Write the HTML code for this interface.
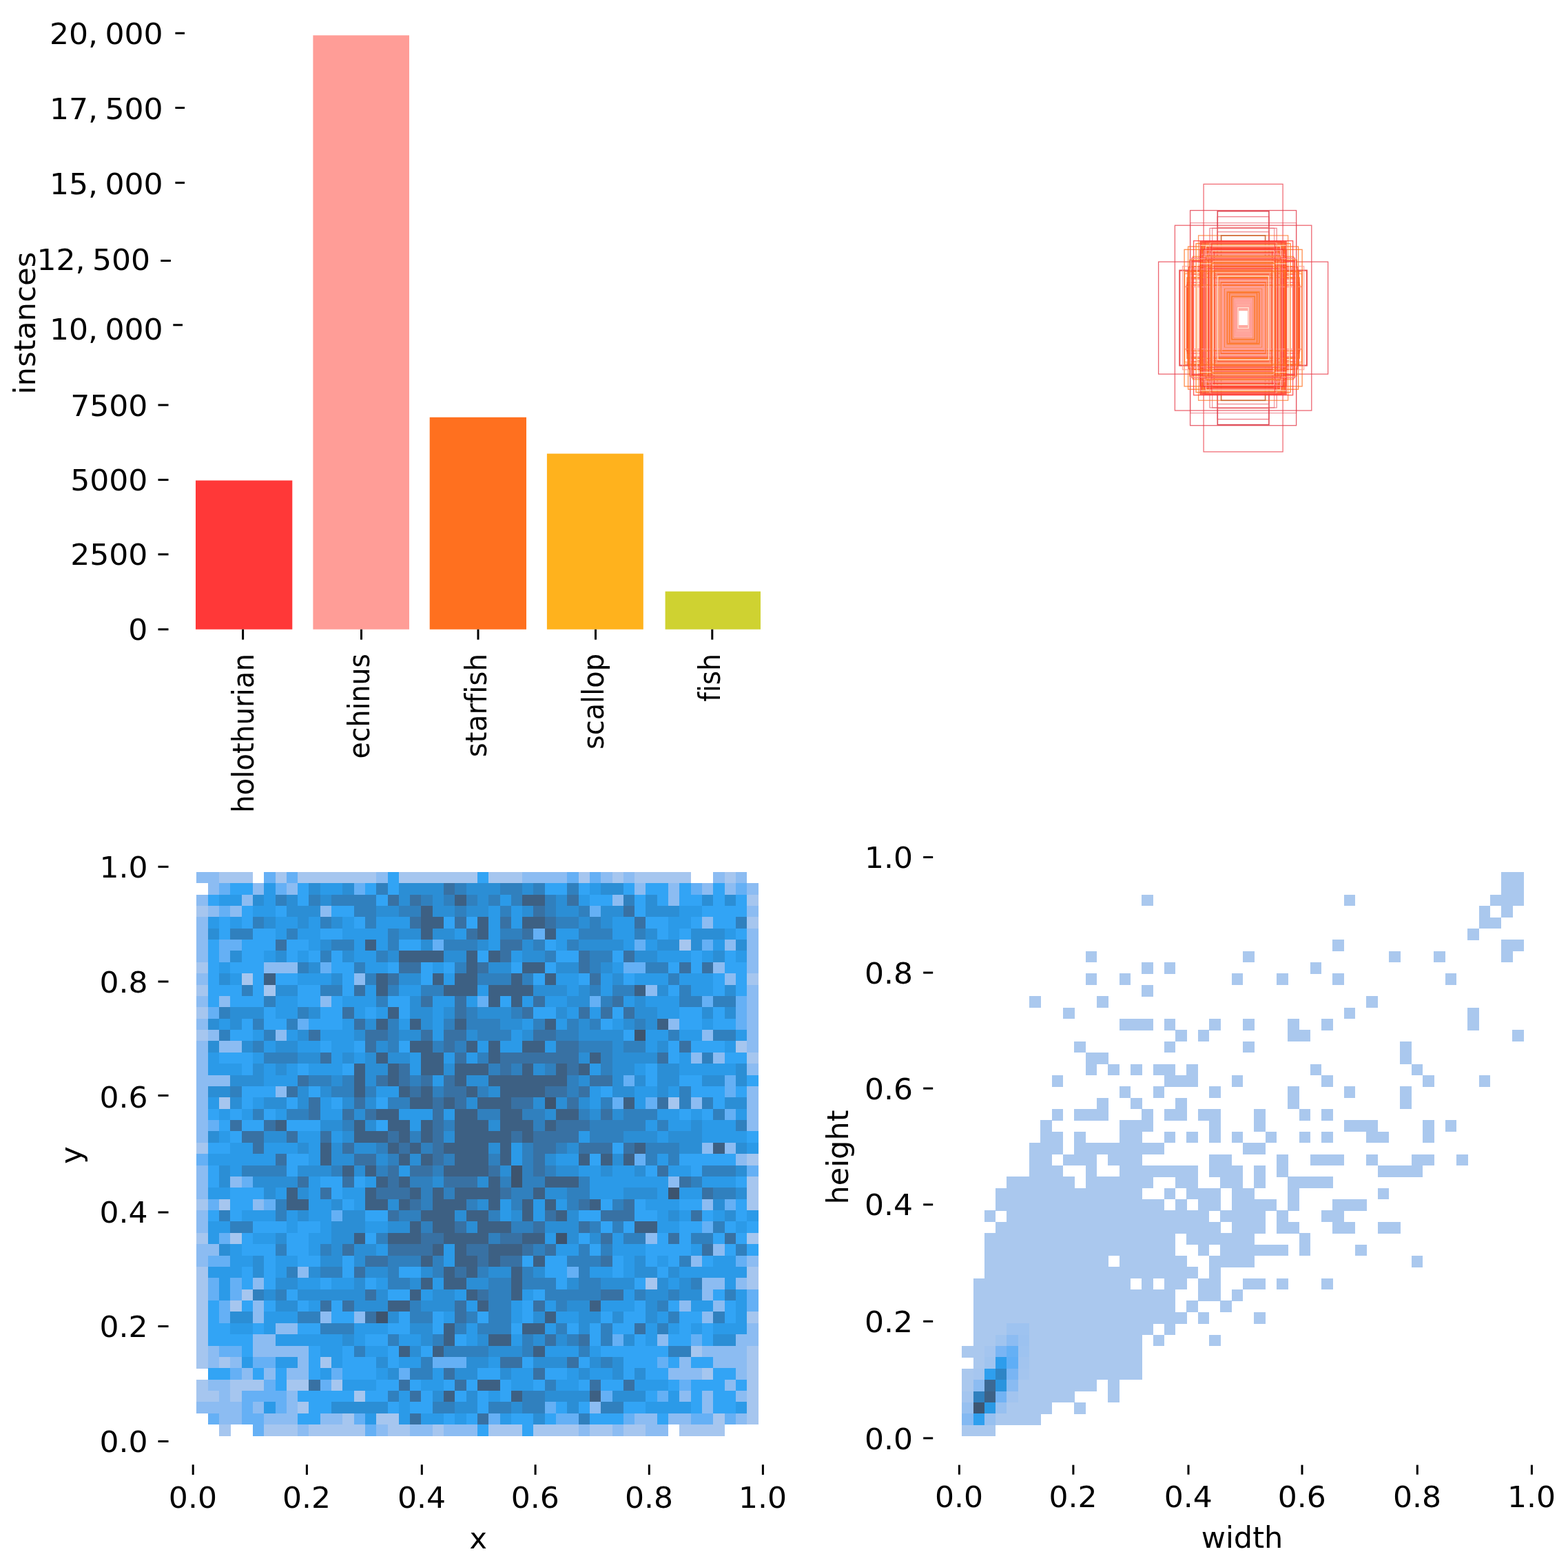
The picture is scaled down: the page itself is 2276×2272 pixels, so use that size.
<!DOCTYPE html>
<html lang="en"><head><meta charset="utf-8"><title>labels</title>
<style>
html,body{margin:0;padding:0;background:#fff;}
body{width:2276px;height:2272px;overflow:hidden;}
svg{display:block;font-family:'DejaVu Sans','Liberation Sans',sans-serif;fill:#000;font-variant-ligatures:none;font-feature-settings:'liga' 0,'clig' 0;font-kerning:none;}
</style></head><body>
<svg xmlns="http://www.w3.org/2000/svg" width="2276" height="2272" viewBox="0 0 2276 2272">
<rect x="0" y="0" width="2276" height="2272" fill="#fff"/>
<rect x="284.0" y="697.5" width="140.3" height="216.2" fill="#FF3838"/>
<rect x="454.4" y="51.3" width="139.6" height="862.4" fill="#FF9D97"/>
<rect x="623.7" y="605.8" width="140.3" height="307.9" fill="#FF701F"/>
<rect x="793.9" y="658.6" width="139.9" height="255.1" fill="#FFB21D"/>
<rect x="965.6" y="858.6" width="138.4" height="55.1" fill="#CFD231"/>
<rect x="254.4" y="46.7" width="13.599999999999994" height="3" fill="#000"/>
<text transform="translate(236.5 64.2) scale(1.025 1)" font-size="43" text-anchor="end">20, <tspan dx="1.5">000</tspan></text>
<rect x="254.4" y="155.0" width="13.599999999999994" height="3" fill="#000"/>
<text transform="translate(236.5 172.6) scale(1.025 1)" font-size="43" text-anchor="end">17, <tspan dx="1.5">500</tspan></text>
<rect x="254.4" y="263.8" width="13.599999999999994" height="3" fill="#000"/>
<text transform="translate(236.5 282.4) scale(1.025 1)" font-size="43" text-anchor="end">15, <tspan dx="1.5">000</tspan></text>
<rect x="233.3" y="377.0" width="14.599999999999994" height="3" fill="#000"/>
<text transform="translate(218.0 391.7) scale(1.025 1)" font-size="43" text-anchor="end">12, <tspan dx="1.5">500</tspan></text>
<rect x="251.3" y="470.3" width="13.699999999999989" height="3" fill="#000"/>
<text transform="translate(236.5 492.6) scale(1.025 1)" font-size="43" text-anchor="end">10, <tspan dx="1.5">000</tspan></text>
<rect x="229.5" y="586.5" width="15.0" height="3" fill="#000"/>
<text transform="translate(214.3 603.5) scale(1.025 1)" font-size="43" text-anchor="end">7500</text>
<rect x="229.5" y="695.1" width="15.0" height="3" fill="#000"/>
<text transform="translate(214.3 712.1) scale(1.025 1)" font-size="43" text-anchor="end">5000</text>
<rect x="229.5" y="803.3" width="15.0" height="3" fill="#000"/>
<text transform="translate(214.3 820.4) scale(1.025 1)" font-size="43" text-anchor="end">2500</text>
<rect x="229.5" y="912.2" width="15.0" height="3" fill="#000"/>
<text transform="translate(214.3 929.2) scale(1.025 1)" font-size="43" text-anchor="end">0</text>
<text transform="translate(50.6 469.0) rotate(-90) scale(1.0 1)" font-size="43.5" text-anchor="middle">instances</text>
<rect x="351.1" y="913.7" width="3" height="14.899999999999977" fill="#000"/>
<text transform="translate(367.6 949.0) rotate(-90) scale(0.938 1)" font-size="43" text-anchor="end">holothurian</text>
<rect x="523.0" y="913.7" width="3" height="14.899999999999977" fill="#000"/>
<text transform="translate(536.3 949.0) rotate(-90) scale(0.917 1)" font-size="43" text-anchor="end">echinus</text>
<rect x="692.5" y="913.7" width="3" height="14.899999999999977" fill="#000"/>
<text transform="translate(706.0 949.0) rotate(-90) scale(0.939 1)" font-size="43" text-anchor="end">starfish</text>
<rect x="863.0" y="913.7" width="3" height="14.899999999999977" fill="#000"/>
<text transform="translate(875.7 949.0) rotate(-90) scale(0.928 1)" font-size="43" text-anchor="end">scallop</text>
<rect x="1032.3" y="913.7" width="3" height="14.899999999999977" fill="#000"/>
<text transform="translate(1045.2 949.0) rotate(-90) scale(0.909 1)" font-size="43" text-anchor="end">fish</text>
<g fill="none">
<rect x="1747.1" y="267.3" width="115.0" height="388.6" stroke="#EE4A55" stroke-width="1.3" stroke-opacity="0.8"/>
<rect x="1727.6" y="305.5" width="154.0" height="312.2" stroke="#E23A4A" stroke-width="1.3" stroke-opacity="0.8"/>
<rect x="1727.6" y="323.6" width="154.0" height="276.0" stroke="#E8505E" stroke-width="1.2" stroke-opacity="0.6"/>
<rect x="1767.3" y="306.6" width="74.6" height="310.0" stroke="#D8303C" stroke-width="1.6" stroke-opacity="0.85"/>
<rect x="1767.3" y="314.6" width="74.6" height="294.0" stroke="#E8505E" stroke-width="1.4" stroke-opacity="0.7"/>
<rect x="1767.3" y="330.2" width="74.6" height="262.8" stroke="#F0807A" stroke-width="1.4" stroke-opacity="0.7"/>
<rect x="1767.3" y="336.6" width="74.6" height="250.0" stroke="#E8606A" stroke-width="1.4" stroke-opacity="0.7"/>
<rect x="1705.4" y="327.2" width="198.4" height="268.8" stroke="#E8404E" stroke-width="1.3" stroke-opacity="0.8"/>
<rect x="1756.0" y="331.3" width="97.2" height="260.6" stroke="#E8505E" stroke-width="1.2" stroke-opacity="0.7"/>
<rect x="1759.6" y="331.3" width="90.0" height="260.6" stroke="#E8505E" stroke-width="1.2" stroke-opacity="0.6"/>
<rect x="1739.6" y="341.9" width="130.0" height="239.4" stroke="#FF701F" stroke-width="1.3" stroke-opacity="0.7"/>
<rect x="1772.6" y="341.9" width="64.0" height="239.4" stroke="#C8602A" stroke-width="1.7" stroke-opacity="0.85"/>
<rect x="1681.6" y="380.1" width="246.0" height="163.0" stroke="#E8404E" stroke-width="1.3" stroke-opacity="0.8"/>
<rect x="1712.3" y="392.6" width="184.6" height="138.0" stroke="#E83030" stroke-width="2.0" stroke-opacity="0.85"/>
<rect x="1719.1" y="362.3" width="171.0" height="198.6" stroke="#FF701F" stroke-width="1.3" stroke-opacity="0.8"/>
<rect x="1724.6" y="358.0" width="160.0" height="207.2" stroke="#FF701F" stroke-width="1.3" stroke-opacity="0.8"/>
<rect x="1732.6" y="349.6" width="144.0" height="224.0" stroke="#FF3838" stroke-width="1.4" stroke-opacity="0.8"/>
<rect x="1716.6" y="386.6" width="176.0" height="150.0" stroke="#FF9D97" stroke-width="1.5" stroke-opacity="0.8"/>
<rect x="1736.1" y="353.6" width="137.0" height="216.0" stroke="#FF701F" stroke-width="1.4" stroke-opacity="0.8"/>
</g>
<g>
<rect x="1742.6" y="350.6" width="124.0" height="222.0" fill="#F8633C" fill-opacity="0.62"/>
<rect x="1752.6" y="371.6" width="104.0" height="180.0" fill="#FA8250" fill-opacity="0.7"/>
<rect x="1762.6" y="391.6" width="84.0" height="140.0" fill="#FFA68E" fill-opacity="1.0"/>
<rect x="1779.1" y="421.6" width="51.0" height="80.0" fill="#FB9058" fill-opacity="1.0"/>
<rect x="1791.1" y="433.1" width="27.0" height="57.0" fill="#FFA9A0" fill-opacity="1.0"/>
</g>
<g fill="none">
<rect x="1797.0" y="446.6" width="15.2" height="30.1" stroke="#FFF1DE" stroke-width="1.25" stroke-opacity="0.8"/>
<rect x="1753.2" y="363.4" width="102.7" height="196.3" stroke="#FF3838" stroke-width="1.2" stroke-opacity="0.75"/>
<rect x="1727.4" y="398.2" width="154.4" height="126.7" stroke="#FF3838" stroke-width="1.2" stroke-opacity="0.75"/>
<rect x="1723.9" y="403.5" width="161.4" height="116.2" stroke="#FF701F" stroke-width="1.2" stroke-opacity="0.75"/>
<rect x="1744.7" y="380.7" width="119.7" height="161.8" stroke="#FF701F" stroke-width="1.2" stroke-opacity="0.75"/>
<rect x="1786.2" y="428.1" width="36.7" height="67.0" stroke="#FF9D97" stroke-width="1.25" stroke-opacity="0.8"/>
<rect x="1759.7" y="365.9" width="89.8" height="191.3" stroke="#FF701F" stroke-width="1.2" stroke-opacity="0.75"/>
<rect x="1722.4" y="413.8" width="164.4" height="95.7" stroke="#FF3838" stroke-width="1.2" stroke-opacity="0.75"/>
<rect x="1752.5" y="362.2" width="104.2" height="198.8" stroke="#FF701F" stroke-width="1.2" stroke-opacity="0.75"/>
<rect x="1775.2" y="415.4" width="58.8" height="92.4" stroke="#FF9D97" stroke-width="1.25" stroke-opacity="0.8"/>
<rect x="1749.6" y="366.0" width="110.0" height="191.1" stroke="#FF701F" stroke-width="1.25" stroke-opacity="0.8"/>
<rect x="1755.9" y="379.4" width="97.4" height="164.5" stroke="#FF701F" stroke-width="1.2" stroke-opacity="0.75"/>
<rect x="1723.3" y="410.2" width="162.7" height="102.7" stroke="#FF3838" stroke-width="1.2" stroke-opacity="0.75"/>
<rect x="1745.3" y="373.7" width="118.6" height="175.9" stroke="#FF9D97" stroke-width="1.2" stroke-opacity="0.75"/>
<rect x="1744.7" y="380.5" width="119.8" height="162.2" stroke="#FF9D97" stroke-width="1.2" stroke-opacity="0.75"/>
<rect x="1783.0" y="425.8" width="43.2" height="71.5" stroke="#FF9D97" stroke-width="1.25" stroke-opacity="0.8"/>
<rect x="1752.9" y="387.0" width="103.4" height="149.3" stroke="#FF701F" stroke-width="1.2" stroke-opacity="0.75"/>
<rect x="1742.2" y="351.3" width="124.7" height="220.7" stroke="#FF701F" stroke-width="1.25" stroke-opacity="0.8"/>
<rect x="1719.3" y="394.6" width="170.7" height="133.9" stroke="#FF701F" stroke-width="1.2" stroke-opacity="0.75"/>
<rect x="1744.5" y="354.8" width="120.3" height="213.6" stroke="#FF701F" stroke-width="1.2" stroke-opacity="0.75"/>
<rect x="1761.4" y="374.5" width="86.5" height="174.2" stroke="#FF701F" stroke-width="1.2" stroke-opacity="0.75"/>
<rect x="1745.3" y="359.2" width="118.5" height="204.7" stroke="#FF701F" stroke-width="1.2" stroke-opacity="0.75"/>
<rect x="1748.3" y="383.0" width="112.6" height="157.1" stroke="#FF701F" stroke-width="1.2" stroke-opacity="0.75"/>
<rect x="1749.3" y="350.3" width="110.6" height="222.5" stroke="#FF3838" stroke-width="1.2" stroke-opacity="0.75"/>
<rect x="1753.8" y="375.3" width="101.6" height="172.6" stroke="#FF3838" stroke-width="1.2" stroke-opacity="0.75"/>
<rect x="1751.3" y="371.5" width="106.5" height="180.3" stroke="#FFF1DE" stroke-width="1.25" stroke-opacity="0.8"/>
<rect x="1748.5" y="359.0" width="112.3" height="205.3" stroke="#FF701F" stroke-width="1.2" stroke-opacity="0.75"/>
<rect x="1755.9" y="373.7" width="97.3" height="175.8" stroke="#FF9D97" stroke-width="1.2" stroke-opacity="0.75"/>
<rect x="1756.8" y="357.7" width="95.6" height="207.8" stroke="#FF3838" stroke-width="1.2" stroke-opacity="0.75"/>
<rect x="1752.7" y="368.0" width="103.8" height="187.1" stroke="#FF701F" stroke-width="1.2" stroke-opacity="0.75"/>
<rect x="1739.5" y="395.1" width="130.3" height="133.0" stroke="#FFF1DE" stroke-width="1.2" stroke-opacity="0.75"/>
<rect x="1743.8" y="352.2" width="121.6" height="218.8" stroke="#FF3838" stroke-width="1.25" stroke-opacity="0.8"/>
<rect x="1745.0" y="385.4" width="119.2" height="152.3" stroke="#FF701F" stroke-width="1.2" stroke-opacity="0.75"/>
<rect x="1780.0" y="421.6" width="49.3" height="80.1" stroke="#FF9D97" stroke-width="1.25" stroke-opacity="0.8"/>
<rect x="1795.2" y="445.3" width="18.8" height="32.6" stroke="#FF9D97" stroke-width="1.25" stroke-opacity="0.8"/>
<rect x="1745.3" y="356.1" width="118.6" height="211.1" stroke="#FF701F" stroke-width="1.25" stroke-opacity="0.8"/>
<rect x="1761.5" y="388.3" width="86.3" height="146.6" stroke="#FFF1DE" stroke-width="1.25" stroke-opacity="0.8"/>
<rect x="1727.2" y="405.0" width="154.8" height="113.1" stroke="#FF3838" stroke-width="1.2" stroke-opacity="0.75"/>
<rect x="1723.9" y="393.1" width="161.5" height="137.1" stroke="#FF3838" stroke-width="1.2" stroke-opacity="0.75"/>
<rect x="1787.9" y="430.6" width="33.3" height="61.9" stroke="#FF701F" stroke-width="1.25" stroke-opacity="0.8"/>
<rect x="1754.0" y="375.5" width="101.2" height="172.2" stroke="#FF9D97" stroke-width="1.25" stroke-opacity="0.8"/>
<rect x="1755.7" y="366.8" width="97.7" height="189.7" stroke="#FF3838" stroke-width="1.2" stroke-opacity="0.75"/>
<rect x="1789.6" y="432.0" width="30.0" height="59.3" stroke="#FF9D97" stroke-width="1.25" stroke-opacity="0.8"/>
<rect x="1754.3" y="360.6" width="100.6" height="202.0" stroke="#FF701F" stroke-width="1.2" stroke-opacity="0.75"/>
<rect x="1719.6" y="415.9" width="170.1" height="91.3" stroke="#FF9D97" stroke-width="1.2" stroke-opacity="0.75"/>
<rect x="1759.6" y="358.6" width="90.0" height="206.0" stroke="#FF9D97" stroke-width="1.2" stroke-opacity="0.75"/>
<rect x="1741.7" y="356.3" width="125.8" height="210.7" stroke="#FFF1DE" stroke-width="1.2" stroke-opacity="0.75"/>
<rect x="1755.1" y="379.4" width="98.9" height="164.4" stroke="#FF3838" stroke-width="1.25" stroke-opacity="0.8"/>
<rect x="1777.4" y="419.2" width="54.4" height="84.8" stroke="#FF701F" stroke-width="1.25" stroke-opacity="0.8"/>
<rect x="1744.6" y="369.2" width="120.1" height="184.8" stroke="#FF9D97" stroke-width="1.2" stroke-opacity="0.75"/>
<rect x="1764.4" y="396.6" width="80.5" height="130.0" stroke="#FF9D97" stroke-width="1.25" stroke-opacity="0.8"/>
<rect x="1751.4" y="359.8" width="106.5" height="203.7" stroke="#FF3838" stroke-width="1.2" stroke-opacity="0.75"/>
<rect x="1781.4" y="424.5" width="46.4" height="74.1" stroke="#FF701F" stroke-width="1.25" stroke-opacity="0.8"/>
<rect x="1792.6" y="437.3" width="23.9" height="48.6" stroke="#FF9D97" stroke-width="1.25" stroke-opacity="0.8"/>
<rect x="1742.4" y="378.9" width="124.3" height="165.4" stroke="#FF701F" stroke-width="1.2" stroke-opacity="0.75"/>
<rect x="1756.3" y="378.3" width="96.6" height="166.6" stroke="#FFF1DE" stroke-width="1.25" stroke-opacity="0.8"/>
<rect x="1744.6" y="387.7" width="120.0" height="147.8" stroke="#FF701F" stroke-width="1.2" stroke-opacity="0.75"/>
<rect x="1742.5" y="363.5" width="124.2" height="196.3" stroke="#FF701F" stroke-width="1.2" stroke-opacity="0.75"/>
<rect x="1793.8" y="440.0" width="21.6" height="43.3" stroke="#FF9D97" stroke-width="1.25" stroke-opacity="0.8"/>
<rect x="1751.2" y="368.0" width="106.8" height="187.2" stroke="#FF3838" stroke-width="1.2" stroke-opacity="0.75"/>
<rect x="1763.3" y="391.7" width="82.5" height="139.8" stroke="#FF701F" stroke-width="1.25" stroke-opacity="0.8"/>
<rect x="1746.7" y="361.5" width="115.9" height="200.1" stroke="#FF3838" stroke-width="1.25" stroke-opacity="0.8"/>
<rect x="1730.4" y="379.0" width="148.4" height="165.1" stroke="#FF3838" stroke-width="1.2" stroke-opacity="0.75"/>
<rect x="1769.0" y="402.4" width="71.2" height="118.4" stroke="#FF701F" stroke-width="1.25" stroke-opacity="0.8"/>
<rect x="1737.6" y="399.8" width="134.0" height="123.6" stroke="#FF701F" stroke-width="1.2" stroke-opacity="0.75"/>
<rect x="1743.1" y="414.3" width="123.0" height="94.6" stroke="#FF701F" stroke-width="1.2" stroke-opacity="0.75"/>
<rect x="1791.2" y="435.3" width="26.7" height="52.5" stroke="#FF9D97" stroke-width="1.25" stroke-opacity="0.8"/>
<rect x="1746.3" y="375.6" width="116.5" height="171.9" stroke="#FF3838" stroke-width="1.2" stroke-opacity="0.75"/>
<rect x="1727.9" y="403.1" width="153.4" height="116.9" stroke="#FF701F" stroke-width="1.2" stroke-opacity="0.75"/>
<rect x="1743.0" y="371.8" width="123.2" height="179.7" stroke="#FF3838" stroke-width="1.2" stroke-opacity="0.75"/>
<rect x="1757.5" y="383.9" width="94.2" height="155.4" stroke="#FF3838" stroke-width="1.25" stroke-opacity="0.8"/>
<rect x="1753.3" y="367.8" width="102.6" height="187.5" stroke="#FF9D97" stroke-width="1.2" stroke-opacity="0.75"/>
<rect x="1725.5" y="387.6" width="158.2" height="148.0" stroke="#FF3838" stroke-width="1.2" stroke-opacity="0.75"/>
<rect x="1750.9" y="369.0" width="107.3" height="185.3" stroke="#FF9D97" stroke-width="1.2" stroke-opacity="0.75"/>
<rect x="1719.2" y="416.6" width="170.7" height="90.0" stroke="#FF9D97" stroke-width="1.2" stroke-opacity="0.75"/>
<rect x="1752.7" y="373.7" width="103.7" height="175.8" stroke="#FFF1DE" stroke-width="1.25" stroke-opacity="0.8"/>
<rect x="1722.8" y="402.8" width="163.7" height="117.6" stroke="#FF701F" stroke-width="1.2" stroke-opacity="0.75"/>
<rect x="1762.5" y="361.4" width="84.2" height="200.3" stroke="#FF3838" stroke-width="1.2" stroke-opacity="0.75"/>
<rect x="1743.7" y="379.1" width="121.7" height="165.0" stroke="#FF701F" stroke-width="1.2" stroke-opacity="0.75"/>
<rect x="1731.3" y="372.4" width="146.6" height="178.4" stroke="#FF701F" stroke-width="1.2" stroke-opacity="0.75"/>
<rect x="1731.2" y="390.1" width="146.8" height="142.9" stroke="#FF3838" stroke-width="1.2" stroke-opacity="0.75"/>
<rect x="1728.9" y="413.7" width="151.3" height="95.7" stroke="#FF701F" stroke-width="1.2" stroke-opacity="0.75"/>
<rect x="1753.7" y="372.7" width="101.7" height="177.7" stroke="#FF701F" stroke-width="1.2" stroke-opacity="0.75"/>
<rect x="1760.7" y="379.9" width="87.7" height="163.4" stroke="#FF701F" stroke-width="1.2" stroke-opacity="0.75"/>
<rect x="1759.0" y="364.1" width="91.1" height="195.0" stroke="#FFF1DE" stroke-width="1.2" stroke-opacity="0.75"/>
<rect x="1719.7" y="397.4" width="169.8" height="128.4" stroke="#FF701F" stroke-width="1.2" stroke-opacity="0.75"/>
<rect x="1773.5" y="412.0" width="62.3" height="99.2" stroke="#FF9D97" stroke-width="1.25" stroke-opacity="0.8"/>
<rect x="1727.8" y="378.7" width="153.6" height="165.8" stroke="#FF3838" stroke-width="1.2" stroke-opacity="0.75"/>
<rect x="1778.6" y="420.1" width="52.1" height="83.1" stroke="#FF9D97" stroke-width="1.25" stroke-opacity="0.8"/>
<rect x="1742.8" y="384.7" width="123.5" height="153.8" stroke="#FF3838" stroke-width="1.2" stroke-opacity="0.75"/>
<rect x="1750.5" y="357.1" width="108.2" height="209.0" stroke="#FFF1DE" stroke-width="1.2" stroke-opacity="0.75"/>
<rect x="1748.2" y="363.5" width="112.7" height="196.1" stroke="#FF9D97" stroke-width="1.25" stroke-opacity="0.8"/>
<rect x="1784.7" y="425.1" width="39.9" height="73.1" stroke="#FF701F" stroke-width="1.25" stroke-opacity="0.8"/>
<rect x="1727.2" y="390.7" width="154.9" height="141.8" stroke="#FF9D97" stroke-width="1.2" stroke-opacity="0.75"/>
<rect x="1742.0" y="350.4" width="125.3" height="222.4" stroke="#FF3838" stroke-width="1.2" stroke-opacity="0.75"/>
<rect x="1756.1" y="352.7" width="97.1" height="217.7" stroke="#FF9D97" stroke-width="1.2" stroke-opacity="0.75"/>
<rect x="1757.4" y="374.2" width="94.3" height="174.8" stroke="#FF701F" stroke-width="1.2" stroke-opacity="0.75"/>
<rect x="1747.7" y="371.9" width="113.8" height="179.4" stroke="#FF9D97" stroke-width="1.2" stroke-opacity="0.75"/>
<rect x="1728.8" y="375.3" width="151.6" height="172.5" stroke="#FFF1DE" stroke-width="1.2" stroke-opacity="0.75"/>
<rect x="1758.8" y="353.3" width="91.7" height="216.6" stroke="#FF3838" stroke-width="1.2" stroke-opacity="0.75"/>
<rect x="1766.2" y="396.4" width="76.7" height="130.3" stroke="#FF9D97" stroke-width="1.25" stroke-opacity="0.8"/>
<rect x="1760.0" y="384.8" width="89.2" height="153.6" stroke="#FF9D97" stroke-width="1.25" stroke-opacity="0.8"/>
<rect x="1761.0" y="379.3" width="87.3" height="164.6" stroke="#FFF1DE" stroke-width="1.2" stroke-opacity="0.75"/>
<rect x="1725.1" y="393.0" width="159.0" height="137.3" stroke="#FF701F" stroke-width="1.2" stroke-opacity="0.75"/>
<rect x="1751.0" y="371.5" width="107.3" height="180.1" stroke="#FF701F" stroke-width="1.2" stroke-opacity="0.75"/>
<rect x="1754.3" y="389.9" width="100.6" height="143.3" stroke="#FF3838" stroke-width="1.2" stroke-opacity="0.75"/>
<rect x="1724.9" y="394.6" width="159.5" height="134.0" stroke="#FF701F" stroke-width="1.2" stroke-opacity="0.75"/>
<rect x="1730.7" y="386.8" width="147.9" height="149.7" stroke="#FF701F" stroke-width="1.2" stroke-opacity="0.75"/>
<rect x="1748.9" y="376.4" width="111.4" height="170.4" stroke="#FF3838" stroke-width="1.2" stroke-opacity="0.75"/>
<rect x="1741.7" y="362.3" width="125.8" height="198.5" stroke="#FF3838" stroke-width="1.2" stroke-opacity="0.75"/>
<rect x="1772.2" y="409.8" width="64.8" height="103.6" stroke="#FF701F" stroke-width="1.25" stroke-opacity="0.8"/>
<rect x="1767.8" y="400.8" width="73.6" height="121.5" stroke="#FFF1DE" stroke-width="1.25" stroke-opacity="0.8"/>
<rect x="1770.7" y="407.3" width="67.8" height="108.6" stroke="#FF9D97" stroke-width="1.25" stroke-opacity="0.8"/>
<rect x="1776.2" y="417.9" width="56.7" height="87.4" stroke="#FF9D97" stroke-width="1.25" stroke-opacity="0.8"/>
<rect x="1729.8" y="374.7" width="149.6" height="173.8" stroke="#FF3838" stroke-width="1.2" stroke-opacity="0.75"/>
<rect x="1737.5" y="382.9" width="134.1" height="157.5" stroke="#FFF1DE" stroke-width="1.2" stroke-opacity="0.75"/>
<rect x="1726.7" y="377.3" width="155.8" height="168.7" stroke="#FF701F" stroke-width="1.2" stroke-opacity="0.75"/>
<rect x="1742.6" y="381.2" width="124.0" height="160.9" stroke="#FF701F" stroke-width="1.2" stroke-opacity="0.75"/>
<rect x="1758.7" y="382.5" width="91.9" height="158.3" stroke="#FF701F" stroke-width="1.25" stroke-opacity="0.8"/>
</g>
<rect x="1798.3" y="451.2" width="12.6" height="20.8" fill="#FFFFFF"/>
<g shape-rendering="crispEdges">
<rect x="285.4" y="1265.7" width="32.9" height="16.7" fill="#8cbcf2"/>
<rect x="318.0" y="1265.7" width="49.2" height="16.7" fill="#a6c6ef"/>
<rect x="383.2" y="1265.7" width="16.6" height="16.7" fill="#65b0f5"/>
<rect x="399.5" y="1265.7" width="16.6" height="16.7" fill="#a6c6ef"/>
<rect x="415.8" y="1265.7" width="16.6" height="16.7" fill="#65b0f5"/>
<rect x="432.1" y="1265.7" width="114.4" height="16.7" fill="#a6c6ef"/>
<rect x="546.2" y="1265.7" width="16.6" height="16.7" fill="#8cbcf2"/>
<rect x="562.5" y="1265.7" width="16.6" height="16.7" fill="#32a4f5"/>
<rect x="578.8" y="1265.7" width="114.4" height="16.7" fill="#a6c6ef"/>
<rect x="692.9" y="1265.7" width="16.6" height="16.7" fill="#32a4f5"/>
<rect x="709.2" y="1265.7" width="49.2" height="16.7" fill="#a6c6ef"/>
<rect x="758.1" y="1265.7" width="65.5" height="16.7" fill="#8cbcf2"/>
<rect x="823.3" y="1265.7" width="16.6" height="16.7" fill="#65b0f5"/>
<rect x="839.6" y="1265.7" width="16.6" height="16.7" fill="#a6c6ef"/>
<rect x="855.9" y="1265.7" width="16.6" height="16.7" fill="#65b0f5"/>
<rect x="872.2" y="1265.7" width="16.6" height="16.7" fill="#8cbcf2"/>
<rect x="888.5" y="1265.7" width="16.6" height="16.7" fill="#a6c6ef"/>
<rect x="904.8" y="1265.7" width="16.6" height="16.7" fill="#8cbcf2"/>
<rect x="921.1" y="1265.7" width="81.8" height="16.7" fill="#a6c6ef"/>
<rect x="1035.2" y="1265.7" width="16.6" height="16.7" fill="#8cbcf2"/>
<rect x="1051.5" y="1265.7" width="16.6" height="16.7" fill="#a6c6ef"/>
<rect x="1067.8" y="1265.7" width="16.6" height="16.7" fill="#8cbcf2"/>
<rect x="301.7" y="1282.1" width="16.6" height="16.7" fill="#8cbcf2"/>
<rect x="318.0" y="1282.1" width="16.6" height="16.7" fill="#65b0f5"/>
<rect x="334.3" y="1282.1" width="32.9" height="16.7" fill="#32a4f5"/>
<rect x="366.9" y="1282.1" width="16.6" height="16.7" fill="#8cbcf2"/>
<rect x="383.2" y="1282.1" width="16.6" height="16.7" fill="#2b9ae8"/>
<rect x="399.5" y="1282.1" width="16.6" height="16.7" fill="#65b0f5"/>
<rect x="415.8" y="1282.1" width="16.6" height="16.7" fill="#8cbcf2"/>
<rect x="432.1" y="1282.1" width="16.6" height="16.7" fill="#32a4f5"/>
<rect x="448.4" y="1282.1" width="16.6" height="16.7" fill="#2b8ed5"/>
<rect x="464.7" y="1282.1" width="32.9" height="16.7" fill="#2b9ae8"/>
<rect x="497.3" y="1282.1" width="16.6" height="16.7" fill="#2b8ed5"/>
<rect x="513.6" y="1282.1" width="16.6" height="16.7" fill="#65b0f5"/>
<rect x="529.9" y="1282.1" width="16.6" height="16.7" fill="#32a4f5"/>
<rect x="546.2" y="1282.1" width="16.6" height="16.7" fill="#3080be"/>
<rect x="562.5" y="1282.1" width="16.6" height="16.7" fill="#32a4f5"/>
<rect x="578.8" y="1282.1" width="65.5" height="16.7" fill="#2b8ed5"/>
<rect x="644.0" y="1282.1" width="16.6" height="16.7" fill="#3871a3"/>
<rect x="660.3" y="1282.1" width="16.6" height="16.7" fill="#3080be"/>
<rect x="676.6" y="1282.1" width="49.2" height="16.7" fill="#2b8ed5"/>
<rect x="725.5" y="1282.1" width="32.9" height="16.7" fill="#3080be"/>
<rect x="758.1" y="1282.1" width="16.6" height="16.7" fill="#2b8ed5"/>
<rect x="774.4" y="1282.1" width="16.6" height="16.7" fill="#3080be"/>
<rect x="790.7" y="1282.1" width="32.9" height="16.7" fill="#32a4f5"/>
<rect x="823.3" y="1282.1" width="16.6" height="16.7" fill="#3080be"/>
<rect x="839.6" y="1282.1" width="16.6" height="16.7" fill="#32a4f5"/>
<rect x="855.9" y="1282.1" width="16.6" height="16.7" fill="#2b9ae8"/>
<rect x="872.2" y="1282.1" width="32.9" height="16.7" fill="#2b8ed5"/>
<rect x="904.8" y="1282.1" width="16.6" height="16.7" fill="#32a4f5"/>
<rect x="921.1" y="1282.1" width="16.6" height="16.7" fill="#8cbcf2"/>
<rect x="937.4" y="1282.1" width="32.9" height="16.7" fill="#32a4f5"/>
<rect x="970.0" y="1282.1" width="16.6" height="16.7" fill="#8cbcf2"/>
<rect x="986.3" y="1282.1" width="16.6" height="16.7" fill="#32a4f5"/>
<rect x="1002.6" y="1282.1" width="16.6" height="16.7" fill="#65b0f5"/>
<rect x="1018.9" y="1282.1" width="16.6" height="16.7" fill="#8cbcf2"/>
<rect x="1035.2" y="1282.1" width="16.6" height="16.7" fill="#32a4f5"/>
<rect x="1051.5" y="1282.1" width="16.6" height="16.7" fill="#8cbcf2"/>
<rect x="1067.8" y="1282.1" width="16.6" height="16.7" fill="#65b0f5"/>
<rect x="1084.1" y="1282.1" width="16.6" height="16.7" fill="#8cbcf2"/>
<rect x="285.4" y="1298.5" width="16.6" height="16.6" fill="#8cbcf2"/>
<rect x="301.7" y="1298.5" width="16.6" height="16.6" fill="#32a4f5"/>
<rect x="318.0" y="1298.5" width="32.9" height="16.6" fill="#2b9ae8"/>
<rect x="350.6" y="1298.5" width="16.6" height="16.6" fill="#8cbcf2"/>
<rect x="366.9" y="1298.5" width="16.6" height="16.6" fill="#2b8ed5"/>
<rect x="383.2" y="1298.5" width="16.6" height="16.6" fill="#2b9ae8"/>
<rect x="399.5" y="1298.5" width="16.6" height="16.6" fill="#3080be"/>
<rect x="415.8" y="1298.5" width="16.6" height="16.6" fill="#2b8ed5"/>
<rect x="432.1" y="1298.5" width="16.6" height="16.6" fill="#32a4f5"/>
<rect x="448.4" y="1298.5" width="16.6" height="16.6" fill="#3080be"/>
<rect x="464.7" y="1298.5" width="16.6" height="16.6" fill="#2b8ed5"/>
<rect x="481.0" y="1298.5" width="65.5" height="16.6" fill="#3080be"/>
<rect x="546.2" y="1298.5" width="16.6" height="16.6" fill="#32a4f5"/>
<rect x="562.5" y="1298.5" width="16.6" height="16.6" fill="#3871a3"/>
<rect x="578.8" y="1298.5" width="16.6" height="16.6" fill="#2b8ed5"/>
<rect x="595.1" y="1298.5" width="16.6" height="16.6" fill="#3871a3"/>
<rect x="611.4" y="1298.5" width="16.6" height="16.6" fill="#3080be"/>
<rect x="627.7" y="1298.5" width="16.6" height="16.6" fill="#2b8ed5"/>
<rect x="644.0" y="1298.5" width="16.6" height="16.6" fill="#3080be"/>
<rect x="660.3" y="1298.5" width="16.6" height="16.6" fill="#3d6083"/>
<rect x="676.6" y="1298.5" width="16.6" height="16.6" fill="#3080be"/>
<rect x="692.9" y="1298.5" width="16.6" height="16.6" fill="#2b8ed5"/>
<rect x="709.2" y="1298.5" width="16.6" height="16.6" fill="#3080be"/>
<rect x="725.5" y="1298.5" width="16.6" height="16.6" fill="#2b9ae8"/>
<rect x="741.8" y="1298.5" width="16.6" height="16.6" fill="#3080be"/>
<rect x="758.1" y="1298.5" width="32.9" height="16.6" fill="#3d6083"/>
<rect x="790.7" y="1298.5" width="16.6" height="16.6" fill="#3080be"/>
<rect x="807.0" y="1298.5" width="16.6" height="16.6" fill="#2b8ed5"/>
<rect x="823.3" y="1298.5" width="16.6" height="16.6" fill="#3871a3"/>
<rect x="839.6" y="1298.5" width="16.6" height="16.6" fill="#2b9ae8"/>
<rect x="855.9" y="1298.5" width="32.9" height="16.6" fill="#32a4f5"/>
<rect x="888.5" y="1298.5" width="16.6" height="16.6" fill="#8cbcf2"/>
<rect x="904.8" y="1298.5" width="16.6" height="16.6" fill="#3080be"/>
<rect x="921.1" y="1298.5" width="16.6" height="16.6" fill="#32a4f5"/>
<rect x="937.4" y="1298.5" width="16.6" height="16.6" fill="#2b8ed5"/>
<rect x="953.7" y="1298.5" width="16.6" height="16.6" fill="#32a4f5"/>
<rect x="970.0" y="1298.5" width="16.6" height="16.6" fill="#8cbcf2"/>
<rect x="986.3" y="1298.5" width="32.9" height="16.6" fill="#32a4f5"/>
<rect x="1018.9" y="1298.5" width="16.6" height="16.6" fill="#2b8ed5"/>
<rect x="1035.2" y="1298.5" width="16.6" height="16.6" fill="#32a4f5"/>
<rect x="1051.5" y="1298.5" width="16.6" height="16.6" fill="#2b8ed5"/>
<rect x="1067.8" y="1298.5" width="16.6" height="16.6" fill="#32a4f5"/>
<rect x="1084.1" y="1298.5" width="16.6" height="16.6" fill="#a6c6ef"/>
<rect x="285.4" y="1314.8" width="16.6" height="16.7" fill="#a6c6ef"/>
<rect x="301.7" y="1314.8" width="16.6" height="16.7" fill="#8cbcf2"/>
<rect x="318.0" y="1314.8" width="16.6" height="16.7" fill="#65b0f5"/>
<rect x="334.3" y="1314.8" width="16.6" height="16.7" fill="#8cbcf2"/>
<rect x="350.6" y="1314.8" width="16.6" height="16.7" fill="#32a4f5"/>
<rect x="366.9" y="1314.8" width="32.9" height="16.7" fill="#2b9ae8"/>
<rect x="399.5" y="1314.8" width="16.6" height="16.7" fill="#32a4f5"/>
<rect x="415.8" y="1314.8" width="49.2" height="16.7" fill="#2b8ed5"/>
<rect x="464.7" y="1314.8" width="16.6" height="16.7" fill="#8cbcf2"/>
<rect x="481.0" y="1314.8" width="32.9" height="16.7" fill="#32a4f5"/>
<rect x="513.6" y="1314.8" width="32.9" height="16.7" fill="#3080be"/>
<rect x="546.2" y="1314.8" width="32.9" height="16.7" fill="#2b8ed5"/>
<rect x="578.8" y="1314.8" width="32.9" height="16.7" fill="#3080be"/>
<rect x="611.4" y="1314.8" width="16.6" height="16.7" fill="#3d6083"/>
<rect x="627.7" y="1314.8" width="32.9" height="16.7" fill="#2b8ed5"/>
<rect x="660.3" y="1314.8" width="16.6" height="16.7" fill="#3080be"/>
<rect x="676.6" y="1314.8" width="32.9" height="16.7" fill="#2b8ed5"/>
<rect x="709.2" y="1314.8" width="16.6" height="16.7" fill="#2b9ae8"/>
<rect x="725.5" y="1314.8" width="16.6" height="16.7" fill="#3080be"/>
<rect x="741.8" y="1314.8" width="16.6" height="16.7" fill="#2b9ae8"/>
<rect x="758.1" y="1314.8" width="16.6" height="16.7" fill="#2b8ed5"/>
<rect x="774.4" y="1314.8" width="16.6" height="16.7" fill="#3871a3"/>
<rect x="790.7" y="1314.8" width="16.6" height="16.7" fill="#3080be"/>
<rect x="807.0" y="1314.8" width="32.9" height="16.7" fill="#2b8ed5"/>
<rect x="839.6" y="1314.8" width="16.6" height="16.7" fill="#3080be"/>
<rect x="855.9" y="1314.8" width="16.6" height="16.7" fill="#65b0f5"/>
<rect x="872.2" y="1314.8" width="32.9" height="16.7" fill="#2b8ed5"/>
<rect x="904.8" y="1314.8" width="16.6" height="16.7" fill="#3871a3"/>
<rect x="921.1" y="1314.8" width="16.6" height="16.7" fill="#32a4f5"/>
<rect x="937.4" y="1314.8" width="49.2" height="16.7" fill="#2b8ed5"/>
<rect x="986.3" y="1314.8" width="32.9" height="16.7" fill="#2b9ae8"/>
<rect x="1018.9" y="1314.8" width="65.5" height="16.7" fill="#32a4f5"/>
<rect x="1084.1" y="1314.8" width="16.6" height="16.7" fill="#8cbcf2"/>
<rect x="285.4" y="1331.2" width="16.6" height="16.7" fill="#8cbcf2"/>
<rect x="301.7" y="1331.2" width="16.6" height="16.7" fill="#2b9ae8"/>
<rect x="318.0" y="1331.2" width="16.6" height="16.7" fill="#32a4f5"/>
<rect x="334.3" y="1331.2" width="16.6" height="16.7" fill="#2b9ae8"/>
<rect x="350.6" y="1331.2" width="16.6" height="16.7" fill="#32a4f5"/>
<rect x="366.9" y="1331.2" width="16.6" height="16.7" fill="#3080be"/>
<rect x="383.2" y="1331.2" width="16.6" height="16.7" fill="#2b8ed5"/>
<rect x="399.5" y="1331.2" width="32.9" height="16.7" fill="#2b9ae8"/>
<rect x="432.1" y="1331.2" width="16.6" height="16.7" fill="#2b8ed5"/>
<rect x="448.4" y="1331.2" width="16.6" height="16.7" fill="#2b9ae8"/>
<rect x="464.7" y="1331.2" width="16.6" height="16.7" fill="#3080be"/>
<rect x="481.0" y="1331.2" width="16.6" height="16.7" fill="#2b8ed5"/>
<rect x="497.3" y="1331.2" width="16.6" height="16.7" fill="#2b9ae8"/>
<rect x="513.6" y="1331.2" width="16.6" height="16.7" fill="#32a4f5"/>
<rect x="529.9" y="1331.2" width="16.6" height="16.7" fill="#3080be"/>
<rect x="546.2" y="1331.2" width="49.2" height="16.7" fill="#2b9ae8"/>
<rect x="595.1" y="1331.2" width="16.6" height="16.7" fill="#3871a3"/>
<rect x="611.4" y="1331.2" width="32.9" height="16.7" fill="#3d6083"/>
<rect x="644.0" y="1331.2" width="16.6" height="16.7" fill="#32a4f5"/>
<rect x="660.3" y="1331.2" width="16.6" height="16.7" fill="#3871a3"/>
<rect x="676.6" y="1331.2" width="16.6" height="16.7" fill="#32a4f5"/>
<rect x="692.9" y="1331.2" width="16.6" height="16.7" fill="#3d6083"/>
<rect x="709.2" y="1331.2" width="16.6" height="16.7" fill="#2b9ae8"/>
<rect x="725.5" y="1331.2" width="16.6" height="16.7" fill="#3871a3"/>
<rect x="741.8" y="1331.2" width="16.6" height="16.7" fill="#2b9ae8"/>
<rect x="758.1" y="1331.2" width="32.9" height="16.7" fill="#3d6083"/>
<rect x="790.7" y="1331.2" width="16.6" height="16.7" fill="#3871a3"/>
<rect x="807.0" y="1331.2" width="32.9" height="16.7" fill="#3080be"/>
<rect x="839.6" y="1331.2" width="16.6" height="16.7" fill="#2b8ed5"/>
<rect x="855.9" y="1331.2" width="16.6" height="16.7" fill="#3080be"/>
<rect x="872.2" y="1331.2" width="16.6" height="16.7" fill="#2b8ed5"/>
<rect x="888.5" y="1331.2" width="32.9" height="16.7" fill="#2b9ae8"/>
<rect x="921.1" y="1331.2" width="16.6" height="16.7" fill="#3871a3"/>
<rect x="937.4" y="1331.2" width="32.9" height="16.7" fill="#32a4f5"/>
<rect x="970.0" y="1331.2" width="32.9" height="16.7" fill="#2b9ae8"/>
<rect x="1002.6" y="1331.2" width="16.6" height="16.7" fill="#32a4f5"/>
<rect x="1018.9" y="1331.2" width="16.6" height="16.7" fill="#8cbcf2"/>
<rect x="1035.2" y="1331.2" width="32.9" height="16.7" fill="#32a4f5"/>
<rect x="1067.8" y="1331.2" width="16.6" height="16.7" fill="#3080be"/>
<rect x="1084.1" y="1331.2" width="16.6" height="16.7" fill="#a6c6ef"/>
<rect x="285.4" y="1347.6" width="16.6" height="16.7" fill="#8cbcf2"/>
<rect x="301.7" y="1347.6" width="16.6" height="16.7" fill="#2b8ed5"/>
<rect x="318.0" y="1347.6" width="16.6" height="16.7" fill="#32a4f5"/>
<rect x="334.3" y="1347.6" width="32.9" height="16.7" fill="#3080be"/>
<rect x="366.9" y="1347.6" width="32.9" height="16.7" fill="#32a4f5"/>
<rect x="399.5" y="1347.6" width="16.6" height="16.7" fill="#2b9ae8"/>
<rect x="415.8" y="1347.6" width="16.6" height="16.7" fill="#3080be"/>
<rect x="432.1" y="1347.6" width="32.9" height="16.7" fill="#2b9ae8"/>
<rect x="464.7" y="1347.6" width="32.9" height="16.7" fill="#32a4f5"/>
<rect x="497.3" y="1347.6" width="65.5" height="16.7" fill="#2b9ae8"/>
<rect x="562.5" y="1347.6" width="16.6" height="16.7" fill="#3080be"/>
<rect x="578.8" y="1347.6" width="32.9" height="16.7" fill="#2b8ed5"/>
<rect x="611.4" y="1347.6" width="16.6" height="16.7" fill="#3d6083"/>
<rect x="627.7" y="1347.6" width="32.9" height="16.7" fill="#2b8ed5"/>
<rect x="660.3" y="1347.6" width="16.6" height="16.7" fill="#2b9ae8"/>
<rect x="676.6" y="1347.6" width="16.6" height="16.7" fill="#3871a3"/>
<rect x="692.9" y="1347.6" width="16.6" height="16.7" fill="#3d6083"/>
<rect x="709.2" y="1347.6" width="16.6" height="16.7" fill="#2b9ae8"/>
<rect x="725.5" y="1347.6" width="32.9" height="16.7" fill="#3080be"/>
<rect x="758.1" y="1347.6" width="16.6" height="16.7" fill="#3871a3"/>
<rect x="774.4" y="1347.6" width="16.6" height="16.7" fill="#65b0f5"/>
<rect x="790.7" y="1347.6" width="16.6" height="16.7" fill="#3d6083"/>
<rect x="807.0" y="1347.6" width="32.9" height="16.7" fill="#2b9ae8"/>
<rect x="839.6" y="1347.6" width="49.2" height="16.7" fill="#3080be"/>
<rect x="888.5" y="1347.6" width="32.9" height="16.7" fill="#2b9ae8"/>
<rect x="921.1" y="1347.6" width="16.6" height="16.7" fill="#3080be"/>
<rect x="937.4" y="1347.6" width="16.6" height="16.7" fill="#2b8ed5"/>
<rect x="953.7" y="1347.6" width="16.6" height="16.7" fill="#32a4f5"/>
<rect x="970.0" y="1347.6" width="16.6" height="16.7" fill="#2b9ae8"/>
<rect x="986.3" y="1347.6" width="16.6" height="16.7" fill="#32a4f5"/>
<rect x="1002.6" y="1347.6" width="49.2" height="16.7" fill="#2b8ed5"/>
<rect x="1051.5" y="1347.6" width="16.6" height="16.7" fill="#2b9ae8"/>
<rect x="1067.8" y="1347.6" width="16.6" height="16.7" fill="#32a4f5"/>
<rect x="1084.1" y="1347.6" width="16.6" height="16.7" fill="#8cbcf2"/>
<rect x="285.4" y="1364.0" width="16.6" height="16.6" fill="#8cbcf2"/>
<rect x="301.7" y="1364.0" width="16.6" height="16.6" fill="#32a4f5"/>
<rect x="318.0" y="1364.0" width="32.9" height="16.6" fill="#65b0f5"/>
<rect x="350.6" y="1364.0" width="49.2" height="16.6" fill="#32a4f5"/>
<rect x="399.5" y="1364.0" width="16.6" height="16.6" fill="#3871a3"/>
<rect x="415.8" y="1364.0" width="32.9" height="16.6" fill="#32a4f5"/>
<rect x="448.4" y="1364.0" width="16.6" height="16.6" fill="#2b9ae8"/>
<rect x="464.7" y="1364.0" width="16.6" height="16.6" fill="#2b8ed5"/>
<rect x="481.0" y="1364.0" width="32.9" height="16.6" fill="#3080be"/>
<rect x="513.6" y="1364.0" width="16.6" height="16.6" fill="#2b9ae8"/>
<rect x="529.9" y="1364.0" width="16.6" height="16.6" fill="#3d6083"/>
<rect x="546.2" y="1364.0" width="16.6" height="16.6" fill="#2b9ae8"/>
<rect x="562.5" y="1364.0" width="16.6" height="16.6" fill="#3080be"/>
<rect x="578.8" y="1364.0" width="32.9" height="16.6" fill="#32a4f5"/>
<rect x="611.4" y="1364.0" width="16.6" height="16.6" fill="#2b8ed5"/>
<rect x="627.7" y="1364.0" width="16.6" height="16.6" fill="#65b0f5"/>
<rect x="644.0" y="1364.0" width="49.2" height="16.6" fill="#3080be"/>
<rect x="692.9" y="1364.0" width="16.6" height="16.6" fill="#2b8ed5"/>
<rect x="709.2" y="1364.0" width="16.6" height="16.6" fill="#2b9ae8"/>
<rect x="725.5" y="1364.0" width="32.9" height="16.6" fill="#3871a3"/>
<rect x="758.1" y="1364.0" width="16.6" height="16.6" fill="#2b8ed5"/>
<rect x="774.4" y="1364.0" width="16.6" height="16.6" fill="#3080be"/>
<rect x="790.7" y="1364.0" width="16.6" height="16.6" fill="#32a4f5"/>
<rect x="807.0" y="1364.0" width="16.6" height="16.6" fill="#2b9ae8"/>
<rect x="823.3" y="1364.0" width="16.6" height="16.6" fill="#3080be"/>
<rect x="839.6" y="1364.0" width="65.5" height="16.6" fill="#2b8ed5"/>
<rect x="904.8" y="1364.0" width="16.6" height="16.6" fill="#2b9ae8"/>
<rect x="921.1" y="1364.0" width="16.6" height="16.6" fill="#65b0f5"/>
<rect x="937.4" y="1364.0" width="16.6" height="16.6" fill="#2b9ae8"/>
<rect x="953.7" y="1364.0" width="32.9" height="16.6" fill="#2b8ed5"/>
<rect x="986.3" y="1364.0" width="16.6" height="16.6" fill="#a6c6ef"/>
<rect x="1002.6" y="1364.0" width="16.6" height="16.6" fill="#2b8ed5"/>
<rect x="1018.9" y="1364.0" width="16.6" height="16.6" fill="#65b0f5"/>
<rect x="1035.2" y="1364.0" width="16.6" height="16.6" fill="#2b9ae8"/>
<rect x="1051.5" y="1364.0" width="16.6" height="16.6" fill="#8cbcf2"/>
<rect x="1067.8" y="1364.0" width="16.6" height="16.6" fill="#2b8ed5"/>
<rect x="1084.1" y="1364.0" width="16.6" height="16.6" fill="#8cbcf2"/>
<rect x="285.4" y="1380.3" width="16.6" height="16.7" fill="#8cbcf2"/>
<rect x="301.7" y="1380.3" width="16.6" height="16.7" fill="#32a4f5"/>
<rect x="318.0" y="1380.3" width="16.6" height="16.7" fill="#65b0f5"/>
<rect x="334.3" y="1380.3" width="16.6" height="16.7" fill="#2b8ed5"/>
<rect x="350.6" y="1380.3" width="32.9" height="16.7" fill="#32a4f5"/>
<rect x="383.2" y="1380.3" width="16.6" height="16.7" fill="#2b9ae8"/>
<rect x="399.5" y="1380.3" width="16.6" height="16.7" fill="#2b8ed5"/>
<rect x="415.8" y="1380.3" width="16.6" height="16.7" fill="#32a4f5"/>
<rect x="432.1" y="1380.3" width="16.6" height="16.7" fill="#2b9ae8"/>
<rect x="448.4" y="1380.3" width="16.6" height="16.7" fill="#32a4f5"/>
<rect x="464.7" y="1380.3" width="16.6" height="16.7" fill="#3080be"/>
<rect x="481.0" y="1380.3" width="16.6" height="16.7" fill="#32a4f5"/>
<rect x="497.3" y="1380.3" width="16.6" height="16.7" fill="#2b8ed5"/>
<rect x="513.6" y="1380.3" width="32.9" height="16.7" fill="#2b9ae8"/>
<rect x="546.2" y="1380.3" width="16.6" height="16.7" fill="#3080be"/>
<rect x="562.5" y="1380.3" width="16.6" height="16.7" fill="#2b8ed5"/>
<rect x="578.8" y="1380.3" width="65.5" height="16.7" fill="#3d6083"/>
<rect x="644.0" y="1380.3" width="32.9" height="16.7" fill="#2b8ed5"/>
<rect x="676.6" y="1380.3" width="16.6" height="16.7" fill="#3d6083"/>
<rect x="692.9" y="1380.3" width="16.6" height="16.7" fill="#32a4f5"/>
<rect x="709.2" y="1380.3" width="16.6" height="16.7" fill="#3d6083"/>
<rect x="725.5" y="1380.3" width="16.6" height="16.7" fill="#3871a3"/>
<rect x="741.8" y="1380.3" width="16.6" height="16.7" fill="#2b9ae8"/>
<rect x="758.1" y="1380.3" width="32.9" height="16.7" fill="#2b8ed5"/>
<rect x="790.7" y="1380.3" width="16.6" height="16.7" fill="#3080be"/>
<rect x="807.0" y="1380.3" width="32.9" height="16.7" fill="#32a4f5"/>
<rect x="839.6" y="1380.3" width="16.6" height="16.7" fill="#3871a3"/>
<rect x="855.9" y="1380.3" width="32.9" height="16.7" fill="#3080be"/>
<rect x="888.5" y="1380.3" width="16.6" height="16.7" fill="#32a4f5"/>
<rect x="904.8" y="1380.3" width="16.6" height="16.7" fill="#3871a3"/>
<rect x="921.1" y="1380.3" width="32.9" height="16.7" fill="#2b8ed5"/>
<rect x="953.7" y="1380.3" width="49.2" height="16.7" fill="#2b9ae8"/>
<rect x="1002.6" y="1380.3" width="16.6" height="16.7" fill="#32a4f5"/>
<rect x="1018.9" y="1380.3" width="16.6" height="16.7" fill="#2b9ae8"/>
<rect x="1035.2" y="1380.3" width="16.6" height="16.7" fill="#2b8ed5"/>
<rect x="1051.5" y="1380.3" width="16.6" height="16.7" fill="#32a4f5"/>
<rect x="1067.8" y="1380.3" width="16.6" height="16.7" fill="#2b9ae8"/>
<rect x="1084.1" y="1380.3" width="16.6" height="16.7" fill="#8cbcf2"/>
<rect x="285.4" y="1396.7" width="16.6" height="16.7" fill="#a6c6ef"/>
<rect x="301.7" y="1396.7" width="16.6" height="16.7" fill="#32a4f5"/>
<rect x="318.0" y="1396.7" width="16.6" height="16.7" fill="#2b9ae8"/>
<rect x="334.3" y="1396.7" width="49.2" height="16.7" fill="#32a4f5"/>
<rect x="383.2" y="1396.7" width="49.2" height="16.7" fill="#8cbcf2"/>
<rect x="432.1" y="1396.7" width="16.6" height="16.7" fill="#3080be"/>
<rect x="448.4" y="1396.7" width="16.6" height="16.7" fill="#2b8ed5"/>
<rect x="464.7" y="1396.7" width="16.6" height="16.7" fill="#65b0f5"/>
<rect x="481.0" y="1396.7" width="32.9" height="16.7" fill="#32a4f5"/>
<rect x="513.6" y="1396.7" width="16.6" height="16.7" fill="#3080be"/>
<rect x="529.9" y="1396.7" width="32.9" height="16.7" fill="#2b9ae8"/>
<rect x="562.5" y="1396.7" width="16.6" height="16.7" fill="#32a4f5"/>
<rect x="578.8" y="1396.7" width="32.9" height="16.7" fill="#3871a3"/>
<rect x="611.4" y="1396.7" width="16.6" height="16.7" fill="#32a4f5"/>
<rect x="627.7" y="1396.7" width="16.6" height="16.7" fill="#2b9ae8"/>
<rect x="644.0" y="1396.7" width="16.6" height="16.7" fill="#32a4f5"/>
<rect x="660.3" y="1396.7" width="16.6" height="16.7" fill="#3080be"/>
<rect x="676.6" y="1396.7" width="16.6" height="16.7" fill="#3d6083"/>
<rect x="692.9" y="1396.7" width="16.6" height="16.7" fill="#3871a3"/>
<rect x="709.2" y="1396.7" width="32.9" height="16.7" fill="#2b8ed5"/>
<rect x="741.8" y="1396.7" width="16.6" height="16.7" fill="#32a4f5"/>
<rect x="758.1" y="1396.7" width="32.9" height="16.7" fill="#3d6083"/>
<rect x="790.7" y="1396.7" width="16.6" height="16.7" fill="#32a4f5"/>
<rect x="807.0" y="1396.7" width="32.9" height="16.7" fill="#2b8ed5"/>
<rect x="839.6" y="1396.7" width="16.6" height="16.7" fill="#3871a3"/>
<rect x="855.9" y="1396.7" width="16.6" height="16.7" fill="#3080be"/>
<rect x="872.2" y="1396.7" width="16.6" height="16.7" fill="#2b8ed5"/>
<rect x="888.5" y="1396.7" width="16.6" height="16.7" fill="#2b9ae8"/>
<rect x="904.8" y="1396.7" width="32.9" height="16.7" fill="#65b0f5"/>
<rect x="937.4" y="1396.7" width="32.9" height="16.7" fill="#3080be"/>
<rect x="970.0" y="1396.7" width="16.6" height="16.7" fill="#32a4f5"/>
<rect x="986.3" y="1396.7" width="16.6" height="16.7" fill="#3871a3"/>
<rect x="1002.6" y="1396.7" width="16.6" height="16.7" fill="#32a4f5"/>
<rect x="1018.9" y="1396.7" width="16.6" height="16.7" fill="#3871a3"/>
<rect x="1035.2" y="1396.7" width="16.6" height="16.7" fill="#8cbcf2"/>
<rect x="1051.5" y="1396.7" width="32.9" height="16.7" fill="#32a4f5"/>
<rect x="1084.1" y="1396.7" width="16.6" height="16.7" fill="#8cbcf2"/>
<rect x="285.4" y="1413.1" width="16.6" height="16.7" fill="#8cbcf2"/>
<rect x="301.7" y="1413.1" width="16.6" height="16.7" fill="#32a4f5"/>
<rect x="318.0" y="1413.1" width="16.6" height="16.7" fill="#2b8ed5"/>
<rect x="334.3" y="1413.1" width="16.6" height="16.7" fill="#2b9ae8"/>
<rect x="350.6" y="1413.1" width="16.6" height="16.7" fill="#a6c6ef"/>
<rect x="366.9" y="1413.1" width="16.6" height="16.7" fill="#32a4f5"/>
<rect x="383.2" y="1413.1" width="16.6" height="16.7" fill="#3d6083"/>
<rect x="399.5" y="1413.1" width="32.9" height="16.7" fill="#32a4f5"/>
<rect x="432.1" y="1413.1" width="49.2" height="16.7" fill="#2b9ae8"/>
<rect x="481.0" y="1413.1" width="16.6" height="16.7" fill="#2b8ed5"/>
<rect x="497.3" y="1413.1" width="16.6" height="16.7" fill="#32a4f5"/>
<rect x="513.6" y="1413.1" width="16.6" height="16.7" fill="#8cbcf2"/>
<rect x="529.9" y="1413.1" width="16.6" height="16.7" fill="#3080be"/>
<rect x="546.2" y="1413.1" width="16.6" height="16.7" fill="#3d6083"/>
<rect x="562.5" y="1413.1" width="16.6" height="16.7" fill="#3871a3"/>
<rect x="578.8" y="1413.1" width="32.9" height="16.7" fill="#2b8ed5"/>
<rect x="611.4" y="1413.1" width="16.6" height="16.7" fill="#32a4f5"/>
<rect x="627.7" y="1413.1" width="16.6" height="16.7" fill="#3d6083"/>
<rect x="644.0" y="1413.1" width="16.6" height="16.7" fill="#2b9ae8"/>
<rect x="660.3" y="1413.1" width="32.9" height="16.7" fill="#3d6083"/>
<rect x="692.9" y="1413.1" width="49.2" height="16.7" fill="#3080be"/>
<rect x="741.8" y="1413.1" width="16.6" height="16.7" fill="#3d6083"/>
<rect x="758.1" y="1413.1" width="16.6" height="16.7" fill="#3080be"/>
<rect x="774.4" y="1413.1" width="16.6" height="16.7" fill="#32a4f5"/>
<rect x="790.7" y="1413.1" width="16.6" height="16.7" fill="#3d6083"/>
<rect x="807.0" y="1413.1" width="32.9" height="16.7" fill="#2b9ae8"/>
<rect x="839.6" y="1413.1" width="16.6" height="16.7" fill="#32a4f5"/>
<rect x="855.9" y="1413.1" width="16.6" height="16.7" fill="#3871a3"/>
<rect x="872.2" y="1413.1" width="16.6" height="16.7" fill="#2b9ae8"/>
<rect x="888.5" y="1413.1" width="16.6" height="16.7" fill="#2b8ed5"/>
<rect x="904.8" y="1413.1" width="16.6" height="16.7" fill="#32a4f5"/>
<rect x="921.1" y="1413.1" width="49.2" height="16.7" fill="#2b9ae8"/>
<rect x="970.0" y="1413.1" width="16.6" height="16.7" fill="#3080be"/>
<rect x="986.3" y="1413.1" width="49.2" height="16.7" fill="#2b9ae8"/>
<rect x="1035.2" y="1413.1" width="16.6" height="16.7" fill="#32a4f5"/>
<rect x="1051.5" y="1413.1" width="16.6" height="16.7" fill="#8cbcf2"/>
<rect x="1067.8" y="1413.1" width="16.6" height="16.7" fill="#32a4f5"/>
<rect x="1084.1" y="1413.1" width="16.6" height="16.7" fill="#a6c6ef"/>
<rect x="285.4" y="1429.5" width="16.6" height="16.6" fill="#a6c6ef"/>
<rect x="301.7" y="1429.5" width="49.2" height="16.6" fill="#32a4f5"/>
<rect x="350.6" y="1429.5" width="16.6" height="16.6" fill="#3080be"/>
<rect x="366.9" y="1429.5" width="16.6" height="16.6" fill="#32a4f5"/>
<rect x="383.2" y="1429.5" width="16.6" height="16.6" fill="#a6c6ef"/>
<rect x="399.5" y="1429.5" width="32.9" height="16.6" fill="#2b8ed5"/>
<rect x="432.1" y="1429.5" width="32.9" height="16.6" fill="#32a4f5"/>
<rect x="464.7" y="1429.5" width="32.9" height="16.6" fill="#3080be"/>
<rect x="497.3" y="1429.5" width="16.6" height="16.6" fill="#32a4f5"/>
<rect x="513.6" y="1429.5" width="16.6" height="16.6" fill="#3871a3"/>
<rect x="529.9" y="1429.5" width="16.6" height="16.6" fill="#2b9ae8"/>
<rect x="546.2" y="1429.5" width="16.6" height="16.6" fill="#3d6083"/>
<rect x="562.5" y="1429.5" width="16.6" height="16.6" fill="#3080be"/>
<rect x="578.8" y="1429.5" width="32.9" height="16.6" fill="#2b9ae8"/>
<rect x="611.4" y="1429.5" width="32.9" height="16.6" fill="#3080be"/>
<rect x="644.0" y="1429.5" width="49.2" height="16.6" fill="#3d6083"/>
<rect x="692.9" y="1429.5" width="16.6" height="16.6" fill="#2b9ae8"/>
<rect x="709.2" y="1429.5" width="65.5" height="16.6" fill="#3d6083"/>
<rect x="774.4" y="1429.5" width="49.2" height="16.6" fill="#2b8ed5"/>
<rect x="823.3" y="1429.5" width="16.6" height="16.6" fill="#2b9ae8"/>
<rect x="839.6" y="1429.5" width="16.6" height="16.6" fill="#2b8ed5"/>
<rect x="855.9" y="1429.5" width="16.6" height="16.6" fill="#3080be"/>
<rect x="872.2" y="1429.5" width="16.6" height="16.6" fill="#2b9ae8"/>
<rect x="888.5" y="1429.5" width="32.9" height="16.6" fill="#3080be"/>
<rect x="921.1" y="1429.5" width="16.6" height="16.6" fill="#3d6083"/>
<rect x="937.4" y="1429.5" width="16.6" height="16.6" fill="#8cbcf2"/>
<rect x="953.7" y="1429.5" width="16.6" height="16.6" fill="#2b8ed5"/>
<rect x="970.0" y="1429.5" width="16.6" height="16.6" fill="#32a4f5"/>
<rect x="986.3" y="1429.5" width="16.6" height="16.6" fill="#3080be"/>
<rect x="1002.6" y="1429.5" width="32.9" height="16.6" fill="#2b9ae8"/>
<rect x="1035.2" y="1429.5" width="16.6" height="16.6" fill="#32a4f5"/>
<rect x="1051.5" y="1429.5" width="16.6" height="16.6" fill="#2b8ed5"/>
<rect x="1067.8" y="1429.5" width="16.6" height="16.6" fill="#32a4f5"/>
<rect x="1084.1" y="1429.5" width="16.6" height="16.6" fill="#8cbcf2"/>
<rect x="285.4" y="1445.8" width="16.6" height="16.7" fill="#8cbcf2"/>
<rect x="301.7" y="1445.8" width="16.6" height="16.7" fill="#32a4f5"/>
<rect x="318.0" y="1445.8" width="16.6" height="16.7" fill="#8cbcf2"/>
<rect x="334.3" y="1445.8" width="49.2" height="16.7" fill="#32a4f5"/>
<rect x="383.2" y="1445.8" width="16.6" height="16.7" fill="#3080be"/>
<rect x="399.5" y="1445.8" width="32.9" height="16.7" fill="#2b9ae8"/>
<rect x="432.1" y="1445.8" width="32.9" height="16.7" fill="#32a4f5"/>
<rect x="464.7" y="1445.8" width="16.6" height="16.7" fill="#8cbcf2"/>
<rect x="481.0" y="1445.8" width="16.6" height="16.7" fill="#32a4f5"/>
<rect x="497.3" y="1445.8" width="49.2" height="16.7" fill="#2b9ae8"/>
<rect x="546.2" y="1445.8" width="16.6" height="16.7" fill="#3080be"/>
<rect x="562.5" y="1445.8" width="32.9" height="16.7" fill="#32a4f5"/>
<rect x="595.1" y="1445.8" width="16.6" height="16.7" fill="#2b8ed5"/>
<rect x="611.4" y="1445.8" width="16.6" height="16.7" fill="#3871a3"/>
<rect x="627.7" y="1445.8" width="32.9" height="16.7" fill="#2b9ae8"/>
<rect x="660.3" y="1445.8" width="16.6" height="16.7" fill="#3871a3"/>
<rect x="676.6" y="1445.8" width="16.6" height="16.7" fill="#2b9ae8"/>
<rect x="692.9" y="1445.8" width="16.6" height="16.7" fill="#65b0f5"/>
<rect x="709.2" y="1445.8" width="16.6" height="16.7" fill="#3d6083"/>
<rect x="725.5" y="1445.8" width="16.6" height="16.7" fill="#32a4f5"/>
<rect x="741.8" y="1445.8" width="16.6" height="16.7" fill="#3d6083"/>
<rect x="758.1" y="1445.8" width="16.6" height="16.7" fill="#2b9ae8"/>
<rect x="774.4" y="1445.8" width="16.6" height="16.7" fill="#3871a3"/>
<rect x="790.7" y="1445.8" width="32.9" height="16.7" fill="#2b9ae8"/>
<rect x="823.3" y="1445.8" width="32.9" height="16.7" fill="#2b8ed5"/>
<rect x="855.9" y="1445.8" width="16.6" height="16.7" fill="#65b0f5"/>
<rect x="872.2" y="1445.8" width="16.6" height="16.7" fill="#3080be"/>
<rect x="888.5" y="1445.8" width="16.6" height="16.7" fill="#3871a3"/>
<rect x="904.8" y="1445.8" width="16.6" height="16.7" fill="#2b9ae8"/>
<rect x="921.1" y="1445.8" width="16.6" height="16.7" fill="#2b8ed5"/>
<rect x="937.4" y="1445.8" width="49.2" height="16.7" fill="#2b9ae8"/>
<rect x="986.3" y="1445.8" width="32.9" height="16.7" fill="#3080be"/>
<rect x="1018.9" y="1445.8" width="16.6" height="16.7" fill="#65b0f5"/>
<rect x="1035.2" y="1445.8" width="32.9" height="16.7" fill="#3080be"/>
<rect x="1067.8" y="1445.8" width="16.6" height="16.7" fill="#65b0f5"/>
<rect x="1084.1" y="1445.8" width="16.6" height="16.7" fill="#8cbcf2"/>
<rect x="285.4" y="1462.2" width="16.6" height="16.7" fill="#a6c6ef"/>
<rect x="301.7" y="1462.2" width="16.6" height="16.7" fill="#65b0f5"/>
<rect x="318.0" y="1462.2" width="16.6" height="16.7" fill="#3080be"/>
<rect x="334.3" y="1462.2" width="49.2" height="16.7" fill="#2b8ed5"/>
<rect x="383.2" y="1462.2" width="16.6" height="16.7" fill="#32a4f5"/>
<rect x="399.5" y="1462.2" width="32.9" height="16.7" fill="#2b9ae8"/>
<rect x="432.1" y="1462.2" width="16.6" height="16.7" fill="#3080be"/>
<rect x="448.4" y="1462.2" width="16.6" height="16.7" fill="#2b8ed5"/>
<rect x="464.7" y="1462.2" width="32.9" height="16.7" fill="#32a4f5"/>
<rect x="497.3" y="1462.2" width="16.6" height="16.7" fill="#3871a3"/>
<rect x="513.6" y="1462.2" width="16.6" height="16.7" fill="#2b9ae8"/>
<rect x="529.9" y="1462.2" width="16.6" height="16.7" fill="#32a4f5"/>
<rect x="546.2" y="1462.2" width="16.6" height="16.7" fill="#2b9ae8"/>
<rect x="562.5" y="1462.2" width="16.6" height="16.7" fill="#3d6083"/>
<rect x="578.8" y="1462.2" width="16.6" height="16.7" fill="#32a4f5"/>
<rect x="595.1" y="1462.2" width="32.9" height="16.7" fill="#2b8ed5"/>
<rect x="627.7" y="1462.2" width="16.6" height="16.7" fill="#2b9ae8"/>
<rect x="644.0" y="1462.2" width="16.6" height="16.7" fill="#2b8ed5"/>
<rect x="660.3" y="1462.2" width="16.6" height="16.7" fill="#3871a3"/>
<rect x="676.6" y="1462.2" width="16.6" height="16.7" fill="#3080be"/>
<rect x="692.9" y="1462.2" width="49.2" height="16.7" fill="#2b8ed5"/>
<rect x="741.8" y="1462.2" width="16.6" height="16.7" fill="#3080be"/>
<rect x="758.1" y="1462.2" width="16.6" height="16.7" fill="#3871a3"/>
<rect x="774.4" y="1462.2" width="32.9" height="16.7" fill="#32a4f5"/>
<rect x="807.0" y="1462.2" width="16.6" height="16.7" fill="#2b8ed5"/>
<rect x="823.3" y="1462.2" width="16.6" height="16.7" fill="#2b9ae8"/>
<rect x="839.6" y="1462.2" width="16.6" height="16.7" fill="#3871a3"/>
<rect x="855.9" y="1462.2" width="16.6" height="16.7" fill="#2b9ae8"/>
<rect x="872.2" y="1462.2" width="16.6" height="16.7" fill="#3871a3"/>
<rect x="888.5" y="1462.2" width="16.6" height="16.7" fill="#32a4f5"/>
<rect x="904.8" y="1462.2" width="16.6" height="16.7" fill="#3871a3"/>
<rect x="921.1" y="1462.2" width="32.9" height="16.7" fill="#2b8ed5"/>
<rect x="953.7" y="1462.2" width="32.9" height="16.7" fill="#2b9ae8"/>
<rect x="986.3" y="1462.2" width="32.9" height="16.7" fill="#32a4f5"/>
<rect x="1018.9" y="1462.2" width="16.6" height="16.7" fill="#2b8ed5"/>
<rect x="1035.2" y="1462.2" width="16.6" height="16.7" fill="#32a4f5"/>
<rect x="1051.5" y="1462.2" width="16.6" height="16.7" fill="#2b8ed5"/>
<rect x="1067.8" y="1462.2" width="16.6" height="16.7" fill="#65b0f5"/>
<rect x="1084.1" y="1462.2" width="16.6" height="16.7" fill="#8cbcf2"/>
<rect x="285.4" y="1478.6" width="16.6" height="16.7" fill="#8cbcf2"/>
<rect x="301.7" y="1478.6" width="16.6" height="16.7" fill="#2b8ed5"/>
<rect x="318.0" y="1478.6" width="16.6" height="16.7" fill="#2b9ae8"/>
<rect x="334.3" y="1478.6" width="16.6" height="16.7" fill="#2b8ed5"/>
<rect x="350.6" y="1478.6" width="16.6" height="16.7" fill="#32a4f5"/>
<rect x="366.9" y="1478.6" width="16.6" height="16.7" fill="#3080be"/>
<rect x="383.2" y="1478.6" width="32.9" height="16.7" fill="#32a4f5"/>
<rect x="415.8" y="1478.6" width="16.6" height="16.7" fill="#3080be"/>
<rect x="432.1" y="1478.6" width="16.6" height="16.7" fill="#65b0f5"/>
<rect x="448.4" y="1478.6" width="49.2" height="16.7" fill="#32a4f5"/>
<rect x="497.3" y="1478.6" width="16.6" height="16.7" fill="#2b9ae8"/>
<rect x="513.6" y="1478.6" width="16.6" height="16.7" fill="#3871a3"/>
<rect x="529.9" y="1478.6" width="16.6" height="16.7" fill="#2b8ed5"/>
<rect x="546.2" y="1478.6" width="16.6" height="16.7" fill="#3d6083"/>
<rect x="562.5" y="1478.6" width="16.6" height="16.7" fill="#3080be"/>
<rect x="578.8" y="1478.6" width="16.6" height="16.7" fill="#2b9ae8"/>
<rect x="595.1" y="1478.6" width="16.6" height="16.7" fill="#3d6083"/>
<rect x="611.4" y="1478.6" width="16.6" height="16.7" fill="#2b8ed5"/>
<rect x="627.7" y="1478.6" width="16.6" height="16.7" fill="#2b9ae8"/>
<rect x="644.0" y="1478.6" width="16.6" height="16.7" fill="#3080be"/>
<rect x="660.3" y="1478.6" width="16.6" height="16.7" fill="#3d6083"/>
<rect x="676.6" y="1478.6" width="49.2" height="16.7" fill="#3080be"/>
<rect x="725.5" y="1478.6" width="32.9" height="16.7" fill="#2b8ed5"/>
<rect x="758.1" y="1478.6" width="16.6" height="16.7" fill="#2b9ae8"/>
<rect x="774.4" y="1478.6" width="16.6" height="16.7" fill="#3080be"/>
<rect x="790.7" y="1478.6" width="16.6" height="16.7" fill="#3d6083"/>
<rect x="807.0" y="1478.6" width="16.6" height="16.7" fill="#2b9ae8"/>
<rect x="823.3" y="1478.6" width="16.6" height="16.7" fill="#3080be"/>
<rect x="839.6" y="1478.6" width="16.6" height="16.7" fill="#2b8ed5"/>
<rect x="855.9" y="1478.6" width="16.6" height="16.7" fill="#3080be"/>
<rect x="872.2" y="1478.6" width="16.6" height="16.7" fill="#32a4f5"/>
<rect x="888.5" y="1478.6" width="16.6" height="16.7" fill="#2b9ae8"/>
<rect x="904.8" y="1478.6" width="16.6" height="16.7" fill="#2b8ed5"/>
<rect x="921.1" y="1478.6" width="16.6" height="16.7" fill="#3080be"/>
<rect x="937.4" y="1478.6" width="16.6" height="16.7" fill="#2b8ed5"/>
<rect x="953.7" y="1478.6" width="16.6" height="16.7" fill="#3d6083"/>
<rect x="970.0" y="1478.6" width="16.6" height="16.7" fill="#8cbcf2"/>
<rect x="986.3" y="1478.6" width="32.9" height="16.7" fill="#32a4f5"/>
<rect x="1018.9" y="1478.6" width="16.6" height="16.7" fill="#2b9ae8"/>
<rect x="1035.2" y="1478.6" width="32.9" height="16.7" fill="#32a4f5"/>
<rect x="1067.8" y="1478.6" width="16.6" height="16.7" fill="#65b0f5"/>
<rect x="1084.1" y="1478.6" width="16.6" height="16.7" fill="#8cbcf2"/>
<rect x="285.4" y="1495.0" width="16.6" height="16.6" fill="#a6c6ef"/>
<rect x="301.7" y="1495.0" width="16.6" height="16.6" fill="#8cbcf2"/>
<rect x="318.0" y="1495.0" width="16.6" height="16.6" fill="#3080be"/>
<rect x="334.3" y="1495.0" width="32.9" height="16.6" fill="#32a4f5"/>
<rect x="366.9" y="1495.0" width="16.6" height="16.6" fill="#2b9ae8"/>
<rect x="383.2" y="1495.0" width="16.6" height="16.6" fill="#3080be"/>
<rect x="399.5" y="1495.0" width="16.6" height="16.6" fill="#8cbcf2"/>
<rect x="415.8" y="1495.0" width="16.6" height="16.6" fill="#2b9ae8"/>
<rect x="432.1" y="1495.0" width="16.6" height="16.6" fill="#2b8ed5"/>
<rect x="448.4" y="1495.0" width="16.6" height="16.6" fill="#3871a3"/>
<rect x="464.7" y="1495.0" width="49.2" height="16.6" fill="#2b9ae8"/>
<rect x="513.6" y="1495.0" width="16.6" height="16.6" fill="#2b8ed5"/>
<rect x="529.9" y="1495.0" width="32.9" height="16.6" fill="#3871a3"/>
<rect x="562.5" y="1495.0" width="16.6" height="16.6" fill="#3080be"/>
<rect x="578.8" y="1495.0" width="32.9" height="16.6" fill="#2b8ed5"/>
<rect x="611.4" y="1495.0" width="16.6" height="16.6" fill="#3871a3"/>
<rect x="627.7" y="1495.0" width="16.6" height="16.6" fill="#2b9ae8"/>
<rect x="644.0" y="1495.0" width="32.9" height="16.6" fill="#3871a3"/>
<rect x="676.6" y="1495.0" width="16.6" height="16.6" fill="#2b8ed5"/>
<rect x="692.9" y="1495.0" width="49.2" height="16.6" fill="#3080be"/>
<rect x="741.8" y="1495.0" width="16.6" height="16.6" fill="#2b9ae8"/>
<rect x="758.1" y="1495.0" width="16.6" height="16.6" fill="#2b8ed5"/>
<rect x="774.4" y="1495.0" width="32.9" height="16.6" fill="#3871a3"/>
<rect x="807.0" y="1495.0" width="32.9" height="16.6" fill="#3080be"/>
<rect x="839.6" y="1495.0" width="65.5" height="16.6" fill="#2b8ed5"/>
<rect x="904.8" y="1495.0" width="16.6" height="16.6" fill="#32a4f5"/>
<rect x="921.1" y="1495.0" width="16.6" height="16.6" fill="#3d546e"/>
<rect x="937.4" y="1495.0" width="32.9" height="16.6" fill="#2b9ae8"/>
<rect x="970.0" y="1495.0" width="16.6" height="16.6" fill="#3080be"/>
<rect x="986.3" y="1495.0" width="32.9" height="16.6" fill="#2b9ae8"/>
<rect x="1018.9" y="1495.0" width="16.6" height="16.6" fill="#8cbcf2"/>
<rect x="1035.2" y="1495.0" width="32.9" height="16.6" fill="#3080be"/>
<rect x="1067.8" y="1495.0" width="16.6" height="16.6" fill="#2b9ae8"/>
<rect x="1084.1" y="1495.0" width="16.6" height="16.6" fill="#8cbcf2"/>
<rect x="285.4" y="1511.3" width="16.6" height="16.7" fill="#8cbcf2"/>
<rect x="301.7" y="1511.3" width="16.6" height="16.7" fill="#2b8ed5"/>
<rect x="318.0" y="1511.3" width="32.9" height="16.7" fill="#8cbcf2"/>
<rect x="350.6" y="1511.3" width="16.6" height="16.7" fill="#2b8ed5"/>
<rect x="366.9" y="1511.3" width="16.6" height="16.7" fill="#3080be"/>
<rect x="383.2" y="1511.3" width="16.6" height="16.7" fill="#2b9ae8"/>
<rect x="399.5" y="1511.3" width="32.9" height="16.7" fill="#2b8ed5"/>
<rect x="432.1" y="1511.3" width="32.9" height="16.7" fill="#2b9ae8"/>
<rect x="464.7" y="1511.3" width="16.6" height="16.7" fill="#32a4f5"/>
<rect x="481.0" y="1511.3" width="32.9" height="16.7" fill="#2b9ae8"/>
<rect x="513.6" y="1511.3" width="16.6" height="16.7" fill="#32a4f5"/>
<rect x="529.9" y="1511.3" width="16.6" height="16.7" fill="#3871a3"/>
<rect x="546.2" y="1511.3" width="16.6" height="16.7" fill="#2b8ed5"/>
<rect x="562.5" y="1511.3" width="16.6" height="16.7" fill="#3080be"/>
<rect x="578.8" y="1511.3" width="16.6" height="16.7" fill="#32a4f5"/>
<rect x="595.1" y="1511.3" width="32.9" height="16.7" fill="#3d6083"/>
<rect x="627.7" y="1511.3" width="16.6" height="16.7" fill="#3080be"/>
<rect x="644.0" y="1511.3" width="16.6" height="16.7" fill="#3871a3"/>
<rect x="660.3" y="1511.3" width="16.6" height="16.7" fill="#3080be"/>
<rect x="676.6" y="1511.3" width="16.6" height="16.7" fill="#3d6083"/>
<rect x="692.9" y="1511.3" width="16.6" height="16.7" fill="#2b9ae8"/>
<rect x="709.2" y="1511.3" width="16.6" height="16.7" fill="#3d6083"/>
<rect x="725.5" y="1511.3" width="32.9" height="16.7" fill="#2b9ae8"/>
<rect x="758.1" y="1511.3" width="32.9" height="16.7" fill="#3d6083"/>
<rect x="790.7" y="1511.3" width="16.6" height="16.7" fill="#2b9ae8"/>
<rect x="807.0" y="1511.3" width="32.9" height="16.7" fill="#3871a3"/>
<rect x="839.6" y="1511.3" width="49.2" height="16.7" fill="#3080be"/>
<rect x="888.5" y="1511.3" width="16.6" height="16.7" fill="#2b8ed5"/>
<rect x="904.8" y="1511.3" width="32.9" height="16.7" fill="#3080be"/>
<rect x="937.4" y="1511.3" width="16.6" height="16.7" fill="#2b9ae8"/>
<rect x="953.7" y="1511.3" width="16.6" height="16.7" fill="#2b8ed5"/>
<rect x="970.0" y="1511.3" width="16.6" height="16.7" fill="#32a4f5"/>
<rect x="986.3" y="1511.3" width="16.6" height="16.7" fill="#3871a3"/>
<rect x="1002.6" y="1511.3" width="49.2" height="16.7" fill="#32a4f5"/>
<rect x="1051.5" y="1511.3" width="16.6" height="16.7" fill="#2b9ae8"/>
<rect x="1067.8" y="1511.3" width="16.6" height="16.7" fill="#a6c6ef"/>
<rect x="1084.1" y="1511.3" width="16.6" height="16.7" fill="#8cbcf2"/>
<rect x="285.4" y="1527.7" width="16.6" height="16.7" fill="#8cbcf2"/>
<rect x="301.7" y="1527.7" width="16.6" height="16.7" fill="#2b9ae8"/>
<rect x="318.0" y="1527.7" width="49.2" height="16.7" fill="#32a4f5"/>
<rect x="366.9" y="1527.7" width="16.6" height="16.7" fill="#2b9ae8"/>
<rect x="383.2" y="1527.7" width="49.2" height="16.7" fill="#3080be"/>
<rect x="432.1" y="1527.7" width="32.9" height="16.7" fill="#2b8ed5"/>
<rect x="464.7" y="1527.7" width="16.6" height="16.7" fill="#3871a3"/>
<rect x="481.0" y="1527.7" width="16.6" height="16.7" fill="#2b9ae8"/>
<rect x="497.3" y="1527.7" width="16.6" height="16.7" fill="#2b8ed5"/>
<rect x="513.6" y="1527.7" width="16.6" height="16.7" fill="#2b9ae8"/>
<rect x="529.9" y="1527.7" width="16.6" height="16.7" fill="#2b8ed5"/>
<rect x="546.2" y="1527.7" width="16.6" height="16.7" fill="#3d6083"/>
<rect x="562.5" y="1527.7" width="32.9" height="16.7" fill="#2b8ed5"/>
<rect x="595.1" y="1527.7" width="16.6" height="16.7" fill="#2b9ae8"/>
<rect x="611.4" y="1527.7" width="32.9" height="16.7" fill="#3d6083"/>
<rect x="644.0" y="1527.7" width="16.6" height="16.7" fill="#2b9ae8"/>
<rect x="660.3" y="1527.7" width="16.6" height="16.7" fill="#3871a3"/>
<rect x="676.6" y="1527.7" width="16.6" height="16.7" fill="#2b9ae8"/>
<rect x="692.9" y="1527.7" width="16.6" height="16.7" fill="#3080be"/>
<rect x="709.2" y="1527.7" width="16.6" height="16.7" fill="#3d6083"/>
<rect x="725.5" y="1527.7" width="114.4" height="16.7" fill="#3871a3"/>
<rect x="839.6" y="1527.7" width="16.6" height="16.7" fill="#2b8ed5"/>
<rect x="855.9" y="1527.7" width="16.6" height="16.7" fill="#3d6083"/>
<rect x="872.2" y="1527.7" width="16.6" height="16.7" fill="#3080be"/>
<rect x="888.5" y="1527.7" width="65.5" height="16.7" fill="#2b8ed5"/>
<rect x="953.7" y="1527.7" width="16.6" height="16.7" fill="#3871a3"/>
<rect x="970.0" y="1527.7" width="16.6" height="16.7" fill="#32a4f5"/>
<rect x="986.3" y="1527.7" width="16.6" height="16.7" fill="#2b9ae8"/>
<rect x="1002.6" y="1527.7" width="16.6" height="16.7" fill="#8cbcf2"/>
<rect x="1018.9" y="1527.7" width="16.6" height="16.7" fill="#3080be"/>
<rect x="1035.2" y="1527.7" width="16.6" height="16.7" fill="#8cbcf2"/>
<rect x="1051.5" y="1527.7" width="32.9" height="16.7" fill="#32a4f5"/>
<rect x="1084.1" y="1527.7" width="16.6" height="16.7" fill="#a6c6ef"/>
<rect x="285.4" y="1544.1" width="16.6" height="16.7" fill="#8cbcf2"/>
<rect x="301.7" y="1544.1" width="49.2" height="16.7" fill="#2b9ae8"/>
<rect x="350.6" y="1544.1" width="16.6" height="16.7" fill="#32a4f5"/>
<rect x="366.9" y="1544.1" width="16.6" height="16.7" fill="#2b8ed5"/>
<rect x="383.2" y="1544.1" width="16.6" height="16.7" fill="#2b9ae8"/>
<rect x="399.5" y="1544.1" width="16.6" height="16.7" fill="#2b8ed5"/>
<rect x="415.8" y="1544.1" width="16.6" height="16.7" fill="#2b9ae8"/>
<rect x="432.1" y="1544.1" width="16.6" height="16.7" fill="#32a4f5"/>
<rect x="448.4" y="1544.1" width="49.2" height="16.7" fill="#2b9ae8"/>
<rect x="497.3" y="1544.1" width="16.6" height="16.7" fill="#32a4f5"/>
<rect x="513.6" y="1544.1" width="16.6" height="16.7" fill="#3d6083"/>
<rect x="529.9" y="1544.1" width="32.9" height="16.7" fill="#2b8ed5"/>
<rect x="562.5" y="1544.1" width="16.6" height="16.7" fill="#3d6083"/>
<rect x="578.8" y="1544.1" width="16.6" height="16.7" fill="#3871a3"/>
<rect x="595.1" y="1544.1" width="16.6" height="16.7" fill="#2b9ae8"/>
<rect x="611.4" y="1544.1" width="32.9" height="16.7" fill="#3d6083"/>
<rect x="644.0" y="1544.1" width="16.6" height="16.7" fill="#2b8ed5"/>
<rect x="660.3" y="1544.1" width="49.2" height="16.7" fill="#3d6083"/>
<rect x="709.2" y="1544.1" width="16.6" height="16.7" fill="#3080be"/>
<rect x="725.5" y="1544.1" width="16.6" height="16.7" fill="#3871a3"/>
<rect x="741.8" y="1544.1" width="16.6" height="16.7" fill="#3080be"/>
<rect x="758.1" y="1544.1" width="16.6" height="16.7" fill="#3d6083"/>
<rect x="774.4" y="1544.1" width="16.6" height="16.7" fill="#2b8ed5"/>
<rect x="790.7" y="1544.1" width="16.6" height="16.7" fill="#3080be"/>
<rect x="807.0" y="1544.1" width="16.6" height="16.7" fill="#3d6083"/>
<rect x="823.3" y="1544.1" width="16.6" height="16.7" fill="#3871a3"/>
<rect x="839.6" y="1544.1" width="16.6" height="16.7" fill="#3d6083"/>
<rect x="855.9" y="1544.1" width="16.6" height="16.7" fill="#2b9ae8"/>
<rect x="872.2" y="1544.1" width="16.6" height="16.7" fill="#3080be"/>
<rect x="888.5" y="1544.1" width="32.9" height="16.7" fill="#2b8ed5"/>
<rect x="921.1" y="1544.1" width="16.6" height="16.7" fill="#2b9ae8"/>
<rect x="937.4" y="1544.1" width="16.6" height="16.7" fill="#32a4f5"/>
<rect x="953.7" y="1544.1" width="32.9" height="16.7" fill="#2b8ed5"/>
<rect x="986.3" y="1544.1" width="81.8" height="16.7" fill="#2b9ae8"/>
<rect x="1067.8" y="1544.1" width="16.6" height="16.7" fill="#2b8ed5"/>
<rect x="1084.1" y="1544.1" width="16.6" height="16.7" fill="#8cbcf2"/>
<rect x="285.4" y="1560.5" width="49.2" height="16.6" fill="#8cbcf2"/>
<rect x="334.3" y="1560.5" width="49.2" height="16.6" fill="#2b8ed5"/>
<rect x="383.2" y="1560.5" width="49.2" height="16.6" fill="#2b9ae8"/>
<rect x="432.1" y="1560.5" width="16.6" height="16.6" fill="#3871a3"/>
<rect x="448.4" y="1560.5" width="32.9" height="16.6" fill="#3080be"/>
<rect x="481.0" y="1560.5" width="16.6" height="16.6" fill="#2b8ed5"/>
<rect x="497.3" y="1560.5" width="16.6" height="16.6" fill="#3080be"/>
<rect x="513.6" y="1560.5" width="16.6" height="16.6" fill="#3d6083"/>
<rect x="529.9" y="1560.5" width="16.6" height="16.6" fill="#2b8ed5"/>
<rect x="546.2" y="1560.5" width="16.6" height="16.6" fill="#3871a3"/>
<rect x="562.5" y="1560.5" width="16.6" height="16.6" fill="#3d6083"/>
<rect x="578.8" y="1560.5" width="16.6" height="16.6" fill="#3871a3"/>
<rect x="595.1" y="1560.5" width="16.6" height="16.6" fill="#3080be"/>
<rect x="611.4" y="1560.5" width="16.6" height="16.6" fill="#3871a3"/>
<rect x="627.7" y="1560.5" width="16.6" height="16.6" fill="#2b9ae8"/>
<rect x="644.0" y="1560.5" width="16.6" height="16.6" fill="#3871a3"/>
<rect x="660.3" y="1560.5" width="16.6" height="16.6" fill="#3d6083"/>
<rect x="676.6" y="1560.5" width="32.9" height="16.6" fill="#2b8ed5"/>
<rect x="709.2" y="1560.5" width="114.4" height="16.6" fill="#3d6083"/>
<rect x="823.3" y="1560.5" width="16.6" height="16.6" fill="#3080be"/>
<rect x="839.6" y="1560.5" width="16.6" height="16.6" fill="#2b8ed5"/>
<rect x="855.9" y="1560.5" width="32.9" height="16.6" fill="#3871a3"/>
<rect x="888.5" y="1560.5" width="16.6" height="16.6" fill="#2b8ed5"/>
<rect x="904.8" y="1560.5" width="16.6" height="16.6" fill="#65b0f5"/>
<rect x="921.1" y="1560.5" width="16.6" height="16.6" fill="#2b8ed5"/>
<rect x="937.4" y="1560.5" width="16.6" height="16.6" fill="#32a4f5"/>
<rect x="953.7" y="1560.5" width="32.9" height="16.6" fill="#2b8ed5"/>
<rect x="986.3" y="1560.5" width="32.9" height="16.6" fill="#32a4f5"/>
<rect x="1018.9" y="1560.5" width="32.9" height="16.6" fill="#2b8ed5"/>
<rect x="1051.5" y="1560.5" width="16.6" height="16.6" fill="#65b0f5"/>
<rect x="1067.8" y="1560.5" width="16.6" height="16.6" fill="#2b8ed5"/>
<rect x="1084.1" y="1560.5" width="16.6" height="16.6" fill="#32a4f5"/>
<rect x="285.4" y="1576.8" width="16.6" height="16.7" fill="#8cbcf2"/>
<rect x="301.7" y="1576.8" width="32.9" height="16.7" fill="#2b8ed5"/>
<rect x="334.3" y="1576.8" width="16.6" height="16.7" fill="#3080be"/>
<rect x="350.6" y="1576.8" width="49.2" height="16.7" fill="#32a4f5"/>
<rect x="399.5" y="1576.8" width="16.6" height="16.7" fill="#8cbcf2"/>
<rect x="415.8" y="1576.8" width="16.6" height="16.7" fill="#3871a3"/>
<rect x="432.1" y="1576.8" width="16.6" height="16.7" fill="#2b8ed5"/>
<rect x="448.4" y="1576.8" width="16.6" height="16.7" fill="#32a4f5"/>
<rect x="464.7" y="1576.8" width="16.6" height="16.7" fill="#2b8ed5"/>
<rect x="481.0" y="1576.8" width="32.9" height="16.7" fill="#3080be"/>
<rect x="513.6" y="1576.8" width="16.6" height="16.7" fill="#3d6083"/>
<rect x="529.9" y="1576.8" width="16.6" height="16.7" fill="#3080be"/>
<rect x="546.2" y="1576.8" width="32.9" height="16.7" fill="#2b9ae8"/>
<rect x="578.8" y="1576.8" width="16.6" height="16.7" fill="#3d6083"/>
<rect x="595.1" y="1576.8" width="16.6" height="16.7" fill="#3871a3"/>
<rect x="611.4" y="1576.8" width="16.6" height="16.7" fill="#3d6083"/>
<rect x="627.7" y="1576.8" width="16.6" height="16.7" fill="#3080be"/>
<rect x="644.0" y="1576.8" width="32.9" height="16.7" fill="#3871a3"/>
<rect x="676.6" y="1576.8" width="16.6" height="16.7" fill="#3d6083"/>
<rect x="692.9" y="1576.8" width="16.6" height="16.7" fill="#3080be"/>
<rect x="709.2" y="1576.8" width="16.6" height="16.7" fill="#2b8ed5"/>
<rect x="725.5" y="1576.8" width="65.5" height="16.7" fill="#3d6083"/>
<rect x="790.7" y="1576.8" width="32.9" height="16.7" fill="#3871a3"/>
<rect x="823.3" y="1576.8" width="16.6" height="16.7" fill="#3080be"/>
<rect x="839.6" y="1576.8" width="16.6" height="16.7" fill="#3871a3"/>
<rect x="855.9" y="1576.8" width="16.6" height="16.7" fill="#2b9ae8"/>
<rect x="872.2" y="1576.8" width="16.6" height="16.7" fill="#32a4f5"/>
<rect x="888.5" y="1576.8" width="32.9" height="16.7" fill="#2b8ed5"/>
<rect x="921.1" y="1576.8" width="32.9" height="16.7" fill="#2b9ae8"/>
<rect x="953.7" y="1576.8" width="16.6" height="16.7" fill="#2b8ed5"/>
<rect x="970.0" y="1576.8" width="16.6" height="16.7" fill="#2b9ae8"/>
<rect x="986.3" y="1576.8" width="16.6" height="16.7" fill="#3080be"/>
<rect x="1002.6" y="1576.8" width="49.2" height="16.7" fill="#32a4f5"/>
<rect x="1051.5" y="1576.8" width="16.6" height="16.7" fill="#65b0f5"/>
<rect x="1067.8" y="1576.8" width="16.6" height="16.7" fill="#32a4f5"/>
<rect x="1084.1" y="1576.8" width="16.6" height="16.7" fill="#8cbcf2"/>
<rect x="285.4" y="1593.2" width="16.6" height="16.7" fill="#8cbcf2"/>
<rect x="301.7" y="1593.2" width="16.6" height="16.7" fill="#2b9ae8"/>
<rect x="318.0" y="1593.2" width="16.6" height="16.7" fill="#a6c6ef"/>
<rect x="334.3" y="1593.2" width="16.6" height="16.7" fill="#2b8ed5"/>
<rect x="350.6" y="1593.2" width="16.6" height="16.7" fill="#32a4f5"/>
<rect x="366.9" y="1593.2" width="16.6" height="16.7" fill="#2b9ae8"/>
<rect x="383.2" y="1593.2" width="32.9" height="16.7" fill="#2b8ed5"/>
<rect x="415.8" y="1593.2" width="16.6" height="16.7" fill="#32a4f5"/>
<rect x="432.1" y="1593.2" width="16.6" height="16.7" fill="#2b8ed5"/>
<rect x="448.4" y="1593.2" width="16.6" height="16.7" fill="#3871a3"/>
<rect x="464.7" y="1593.2" width="16.6" height="16.7" fill="#2b9ae8"/>
<rect x="481.0" y="1593.2" width="16.6" height="16.7" fill="#32a4f5"/>
<rect x="497.3" y="1593.2" width="16.6" height="16.7" fill="#2b8ed5"/>
<rect x="513.6" y="1593.2" width="16.6" height="16.7" fill="#3871a3"/>
<rect x="529.9" y="1593.2" width="16.6" height="16.7" fill="#2b8ed5"/>
<rect x="546.2" y="1593.2" width="16.6" height="16.7" fill="#32a4f5"/>
<rect x="562.5" y="1593.2" width="32.9" height="16.7" fill="#3080be"/>
<rect x="595.1" y="1593.2" width="32.9" height="16.7" fill="#3d6083"/>
<rect x="627.7" y="1593.2" width="16.6" height="16.7" fill="#3871a3"/>
<rect x="644.0" y="1593.2" width="16.6" height="16.7" fill="#3d6083"/>
<rect x="660.3" y="1593.2" width="16.6" height="16.7" fill="#3871a3"/>
<rect x="676.6" y="1593.2" width="16.6" height="16.7" fill="#2b8ed5"/>
<rect x="692.9" y="1593.2" width="49.2" height="16.7" fill="#3d6083"/>
<rect x="741.8" y="1593.2" width="32.9" height="16.7" fill="#3871a3"/>
<rect x="774.4" y="1593.2" width="16.6" height="16.7" fill="#2b8ed5"/>
<rect x="790.7" y="1593.2" width="16.6" height="16.7" fill="#3d546e"/>
<rect x="807.0" y="1593.2" width="16.6" height="16.7" fill="#2b8ed5"/>
<rect x="823.3" y="1593.2" width="16.6" height="16.7" fill="#3871a3"/>
<rect x="839.6" y="1593.2" width="16.6" height="16.7" fill="#2b8ed5"/>
<rect x="855.9" y="1593.2" width="16.6" height="16.7" fill="#2b9ae8"/>
<rect x="872.2" y="1593.2" width="16.6" height="16.7" fill="#3080be"/>
<rect x="888.5" y="1593.2" width="16.6" height="16.7" fill="#65b0f5"/>
<rect x="904.8" y="1593.2" width="16.6" height="16.7" fill="#3d6083"/>
<rect x="921.1" y="1593.2" width="16.6" height="16.7" fill="#2b9ae8"/>
<rect x="937.4" y="1593.2" width="16.6" height="16.7" fill="#65b0f5"/>
<rect x="953.7" y="1593.2" width="16.6" height="16.7" fill="#3871a3"/>
<rect x="970.0" y="1593.2" width="16.6" height="16.7" fill="#a6c6ef"/>
<rect x="986.3" y="1593.2" width="16.6" height="16.7" fill="#3080be"/>
<rect x="1002.6" y="1593.2" width="16.6" height="16.7" fill="#8cbcf2"/>
<rect x="1018.9" y="1593.2" width="16.6" height="16.7" fill="#3080be"/>
<rect x="1035.2" y="1593.2" width="16.6" height="16.7" fill="#32a4f5"/>
<rect x="1051.5" y="1593.2" width="32.9" height="16.7" fill="#2b8ed5"/>
<rect x="1084.1" y="1593.2" width="16.6" height="16.7" fill="#8cbcf2"/>
<rect x="285.4" y="1609.6" width="16.6" height="16.7" fill="#8cbcf2"/>
<rect x="301.7" y="1609.6" width="16.6" height="16.7" fill="#32a4f5"/>
<rect x="318.0" y="1609.6" width="16.6" height="16.7" fill="#2b9ae8"/>
<rect x="334.3" y="1609.6" width="16.6" height="16.7" fill="#32a4f5"/>
<rect x="350.6" y="1609.6" width="16.6" height="16.7" fill="#2b9ae8"/>
<rect x="366.9" y="1609.6" width="16.6" height="16.7" fill="#3080be"/>
<rect x="383.2" y="1609.6" width="16.6" height="16.7" fill="#32a4f5"/>
<rect x="399.5" y="1609.6" width="16.6" height="16.7" fill="#2b9ae8"/>
<rect x="415.8" y="1609.6" width="32.9" height="16.7" fill="#3080be"/>
<rect x="448.4" y="1609.6" width="16.6" height="16.7" fill="#3871a3"/>
<rect x="464.7" y="1609.6" width="32.9" height="16.7" fill="#2b9ae8"/>
<rect x="497.3" y="1609.6" width="16.6" height="16.7" fill="#3871a3"/>
<rect x="513.6" y="1609.6" width="16.6" height="16.7" fill="#2b8ed5"/>
<rect x="529.9" y="1609.6" width="16.6" height="16.7" fill="#3871a3"/>
<rect x="546.2" y="1609.6" width="32.9" height="16.7" fill="#3d6083"/>
<rect x="578.8" y="1609.6" width="49.2" height="16.7" fill="#2b9ae8"/>
<rect x="627.7" y="1609.6" width="16.6" height="16.7" fill="#3871a3"/>
<rect x="644.0" y="1609.6" width="16.6" height="16.7" fill="#2b9ae8"/>
<rect x="660.3" y="1609.6" width="32.9" height="16.7" fill="#3d6083"/>
<rect x="692.9" y="1609.6" width="32.9" height="16.7" fill="#3080be"/>
<rect x="725.5" y="1609.6" width="32.9" height="16.7" fill="#3d6083"/>
<rect x="758.1" y="1609.6" width="32.9" height="16.7" fill="#3080be"/>
<rect x="790.7" y="1609.6" width="16.6" height="16.7" fill="#2b8ed5"/>
<rect x="807.0" y="1609.6" width="32.9" height="16.7" fill="#3d6083"/>
<rect x="839.6" y="1609.6" width="16.6" height="16.7" fill="#3080be"/>
<rect x="855.9" y="1609.6" width="16.6" height="16.7" fill="#2b8ed5"/>
<rect x="872.2" y="1609.6" width="16.6" height="16.7" fill="#3871a3"/>
<rect x="888.5" y="1609.6" width="16.6" height="16.7" fill="#2b8ed5"/>
<rect x="904.8" y="1609.6" width="49.2" height="16.7" fill="#3080be"/>
<rect x="953.7" y="1609.6" width="32.9" height="16.7" fill="#2b9ae8"/>
<rect x="986.3" y="1609.6" width="16.6" height="16.7" fill="#32a4f5"/>
<rect x="1002.6" y="1609.6" width="16.6" height="16.7" fill="#2b9ae8"/>
<rect x="1018.9" y="1609.6" width="16.6" height="16.7" fill="#32a4f5"/>
<rect x="1035.2" y="1609.6" width="16.6" height="16.7" fill="#3080be"/>
<rect x="1051.5" y="1609.6" width="16.6" height="16.7" fill="#65b0f5"/>
<rect x="1067.8" y="1609.6" width="16.6" height="16.7" fill="#2b9ae8"/>
<rect x="1084.1" y="1609.6" width="16.6" height="16.7" fill="#8cbcf2"/>
<rect x="285.4" y="1626.0" width="16.6" height="16.6" fill="#8cbcf2"/>
<rect x="301.7" y="1626.0" width="16.6" height="16.6" fill="#65b0f5"/>
<rect x="318.0" y="1626.0" width="16.6" height="16.6" fill="#32a4f5"/>
<rect x="334.3" y="1626.0" width="16.6" height="16.6" fill="#3871a3"/>
<rect x="350.6" y="1626.0" width="32.9" height="16.6" fill="#32a4f5"/>
<rect x="383.2" y="1626.0" width="16.6" height="16.6" fill="#3871a3"/>
<rect x="399.5" y="1626.0" width="16.6" height="16.6" fill="#3d6083"/>
<rect x="415.8" y="1626.0" width="49.2" height="16.6" fill="#32a4f5"/>
<rect x="464.7" y="1626.0" width="32.9" height="16.6" fill="#2b8ed5"/>
<rect x="497.3" y="1626.0" width="16.6" height="16.6" fill="#3080be"/>
<rect x="513.6" y="1626.0" width="16.6" height="16.6" fill="#3d6083"/>
<rect x="529.9" y="1626.0" width="16.6" height="16.6" fill="#2b8ed5"/>
<rect x="546.2" y="1626.0" width="16.6" height="16.6" fill="#32a4f5"/>
<rect x="562.5" y="1626.0" width="32.9" height="16.6" fill="#3d6083"/>
<rect x="595.1" y="1626.0" width="16.6" height="16.6" fill="#2b9ae8"/>
<rect x="611.4" y="1626.0" width="16.6" height="16.6" fill="#3d6083"/>
<rect x="627.7" y="1626.0" width="16.6" height="16.6" fill="#3871a3"/>
<rect x="644.0" y="1626.0" width="16.6" height="16.6" fill="#3080be"/>
<rect x="660.3" y="1626.0" width="49.2" height="16.6" fill="#3d6083"/>
<rect x="709.2" y="1626.0" width="16.6" height="16.6" fill="#2b8ed5"/>
<rect x="725.5" y="1626.0" width="49.2" height="16.6" fill="#3d6083"/>
<rect x="774.4" y="1626.0" width="16.6" height="16.6" fill="#3080be"/>
<rect x="790.7" y="1626.0" width="16.6" height="16.6" fill="#3d6083"/>
<rect x="807.0" y="1626.0" width="49.2" height="16.6" fill="#3871a3"/>
<rect x="855.9" y="1626.0" width="81.8" height="16.6" fill="#3080be"/>
<rect x="937.4" y="1626.0" width="16.6" height="16.6" fill="#2b9ae8"/>
<rect x="953.7" y="1626.0" width="16.6" height="16.6" fill="#3080be"/>
<rect x="970.0" y="1626.0" width="32.9" height="16.6" fill="#2b9ae8"/>
<rect x="1002.6" y="1626.0" width="16.6" height="16.6" fill="#2b8ed5"/>
<rect x="1018.9" y="1626.0" width="49.2" height="16.6" fill="#2b9ae8"/>
<rect x="1067.8" y="1626.0" width="16.6" height="16.6" fill="#3080be"/>
<rect x="1084.1" y="1626.0" width="16.6" height="16.6" fill="#8cbcf2"/>
<rect x="285.4" y="1642.3" width="16.6" height="16.7" fill="#8cbcf2"/>
<rect x="301.7" y="1642.3" width="16.6" height="16.7" fill="#2b8ed5"/>
<rect x="318.0" y="1642.3" width="16.6" height="16.7" fill="#2b9ae8"/>
<rect x="334.3" y="1642.3" width="16.6" height="16.7" fill="#32a4f5"/>
<rect x="350.6" y="1642.3" width="32.9" height="16.7" fill="#3871a3"/>
<rect x="383.2" y="1642.3" width="32.9" height="16.7" fill="#2b8ed5"/>
<rect x="415.8" y="1642.3" width="16.6" height="16.7" fill="#3871a3"/>
<rect x="432.1" y="1642.3" width="32.9" height="16.7" fill="#2b9ae8"/>
<rect x="464.7" y="1642.3" width="16.6" height="16.7" fill="#3871a3"/>
<rect x="481.0" y="1642.3" width="16.6" height="16.7" fill="#2b9ae8"/>
<rect x="497.3" y="1642.3" width="16.6" height="16.7" fill="#2b8ed5"/>
<rect x="513.6" y="1642.3" width="49.2" height="16.7" fill="#3d6083"/>
<rect x="562.5" y="1642.3" width="16.6" height="16.7" fill="#3871a3"/>
<rect x="578.8" y="1642.3" width="16.6" height="16.7" fill="#3d6083"/>
<rect x="595.1" y="1642.3" width="16.6" height="16.7" fill="#3080be"/>
<rect x="611.4" y="1642.3" width="16.6" height="16.7" fill="#3d6083"/>
<rect x="627.7" y="1642.3" width="16.6" height="16.7" fill="#3871a3"/>
<rect x="644.0" y="1642.3" width="16.6" height="16.7" fill="#2b8ed5"/>
<rect x="660.3" y="1642.3" width="81.8" height="16.7" fill="#3d6083"/>
<rect x="741.8" y="1642.3" width="16.6" height="16.7" fill="#3871a3"/>
<rect x="758.1" y="1642.3" width="16.6" height="16.7" fill="#3d6083"/>
<rect x="774.4" y="1642.3" width="65.5" height="16.7" fill="#3871a3"/>
<rect x="839.6" y="1642.3" width="16.6" height="16.7" fill="#2b9ae8"/>
<rect x="855.9" y="1642.3" width="49.2" height="16.7" fill="#3080be"/>
<rect x="904.8" y="1642.3" width="49.2" height="16.7" fill="#2b8ed5"/>
<rect x="953.7" y="1642.3" width="16.6" height="16.7" fill="#2b9ae8"/>
<rect x="970.0" y="1642.3" width="49.2" height="16.7" fill="#2b8ed5"/>
<rect x="1018.9" y="1642.3" width="65.5" height="16.7" fill="#2b9ae8"/>
<rect x="1084.1" y="1642.3" width="16.6" height="16.7" fill="#32a4f5"/>
<rect x="285.4" y="1658.7" width="16.6" height="16.7" fill="#a6c6ef"/>
<rect x="301.7" y="1658.7" width="32.9" height="16.7" fill="#32a4f5"/>
<rect x="334.3" y="1658.7" width="32.9" height="16.7" fill="#2b9ae8"/>
<rect x="366.9" y="1658.7" width="16.6" height="16.7" fill="#3871a3"/>
<rect x="383.2" y="1658.7" width="49.2" height="16.7" fill="#2b9ae8"/>
<rect x="432.1" y="1658.7" width="16.6" height="16.7" fill="#2b8ed5"/>
<rect x="448.4" y="1658.7" width="16.6" height="16.7" fill="#2b9ae8"/>
<rect x="464.7" y="1658.7" width="16.6" height="16.7" fill="#3d6083"/>
<rect x="481.0" y="1658.7" width="16.6" height="16.7" fill="#2b8ed5"/>
<rect x="497.3" y="1658.7" width="16.6" height="16.7" fill="#3871a3"/>
<rect x="513.6" y="1658.7" width="32.9" height="16.7" fill="#2b8ed5"/>
<rect x="546.2" y="1658.7" width="16.6" height="16.7" fill="#3080be"/>
<rect x="562.5" y="1658.7" width="16.6" height="16.7" fill="#3d6083"/>
<rect x="578.8" y="1658.7" width="16.6" height="16.7" fill="#3871a3"/>
<rect x="595.1" y="1658.7" width="16.6" height="16.7" fill="#3d6083"/>
<rect x="611.4" y="1658.7" width="16.6" height="16.7" fill="#3080be"/>
<rect x="627.7" y="1658.7" width="16.6" height="16.7" fill="#3871a3"/>
<rect x="644.0" y="1658.7" width="65.5" height="16.7" fill="#3d6083"/>
<rect x="709.2" y="1658.7" width="16.6" height="16.7" fill="#2b8ed5"/>
<rect x="725.5" y="1658.7" width="16.6" height="16.7" fill="#3d6083"/>
<rect x="741.8" y="1658.7" width="16.6" height="16.7" fill="#2b9ae8"/>
<rect x="758.1" y="1658.7" width="16.6" height="16.7" fill="#3080be"/>
<rect x="774.4" y="1658.7" width="32.9" height="16.7" fill="#3871a3"/>
<rect x="807.0" y="1658.7" width="16.6" height="16.7" fill="#3080be"/>
<rect x="823.3" y="1658.7" width="16.6" height="16.7" fill="#2b8ed5"/>
<rect x="839.6" y="1658.7" width="49.2" height="16.7" fill="#3871a3"/>
<rect x="888.5" y="1658.7" width="16.6" height="16.7" fill="#32a4f5"/>
<rect x="904.8" y="1658.7" width="16.6" height="16.7" fill="#3871a3"/>
<rect x="921.1" y="1658.7" width="16.6" height="16.7" fill="#3d6083"/>
<rect x="937.4" y="1658.7" width="49.2" height="16.7" fill="#3080be"/>
<rect x="986.3" y="1658.7" width="32.9" height="16.7" fill="#2b8ed5"/>
<rect x="1018.9" y="1658.7" width="16.6" height="16.7" fill="#8cbcf2"/>
<rect x="1035.2" y="1658.7" width="16.6" height="16.7" fill="#3d6083"/>
<rect x="1051.5" y="1658.7" width="16.6" height="16.7" fill="#8cbcf2"/>
<rect x="1067.8" y="1658.7" width="16.6" height="16.7" fill="#2b8ed5"/>
<rect x="1084.1" y="1658.7" width="16.6" height="16.7" fill="#2b9ae8"/>
<rect x="285.4" y="1675.1" width="16.6" height="16.7" fill="#65b0f5"/>
<rect x="301.7" y="1675.1" width="98.1" height="16.7" fill="#2b9ae8"/>
<rect x="399.5" y="1675.1" width="16.6" height="16.7" fill="#3871a3"/>
<rect x="415.8" y="1675.1" width="32.9" height="16.7" fill="#32a4f5"/>
<rect x="448.4" y="1675.1" width="16.6" height="16.7" fill="#2b9ae8"/>
<rect x="464.7" y="1675.1" width="16.6" height="16.7" fill="#3d6083"/>
<rect x="481.0" y="1675.1" width="32.9" height="16.7" fill="#2b8ed5"/>
<rect x="513.6" y="1675.1" width="32.9" height="16.7" fill="#3871a3"/>
<rect x="546.2" y="1675.1" width="16.6" height="16.7" fill="#2b8ed5"/>
<rect x="562.5" y="1675.1" width="16.6" height="16.7" fill="#3080be"/>
<rect x="578.8" y="1675.1" width="16.6" height="16.7" fill="#3d6083"/>
<rect x="595.1" y="1675.1" width="16.6" height="16.7" fill="#2b8ed5"/>
<rect x="611.4" y="1675.1" width="16.6" height="16.7" fill="#3d6083"/>
<rect x="627.7" y="1675.1" width="16.6" height="16.7" fill="#3871a3"/>
<rect x="644.0" y="1675.1" width="16.6" height="16.7" fill="#3080be"/>
<rect x="660.3" y="1675.1" width="49.2" height="16.7" fill="#3d6083"/>
<rect x="709.2" y="1675.1" width="16.6" height="16.7" fill="#3080be"/>
<rect x="725.5" y="1675.1" width="16.6" height="16.7" fill="#3d6083"/>
<rect x="741.8" y="1675.1" width="16.6" height="16.7" fill="#2b9ae8"/>
<rect x="758.1" y="1675.1" width="16.6" height="16.7" fill="#3080be"/>
<rect x="774.4" y="1675.1" width="16.6" height="16.7" fill="#3871a3"/>
<rect x="790.7" y="1675.1" width="16.6" height="16.7" fill="#2b8ed5"/>
<rect x="807.0" y="1675.1" width="32.9" height="16.7" fill="#2b9ae8"/>
<rect x="839.6" y="1675.1" width="16.6" height="16.7" fill="#3d6083"/>
<rect x="855.9" y="1675.1" width="16.6" height="16.7" fill="#32a4f5"/>
<rect x="872.2" y="1675.1" width="16.6" height="16.7" fill="#3d6083"/>
<rect x="888.5" y="1675.1" width="16.6" height="16.7" fill="#2b8ed5"/>
<rect x="904.8" y="1675.1" width="16.6" height="16.7" fill="#3d6083"/>
<rect x="921.1" y="1675.1" width="16.6" height="16.7" fill="#65b0f5"/>
<rect x="937.4" y="1675.1" width="16.6" height="16.7" fill="#3080be"/>
<rect x="953.7" y="1675.1" width="16.6" height="16.7" fill="#2b9ae8"/>
<rect x="970.0" y="1675.1" width="16.6" height="16.7" fill="#3080be"/>
<rect x="986.3" y="1675.1" width="81.8" height="16.7" fill="#32a4f5"/>
<rect x="1067.8" y="1675.1" width="16.6" height="16.7" fill="#8cbcf2"/>
<rect x="1084.1" y="1675.1" width="16.6" height="16.7" fill="#a6c6ef"/>
<rect x="285.4" y="1691.5" width="16.6" height="16.7" fill="#8cbcf2"/>
<rect x="301.7" y="1691.5" width="16.6" height="16.7" fill="#32a4f5"/>
<rect x="318.0" y="1691.5" width="16.6" height="16.7" fill="#2b8ed5"/>
<rect x="334.3" y="1691.5" width="16.6" height="16.7" fill="#2b9ae8"/>
<rect x="350.6" y="1691.5" width="65.5" height="16.7" fill="#3080be"/>
<rect x="415.8" y="1691.5" width="16.6" height="16.7" fill="#32a4f5"/>
<rect x="432.1" y="1691.5" width="49.2" height="16.7" fill="#2b8ed5"/>
<rect x="481.0" y="1691.5" width="16.6" height="16.7" fill="#3080be"/>
<rect x="497.3" y="1691.5" width="16.6" height="16.7" fill="#3d6083"/>
<rect x="513.6" y="1691.5" width="16.6" height="16.7" fill="#2b8ed5"/>
<rect x="529.9" y="1691.5" width="16.6" height="16.7" fill="#3d6083"/>
<rect x="546.2" y="1691.5" width="16.6" height="16.7" fill="#3080be"/>
<rect x="562.5" y="1691.5" width="16.6" height="16.7" fill="#3871a3"/>
<rect x="578.8" y="1691.5" width="16.6" height="16.7" fill="#2b9ae8"/>
<rect x="595.1" y="1691.5" width="32.9" height="16.7" fill="#3871a3"/>
<rect x="627.7" y="1691.5" width="16.6" height="16.7" fill="#3080be"/>
<rect x="644.0" y="1691.5" width="65.5" height="16.7" fill="#3d6083"/>
<rect x="709.2" y="1691.5" width="16.6" height="16.7" fill="#3871a3"/>
<rect x="725.5" y="1691.5" width="16.6" height="16.7" fill="#2b8ed5"/>
<rect x="741.8" y="1691.5" width="16.6" height="16.7" fill="#3d546e"/>
<rect x="758.1" y="1691.5" width="16.6" height="16.7" fill="#3080be"/>
<rect x="774.4" y="1691.5" width="16.6" height="16.7" fill="#3871a3"/>
<rect x="790.7" y="1691.5" width="16.6" height="16.7" fill="#3080be"/>
<rect x="807.0" y="1691.5" width="32.9" height="16.7" fill="#2b8ed5"/>
<rect x="839.6" y="1691.5" width="32.9" height="16.7" fill="#2b9ae8"/>
<rect x="872.2" y="1691.5" width="16.6" height="16.7" fill="#2b8ed5"/>
<rect x="888.5" y="1691.5" width="32.9" height="16.7" fill="#2b9ae8"/>
<rect x="921.1" y="1691.5" width="16.6" height="16.7" fill="#2b8ed5"/>
<rect x="937.4" y="1691.5" width="16.6" height="16.7" fill="#32a4f5"/>
<rect x="953.7" y="1691.5" width="16.6" height="16.7" fill="#3871a3"/>
<rect x="970.0" y="1691.5" width="32.9" height="16.7" fill="#2b9ae8"/>
<rect x="1002.6" y="1691.5" width="16.6" height="16.7" fill="#32a4f5"/>
<rect x="1018.9" y="1691.5" width="49.2" height="16.7" fill="#3080be"/>
<rect x="1067.8" y="1691.5" width="16.6" height="16.7" fill="#2b8ed5"/>
<rect x="1084.1" y="1691.5" width="16.6" height="16.7" fill="#65b0f5"/>
<rect x="285.4" y="1707.9" width="16.6" height="16.6" fill="#8cbcf2"/>
<rect x="301.7" y="1707.9" width="16.6" height="16.6" fill="#32a4f5"/>
<rect x="318.0" y="1707.9" width="16.6" height="16.6" fill="#2b8ed5"/>
<rect x="334.3" y="1707.9" width="16.6" height="16.6" fill="#8cbcf2"/>
<rect x="350.6" y="1707.9" width="16.6" height="16.6" fill="#65b0f5"/>
<rect x="366.9" y="1707.9" width="65.5" height="16.6" fill="#2b8ed5"/>
<rect x="432.1" y="1707.9" width="16.6" height="16.6" fill="#3871a3"/>
<rect x="448.4" y="1707.9" width="16.6" height="16.6" fill="#2b9ae8"/>
<rect x="464.7" y="1707.9" width="32.9" height="16.6" fill="#32a4f5"/>
<rect x="497.3" y="1707.9" width="16.6" height="16.6" fill="#3871a3"/>
<rect x="513.6" y="1707.9" width="16.6" height="16.6" fill="#32a4f5"/>
<rect x="529.9" y="1707.9" width="16.6" height="16.6" fill="#2b9ae8"/>
<rect x="546.2" y="1707.9" width="16.6" height="16.6" fill="#3d6083"/>
<rect x="562.5" y="1707.9" width="16.6" height="16.6" fill="#3871a3"/>
<rect x="578.8" y="1707.9" width="16.6" height="16.6" fill="#3d6083"/>
<rect x="595.1" y="1707.9" width="32.9" height="16.6" fill="#3080be"/>
<rect x="627.7" y="1707.9" width="16.6" height="16.6" fill="#2b8ed5"/>
<rect x="644.0" y="1707.9" width="49.2" height="16.6" fill="#3871a3"/>
<rect x="692.9" y="1707.9" width="16.6" height="16.6" fill="#2b8ed5"/>
<rect x="709.2" y="1707.9" width="16.6" height="16.6" fill="#3d6083"/>
<rect x="725.5" y="1707.9" width="16.6" height="16.6" fill="#3080be"/>
<rect x="741.8" y="1707.9" width="16.6" height="16.6" fill="#3d546e"/>
<rect x="758.1" y="1707.9" width="32.9" height="16.6" fill="#3080be"/>
<rect x="790.7" y="1707.9" width="49.2" height="16.6" fill="#3d6083"/>
<rect x="839.6" y="1707.9" width="16.6" height="16.6" fill="#3080be"/>
<rect x="855.9" y="1707.9" width="114.4" height="16.6" fill="#2b9ae8"/>
<rect x="970.0" y="1707.9" width="16.6" height="16.6" fill="#8cbcf2"/>
<rect x="986.3" y="1707.9" width="16.6" height="16.6" fill="#3871a3"/>
<rect x="1002.6" y="1707.9" width="16.6" height="16.6" fill="#3080be"/>
<rect x="1018.9" y="1707.9" width="49.2" height="16.6" fill="#2b9ae8"/>
<rect x="1067.8" y="1707.9" width="16.6" height="16.6" fill="#32a4f5"/>
<rect x="1084.1" y="1707.9" width="16.6" height="16.6" fill="#a6c6ef"/>
<rect x="285.4" y="1724.2" width="16.6" height="16.7" fill="#8cbcf2"/>
<rect x="301.7" y="1724.2" width="32.9" height="16.7" fill="#2b9ae8"/>
<rect x="334.3" y="1724.2" width="49.2" height="16.7" fill="#32a4f5"/>
<rect x="383.2" y="1724.2" width="16.6" height="16.7" fill="#2b8ed5"/>
<rect x="399.5" y="1724.2" width="16.6" height="16.7" fill="#2b9ae8"/>
<rect x="415.8" y="1724.2" width="16.6" height="16.7" fill="#3d6083"/>
<rect x="432.1" y="1724.2" width="16.6" height="16.7" fill="#2b8ed5"/>
<rect x="448.4" y="1724.2" width="16.6" height="16.7" fill="#2b9ae8"/>
<rect x="464.7" y="1724.2" width="16.6" height="16.7" fill="#3871a3"/>
<rect x="481.0" y="1724.2" width="16.6" height="16.7" fill="#32a4f5"/>
<rect x="497.3" y="1724.2" width="32.9" height="16.7" fill="#2b9ae8"/>
<rect x="529.9" y="1724.2" width="16.6" height="16.7" fill="#3d6083"/>
<rect x="546.2" y="1724.2" width="49.2" height="16.7" fill="#3871a3"/>
<rect x="595.1" y="1724.2" width="16.6" height="16.7" fill="#3d6083"/>
<rect x="611.4" y="1724.2" width="16.6" height="16.7" fill="#3080be"/>
<rect x="627.7" y="1724.2" width="16.6" height="16.7" fill="#3d6083"/>
<rect x="644.0" y="1724.2" width="16.6" height="16.7" fill="#3080be"/>
<rect x="660.3" y="1724.2" width="65.5" height="16.7" fill="#3d6083"/>
<rect x="725.5" y="1724.2" width="16.6" height="16.7" fill="#3871a3"/>
<rect x="741.8" y="1724.2" width="32.9" height="16.7" fill="#3080be"/>
<rect x="774.4" y="1724.2" width="16.6" height="16.7" fill="#3d6083"/>
<rect x="790.7" y="1724.2" width="32.9" height="16.7" fill="#2b8ed5"/>
<rect x="823.3" y="1724.2" width="32.9" height="16.7" fill="#3080be"/>
<rect x="855.9" y="1724.2" width="49.2" height="16.7" fill="#2b9ae8"/>
<rect x="904.8" y="1724.2" width="49.2" height="16.7" fill="#2b8ed5"/>
<rect x="953.7" y="1724.2" width="16.6" height="16.7" fill="#2b9ae8"/>
<rect x="970.0" y="1724.2" width="16.6" height="16.7" fill="#3d546e"/>
<rect x="986.3" y="1724.2" width="32.9" height="16.7" fill="#2b9ae8"/>
<rect x="1018.9" y="1724.2" width="16.6" height="16.7" fill="#3871a3"/>
<rect x="1035.2" y="1724.2" width="32.9" height="16.7" fill="#3080be"/>
<rect x="1067.8" y="1724.2" width="16.6" height="16.7" fill="#2b8ed5"/>
<rect x="1084.1" y="1724.2" width="16.6" height="16.7" fill="#a6c6ef"/>
<rect x="285.4" y="1740.6" width="16.6" height="16.7" fill="#a6c6ef"/>
<rect x="301.7" y="1740.6" width="16.6" height="16.7" fill="#65b0f5"/>
<rect x="318.0" y="1740.6" width="16.6" height="16.7" fill="#a6c6ef"/>
<rect x="334.3" y="1740.6" width="32.9" height="16.7" fill="#32a4f5"/>
<rect x="366.9" y="1740.6" width="16.6" height="16.7" fill="#8cbcf2"/>
<rect x="383.2" y="1740.6" width="16.6" height="16.7" fill="#65b0f5"/>
<rect x="399.5" y="1740.6" width="16.6" height="16.7" fill="#3080be"/>
<rect x="415.8" y="1740.6" width="32.9" height="16.7" fill="#3d6083"/>
<rect x="448.4" y="1740.6" width="32.9" height="16.7" fill="#2b9ae8"/>
<rect x="481.0" y="1740.6" width="16.6" height="16.7" fill="#2b8ed5"/>
<rect x="497.3" y="1740.6" width="16.6" height="16.7" fill="#32a4f5"/>
<rect x="513.6" y="1740.6" width="16.6" height="16.7" fill="#2b9ae8"/>
<rect x="529.9" y="1740.6" width="32.9" height="16.7" fill="#3d6083"/>
<rect x="562.5" y="1740.6" width="16.6" height="16.7" fill="#2b8ed5"/>
<rect x="578.8" y="1740.6" width="16.6" height="16.7" fill="#3d6083"/>
<rect x="595.1" y="1740.6" width="16.6" height="16.7" fill="#3871a3"/>
<rect x="611.4" y="1740.6" width="16.6" height="16.7" fill="#3080be"/>
<rect x="627.7" y="1740.6" width="49.2" height="16.7" fill="#3d6083"/>
<rect x="676.6" y="1740.6" width="16.6" height="16.7" fill="#3080be"/>
<rect x="692.9" y="1740.6" width="16.6" height="16.7" fill="#2b8ed5"/>
<rect x="709.2" y="1740.6" width="16.6" height="16.7" fill="#3d6083"/>
<rect x="725.5" y="1740.6" width="16.6" height="16.7" fill="#2b9ae8"/>
<rect x="741.8" y="1740.6" width="16.6" height="16.7" fill="#3080be"/>
<rect x="758.1" y="1740.6" width="16.6" height="16.7" fill="#3d6083"/>
<rect x="774.4" y="1740.6" width="16.6" height="16.7" fill="#2b9ae8"/>
<rect x="790.7" y="1740.6" width="16.6" height="16.7" fill="#3d6083"/>
<rect x="807.0" y="1740.6" width="16.6" height="16.7" fill="#2b9ae8"/>
<rect x="823.3" y="1740.6" width="16.6" height="16.7" fill="#3080be"/>
<rect x="839.6" y="1740.6" width="16.6" height="16.7" fill="#3871a3"/>
<rect x="855.9" y="1740.6" width="16.6" height="16.7" fill="#3d6083"/>
<rect x="872.2" y="1740.6" width="16.6" height="16.7" fill="#32a4f5"/>
<rect x="888.5" y="1740.6" width="16.6" height="16.7" fill="#3080be"/>
<rect x="904.8" y="1740.6" width="16.6" height="16.7" fill="#3871a3"/>
<rect x="921.1" y="1740.6" width="16.6" height="16.7" fill="#32a4f5"/>
<rect x="937.4" y="1740.6" width="49.2" height="16.7" fill="#2b9ae8"/>
<rect x="986.3" y="1740.6" width="32.9" height="16.7" fill="#32a4f5"/>
<rect x="1018.9" y="1740.6" width="16.6" height="16.7" fill="#8cbcf2"/>
<rect x="1035.2" y="1740.6" width="16.6" height="16.7" fill="#2b8ed5"/>
<rect x="1051.5" y="1740.6" width="16.6" height="16.7" fill="#65b0f5"/>
<rect x="1067.8" y="1740.6" width="16.6" height="16.7" fill="#32a4f5"/>
<rect x="1084.1" y="1740.6" width="16.6" height="16.7" fill="#a6c6ef"/>
<rect x="285.4" y="1757.0" width="16.6" height="16.7" fill="#8cbcf2"/>
<rect x="301.7" y="1757.0" width="16.6" height="16.7" fill="#32a4f5"/>
<rect x="318.0" y="1757.0" width="16.6" height="16.7" fill="#3080be"/>
<rect x="334.3" y="1757.0" width="16.6" height="16.7" fill="#32a4f5"/>
<rect x="350.6" y="1757.0" width="49.2" height="16.7" fill="#2b9ae8"/>
<rect x="399.5" y="1757.0" width="16.6" height="16.7" fill="#3080be"/>
<rect x="415.8" y="1757.0" width="16.6" height="16.7" fill="#2b9ae8"/>
<rect x="432.1" y="1757.0" width="16.6" height="16.7" fill="#2b8ed5"/>
<rect x="448.4" y="1757.0" width="32.9" height="16.7" fill="#2b9ae8"/>
<rect x="481.0" y="1757.0" width="16.6" height="16.7" fill="#65b0f5"/>
<rect x="497.3" y="1757.0" width="32.9" height="16.7" fill="#2b8ed5"/>
<rect x="529.9" y="1757.0" width="32.9" height="16.7" fill="#32a4f5"/>
<rect x="562.5" y="1757.0" width="16.6" height="16.7" fill="#3871a3"/>
<rect x="578.8" y="1757.0" width="32.9" height="16.7" fill="#3080be"/>
<rect x="611.4" y="1757.0" width="49.2" height="16.7" fill="#3d6083"/>
<rect x="660.3" y="1757.0" width="16.6" height="16.7" fill="#2b8ed5"/>
<rect x="676.6" y="1757.0" width="32.9" height="16.7" fill="#3d6083"/>
<rect x="709.2" y="1757.0" width="16.6" height="16.7" fill="#3080be"/>
<rect x="725.5" y="1757.0" width="16.6" height="16.7" fill="#2b9ae8"/>
<rect x="741.8" y="1757.0" width="16.6" height="16.7" fill="#2b8ed5"/>
<rect x="758.1" y="1757.0" width="16.6" height="16.7" fill="#3d6083"/>
<rect x="774.4" y="1757.0" width="16.6" height="16.7" fill="#2b9ae8"/>
<rect x="790.7" y="1757.0" width="16.6" height="16.7" fill="#3871a3"/>
<rect x="807.0" y="1757.0" width="16.6" height="16.7" fill="#3d6083"/>
<rect x="823.3" y="1757.0" width="16.6" height="16.7" fill="#2b8ed5"/>
<rect x="839.6" y="1757.0" width="32.9" height="16.7" fill="#32a4f5"/>
<rect x="872.2" y="1757.0" width="49.2" height="16.7" fill="#3871a3"/>
<rect x="921.1" y="1757.0" width="32.9" height="16.7" fill="#32a4f5"/>
<rect x="953.7" y="1757.0" width="16.6" height="16.7" fill="#2b9ae8"/>
<rect x="970.0" y="1757.0" width="16.6" height="16.7" fill="#2b8ed5"/>
<rect x="986.3" y="1757.0" width="16.6" height="16.7" fill="#2b9ae8"/>
<rect x="1002.6" y="1757.0" width="16.6" height="16.7" fill="#3871a3"/>
<rect x="1018.9" y="1757.0" width="16.6" height="16.7" fill="#32a4f5"/>
<rect x="1035.2" y="1757.0" width="16.6" height="16.7" fill="#2b9ae8"/>
<rect x="1051.5" y="1757.0" width="16.6" height="16.7" fill="#2b8ed5"/>
<rect x="1067.8" y="1757.0" width="16.6" height="16.7" fill="#32a4f5"/>
<rect x="1084.1" y="1757.0" width="16.6" height="16.7" fill="#2b9ae8"/>
<rect x="285.4" y="1773.4" width="16.6" height="16.6" fill="#8cbcf2"/>
<rect x="301.7" y="1773.4" width="32.9" height="16.6" fill="#2b9ae8"/>
<rect x="334.3" y="1773.4" width="32.9" height="16.6" fill="#3080be"/>
<rect x="366.9" y="1773.4" width="49.2" height="16.6" fill="#32a4f5"/>
<rect x="415.8" y="1773.4" width="16.6" height="16.6" fill="#2b9ae8"/>
<rect x="432.1" y="1773.4" width="32.9" height="16.6" fill="#32a4f5"/>
<rect x="464.7" y="1773.4" width="16.6" height="16.6" fill="#2b9ae8"/>
<rect x="481.0" y="1773.4" width="49.2" height="16.6" fill="#2b8ed5"/>
<rect x="529.9" y="1773.4" width="32.9" height="16.6" fill="#2b9ae8"/>
<rect x="562.5" y="1773.4" width="32.9" height="16.6" fill="#2b8ed5"/>
<rect x="595.1" y="1773.4" width="16.6" height="16.6" fill="#3d6083"/>
<rect x="611.4" y="1773.4" width="16.6" height="16.6" fill="#3080be"/>
<rect x="627.7" y="1773.4" width="32.9" height="16.6" fill="#3d6083"/>
<rect x="660.3" y="1773.4" width="16.6" height="16.6" fill="#3871a3"/>
<rect x="676.6" y="1773.4" width="16.6" height="16.6" fill="#2b8ed5"/>
<rect x="692.9" y="1773.4" width="49.2" height="16.6" fill="#3d6083"/>
<rect x="741.8" y="1773.4" width="32.9" height="16.6" fill="#3080be"/>
<rect x="774.4" y="1773.4" width="16.6" height="16.6" fill="#3871a3"/>
<rect x="790.7" y="1773.4" width="49.2" height="16.6" fill="#2b8ed5"/>
<rect x="839.6" y="1773.4" width="16.6" height="16.6" fill="#3871a3"/>
<rect x="855.9" y="1773.4" width="16.6" height="16.6" fill="#3080be"/>
<rect x="872.2" y="1773.4" width="16.6" height="16.6" fill="#32a4f5"/>
<rect x="888.5" y="1773.4" width="16.6" height="16.6" fill="#3080be"/>
<rect x="904.8" y="1773.4" width="16.6" height="16.6" fill="#32a4f5"/>
<rect x="921.1" y="1773.4" width="32.9" height="16.6" fill="#3d6083"/>
<rect x="953.7" y="1773.4" width="32.9" height="16.6" fill="#2b9ae8"/>
<rect x="986.3" y="1773.4" width="32.9" height="16.6" fill="#32a4f5"/>
<rect x="1018.9" y="1773.4" width="16.6" height="16.6" fill="#65b0f5"/>
<rect x="1035.2" y="1773.4" width="16.6" height="16.6" fill="#3080be"/>
<rect x="1051.5" y="1773.4" width="16.6" height="16.6" fill="#32a4f5"/>
<rect x="1067.8" y="1773.4" width="16.6" height="16.6" fill="#2b9ae8"/>
<rect x="1084.1" y="1773.4" width="16.6" height="16.6" fill="#32a4f5"/>
<rect x="285.4" y="1789.7" width="16.6" height="16.7" fill="#a6c6ef"/>
<rect x="301.7" y="1789.7" width="16.6" height="16.7" fill="#2b9ae8"/>
<rect x="318.0" y="1789.7" width="16.6" height="16.7" fill="#65b0f5"/>
<rect x="334.3" y="1789.7" width="16.6" height="16.7" fill="#a6c6ef"/>
<rect x="350.6" y="1789.7" width="16.6" height="16.7" fill="#32a4f5"/>
<rect x="366.9" y="1789.7" width="32.9" height="16.7" fill="#2b9ae8"/>
<rect x="399.5" y="1789.7" width="16.6" height="16.7" fill="#2b8ed5"/>
<rect x="415.8" y="1789.7" width="32.9" height="16.7" fill="#32a4f5"/>
<rect x="448.4" y="1789.7" width="32.9" height="16.7" fill="#2b9ae8"/>
<rect x="481.0" y="1789.7" width="32.9" height="16.7" fill="#2b8ed5"/>
<rect x="513.6" y="1789.7" width="16.6" height="16.7" fill="#3d6083"/>
<rect x="529.9" y="1789.7" width="16.6" height="16.7" fill="#32a4f5"/>
<rect x="546.2" y="1789.7" width="16.6" height="16.7" fill="#3080be"/>
<rect x="562.5" y="1789.7" width="49.2" height="16.7" fill="#3d6083"/>
<rect x="611.4" y="1789.7" width="32.9" height="16.7" fill="#3871a3"/>
<rect x="644.0" y="1789.7" width="65.5" height="16.7" fill="#3d6083"/>
<rect x="709.2" y="1789.7" width="16.6" height="16.7" fill="#3080be"/>
<rect x="725.5" y="1789.7" width="32.9" height="16.7" fill="#3871a3"/>
<rect x="758.1" y="1789.7" width="32.9" height="16.7" fill="#3d6083"/>
<rect x="790.7" y="1789.7" width="16.6" height="16.7" fill="#2b9ae8"/>
<rect x="807.0" y="1789.7" width="16.6" height="16.7" fill="#3d546e"/>
<rect x="823.3" y="1789.7" width="16.6" height="16.7" fill="#2b8ed5"/>
<rect x="839.6" y="1789.7" width="16.6" height="16.7" fill="#32a4f5"/>
<rect x="855.9" y="1789.7" width="16.6" height="16.7" fill="#2b8ed5"/>
<rect x="872.2" y="1789.7" width="16.6" height="16.7" fill="#3871a3"/>
<rect x="888.5" y="1789.7" width="16.6" height="16.7" fill="#2b9ae8"/>
<rect x="904.8" y="1789.7" width="32.9" height="16.7" fill="#3080be"/>
<rect x="937.4" y="1789.7" width="16.6" height="16.7" fill="#8cbcf2"/>
<rect x="953.7" y="1789.7" width="16.6" height="16.7" fill="#32a4f5"/>
<rect x="970.0" y="1789.7" width="16.6" height="16.7" fill="#3871a3"/>
<rect x="986.3" y="1789.7" width="16.6" height="16.7" fill="#32a4f5"/>
<rect x="1002.6" y="1789.7" width="32.9" height="16.7" fill="#3080be"/>
<rect x="1035.2" y="1789.7" width="16.6" height="16.7" fill="#32a4f5"/>
<rect x="1051.5" y="1789.7" width="16.6" height="16.7" fill="#3871a3"/>
<rect x="1067.8" y="1789.7" width="16.6" height="16.7" fill="#32a4f5"/>
<rect x="1084.1" y="1789.7" width="16.6" height="16.7" fill="#a6c6ef"/>
<rect x="285.4" y="1806.1" width="32.9" height="16.7" fill="#8cbcf2"/>
<rect x="318.0" y="1806.1" width="16.6" height="16.7" fill="#2b8ed5"/>
<rect x="334.3" y="1806.1" width="16.6" height="16.7" fill="#2b9ae8"/>
<rect x="350.6" y="1806.1" width="49.2" height="16.7" fill="#32a4f5"/>
<rect x="399.5" y="1806.1" width="16.6" height="16.7" fill="#3080be"/>
<rect x="415.8" y="1806.1" width="32.9" height="16.7" fill="#32a4f5"/>
<rect x="448.4" y="1806.1" width="16.6" height="16.7" fill="#2b9ae8"/>
<rect x="464.7" y="1806.1" width="16.6" height="16.7" fill="#3080be"/>
<rect x="481.0" y="1806.1" width="16.6" height="16.7" fill="#2b8ed5"/>
<rect x="497.3" y="1806.1" width="16.6" height="16.7" fill="#3871a3"/>
<rect x="513.6" y="1806.1" width="32.9" height="16.7" fill="#2b8ed5"/>
<rect x="546.2" y="1806.1" width="16.6" height="16.7" fill="#2b9ae8"/>
<rect x="562.5" y="1806.1" width="65.5" height="16.7" fill="#3871a3"/>
<rect x="627.7" y="1806.1" width="16.6" height="16.7" fill="#3d6083"/>
<rect x="644.0" y="1806.1" width="16.6" height="16.7" fill="#2b9ae8"/>
<rect x="660.3" y="1806.1" width="16.6" height="16.7" fill="#3d6083"/>
<rect x="676.6" y="1806.1" width="32.9" height="16.7" fill="#3871a3"/>
<rect x="709.2" y="1806.1" width="49.2" height="16.7" fill="#3d6083"/>
<rect x="758.1" y="1806.1" width="16.6" height="16.7" fill="#3871a3"/>
<rect x="774.4" y="1806.1" width="16.6" height="16.7" fill="#3080be"/>
<rect x="790.7" y="1806.1" width="16.6" height="16.7" fill="#3871a3"/>
<rect x="807.0" y="1806.1" width="32.9" height="16.7" fill="#2b9ae8"/>
<rect x="839.6" y="1806.1" width="16.6" height="16.7" fill="#3080be"/>
<rect x="855.9" y="1806.1" width="16.6" height="16.7" fill="#32a4f5"/>
<rect x="872.2" y="1806.1" width="16.6" height="16.7" fill="#3080be"/>
<rect x="888.5" y="1806.1" width="49.2" height="16.7" fill="#2b9ae8"/>
<rect x="937.4" y="1806.1" width="65.5" height="16.7" fill="#32a4f5"/>
<rect x="1002.6" y="1806.1" width="16.6" height="16.7" fill="#2b9ae8"/>
<rect x="1018.9" y="1806.1" width="16.6" height="16.7" fill="#3871a3"/>
<rect x="1035.2" y="1806.1" width="16.6" height="16.7" fill="#8cbcf2"/>
<rect x="1051.5" y="1806.1" width="16.6" height="16.7" fill="#32a4f5"/>
<rect x="1067.8" y="1806.1" width="16.6" height="16.7" fill="#3080be"/>
<rect x="1084.1" y="1806.1" width="16.6" height="16.7" fill="#32a4f5"/>
<rect x="285.4" y="1822.5" width="16.6" height="16.7" fill="#8cbcf2"/>
<rect x="301.7" y="1822.5" width="32.9" height="16.7" fill="#65b0f5"/>
<rect x="334.3" y="1822.5" width="32.9" height="16.7" fill="#2b9ae8"/>
<rect x="366.9" y="1822.5" width="16.6" height="16.7" fill="#2b8ed5"/>
<rect x="383.2" y="1822.5" width="16.6" height="16.7" fill="#32a4f5"/>
<rect x="399.5" y="1822.5" width="32.9" height="16.7" fill="#2b9ae8"/>
<rect x="432.1" y="1822.5" width="32.9" height="16.7" fill="#32a4f5"/>
<rect x="464.7" y="1822.5" width="32.9" height="16.7" fill="#2b8ed5"/>
<rect x="497.3" y="1822.5" width="16.6" height="16.7" fill="#32a4f5"/>
<rect x="513.6" y="1822.5" width="16.6" height="16.7" fill="#2b8ed5"/>
<rect x="529.9" y="1822.5" width="32.9" height="16.7" fill="#3871a3"/>
<rect x="562.5" y="1822.5" width="49.2" height="16.7" fill="#3080be"/>
<rect x="611.4" y="1822.5" width="16.6" height="16.7" fill="#3d6083"/>
<rect x="627.7" y="1822.5" width="16.6" height="16.7" fill="#3080be"/>
<rect x="644.0" y="1822.5" width="16.6" height="16.7" fill="#2b9ae8"/>
<rect x="660.3" y="1822.5" width="32.9" height="16.7" fill="#3d6083"/>
<rect x="692.9" y="1822.5" width="16.6" height="16.7" fill="#3871a3"/>
<rect x="709.2" y="1822.5" width="16.6" height="16.7" fill="#3d6083"/>
<rect x="725.5" y="1822.5" width="32.9" height="16.7" fill="#3871a3"/>
<rect x="758.1" y="1822.5" width="16.6" height="16.7" fill="#32a4f5"/>
<rect x="774.4" y="1822.5" width="16.6" height="16.7" fill="#3d6083"/>
<rect x="790.7" y="1822.5" width="32.9" height="16.7" fill="#32a4f5"/>
<rect x="823.3" y="1822.5" width="49.2" height="16.7" fill="#3080be"/>
<rect x="872.2" y="1822.5" width="16.6" height="16.7" fill="#3871a3"/>
<rect x="888.5" y="1822.5" width="16.6" height="16.7" fill="#32a4f5"/>
<rect x="904.8" y="1822.5" width="16.6" height="16.7" fill="#2b9ae8"/>
<rect x="921.1" y="1822.5" width="16.6" height="16.7" fill="#2b8ed5"/>
<rect x="937.4" y="1822.5" width="16.6" height="16.7" fill="#32a4f5"/>
<rect x="953.7" y="1822.5" width="16.6" height="16.7" fill="#2b9ae8"/>
<rect x="970.0" y="1822.5" width="16.6" height="16.7" fill="#32a4f5"/>
<rect x="986.3" y="1822.5" width="16.6" height="16.7" fill="#3080be"/>
<rect x="1002.6" y="1822.5" width="16.6" height="16.7" fill="#8cbcf2"/>
<rect x="1018.9" y="1822.5" width="16.6" height="16.7" fill="#32a4f5"/>
<rect x="1035.2" y="1822.5" width="32.9" height="16.7" fill="#2b9ae8"/>
<rect x="1067.8" y="1822.5" width="16.6" height="16.7" fill="#65b0f5"/>
<rect x="1084.1" y="1822.5" width="16.6" height="16.7" fill="#8cbcf2"/>
<rect x="285.4" y="1838.9" width="16.6" height="16.6" fill="#a6c6ef"/>
<rect x="301.7" y="1838.9" width="49.2" height="16.6" fill="#2b9ae8"/>
<rect x="350.6" y="1838.9" width="16.6" height="16.6" fill="#32a4f5"/>
<rect x="366.9" y="1838.9" width="16.6" height="16.6" fill="#2b8ed5"/>
<rect x="383.2" y="1838.9" width="16.6" height="16.6" fill="#32a4f5"/>
<rect x="399.5" y="1838.9" width="16.6" height="16.6" fill="#2b9ae8"/>
<rect x="415.8" y="1838.9" width="16.6" height="16.6" fill="#3080be"/>
<rect x="432.1" y="1838.9" width="16.6" height="16.6" fill="#8cbcf2"/>
<rect x="448.4" y="1838.9" width="16.6" height="16.6" fill="#2b8ed5"/>
<rect x="464.7" y="1838.9" width="32.9" height="16.6" fill="#3080be"/>
<rect x="497.3" y="1838.9" width="16.6" height="16.6" fill="#32a4f5"/>
<rect x="513.6" y="1838.9" width="16.6" height="16.6" fill="#3871a3"/>
<rect x="529.9" y="1838.9" width="32.9" height="16.6" fill="#2b8ed5"/>
<rect x="562.5" y="1838.9" width="16.6" height="16.6" fill="#3080be"/>
<rect x="578.8" y="1838.9" width="32.9" height="16.6" fill="#32a4f5"/>
<rect x="611.4" y="1838.9" width="16.6" height="16.6" fill="#2b8ed5"/>
<rect x="627.7" y="1838.9" width="16.6" height="16.6" fill="#3080be"/>
<rect x="644.0" y="1838.9" width="16.6" height="16.6" fill="#3d6083"/>
<rect x="660.3" y="1838.9" width="16.6" height="16.6" fill="#3871a3"/>
<rect x="676.6" y="1838.9" width="16.6" height="16.6" fill="#3d6083"/>
<rect x="692.9" y="1838.9" width="16.6" height="16.6" fill="#3080be"/>
<rect x="709.2" y="1838.9" width="32.9" height="16.6" fill="#2b8ed5"/>
<rect x="741.8" y="1838.9" width="16.6" height="16.6" fill="#3d6083"/>
<rect x="758.1" y="1838.9" width="16.6" height="16.6" fill="#3080be"/>
<rect x="774.4" y="1838.9" width="16.6" height="16.6" fill="#2b8ed5"/>
<rect x="790.7" y="1838.9" width="32.9" height="16.6" fill="#32a4f5"/>
<rect x="823.3" y="1838.9" width="16.6" height="16.6" fill="#65b0f5"/>
<rect x="839.6" y="1838.9" width="16.6" height="16.6" fill="#3080be"/>
<rect x="855.9" y="1838.9" width="32.9" height="16.6" fill="#2b9ae8"/>
<rect x="888.5" y="1838.9" width="16.6" height="16.6" fill="#32a4f5"/>
<rect x="904.8" y="1838.9" width="16.6" height="16.6" fill="#2b9ae8"/>
<rect x="921.1" y="1838.9" width="32.9" height="16.6" fill="#2b8ed5"/>
<rect x="953.7" y="1838.9" width="16.6" height="16.6" fill="#32a4f5"/>
<rect x="970.0" y="1838.9" width="16.6" height="16.6" fill="#2b8ed5"/>
<rect x="986.3" y="1838.9" width="98.1" height="16.6" fill="#2b9ae8"/>
<rect x="1084.1" y="1838.9" width="16.6" height="16.6" fill="#a6c6ef"/>
<rect x="285.4" y="1855.2" width="16.6" height="16.7" fill="#a6c6ef"/>
<rect x="301.7" y="1855.2" width="16.6" height="16.7" fill="#65b0f5"/>
<rect x="318.0" y="1855.2" width="16.6" height="16.7" fill="#2b9ae8"/>
<rect x="334.3" y="1855.2" width="16.6" height="16.7" fill="#65b0f5"/>
<rect x="350.6" y="1855.2" width="16.6" height="16.7" fill="#32a4f5"/>
<rect x="366.9" y="1855.2" width="16.6" height="16.7" fill="#8cbcf2"/>
<rect x="383.2" y="1855.2" width="16.6" height="16.7" fill="#32a4f5"/>
<rect x="399.5" y="1855.2" width="32.9" height="16.7" fill="#2b8ed5"/>
<rect x="432.1" y="1855.2" width="32.9" height="16.7" fill="#2b9ae8"/>
<rect x="464.7" y="1855.2" width="16.6" height="16.7" fill="#32a4f5"/>
<rect x="481.0" y="1855.2" width="32.9" height="16.7" fill="#2b9ae8"/>
<rect x="513.6" y="1855.2" width="16.6" height="16.7" fill="#2b8ed5"/>
<rect x="529.9" y="1855.2" width="16.6" height="16.7" fill="#32a4f5"/>
<rect x="546.2" y="1855.2" width="16.6" height="16.7" fill="#2b9ae8"/>
<rect x="562.5" y="1855.2" width="32.9" height="16.7" fill="#3080be"/>
<rect x="595.1" y="1855.2" width="16.6" height="16.7" fill="#2b8ed5"/>
<rect x="611.4" y="1855.2" width="16.6" height="16.7" fill="#3d6083"/>
<rect x="627.7" y="1855.2" width="16.6" height="16.7" fill="#2b9ae8"/>
<rect x="644.0" y="1855.2" width="32.9" height="16.7" fill="#3d6083"/>
<rect x="676.6" y="1855.2" width="32.9" height="16.7" fill="#2b8ed5"/>
<rect x="709.2" y="1855.2" width="32.9" height="16.7" fill="#3080be"/>
<rect x="741.8" y="1855.2" width="16.6" height="16.7" fill="#3d6083"/>
<rect x="758.1" y="1855.2" width="49.2" height="16.7" fill="#3080be"/>
<rect x="807.0" y="1855.2" width="16.6" height="16.7" fill="#32a4f5"/>
<rect x="823.3" y="1855.2" width="16.6" height="16.7" fill="#2b8ed5"/>
<rect x="839.6" y="1855.2" width="32.9" height="16.7" fill="#3080be"/>
<rect x="872.2" y="1855.2" width="49.2" height="16.7" fill="#2b8ed5"/>
<rect x="921.1" y="1855.2" width="16.6" height="16.7" fill="#32a4f5"/>
<rect x="937.4" y="1855.2" width="16.6" height="16.7" fill="#a6c6ef"/>
<rect x="953.7" y="1855.2" width="16.6" height="16.7" fill="#2b8ed5"/>
<rect x="970.0" y="1855.2" width="16.6" height="16.7" fill="#2b9ae8"/>
<rect x="986.3" y="1855.2" width="16.6" height="16.7" fill="#2b8ed5"/>
<rect x="1002.6" y="1855.2" width="16.6" height="16.7" fill="#3080be"/>
<rect x="1018.9" y="1855.2" width="32.9" height="16.7" fill="#8cbcf2"/>
<rect x="1051.5" y="1855.2" width="16.6" height="16.7" fill="#2b9ae8"/>
<rect x="1067.8" y="1855.2" width="16.6" height="16.7" fill="#8cbcf2"/>
<rect x="1084.1" y="1855.2" width="16.6" height="16.7" fill="#a6c6ef"/>
<rect x="285.4" y="1871.6" width="16.6" height="16.7" fill="#a6c6ef"/>
<rect x="301.7" y="1871.6" width="16.6" height="16.7" fill="#65b0f5"/>
<rect x="318.0" y="1871.6" width="16.6" height="16.7" fill="#2b9ae8"/>
<rect x="334.3" y="1871.6" width="16.6" height="16.7" fill="#65b0f5"/>
<rect x="350.6" y="1871.6" width="16.6" height="16.7" fill="#a6c6ef"/>
<rect x="366.9" y="1871.6" width="16.6" height="16.7" fill="#3080be"/>
<rect x="383.2" y="1871.6" width="16.6" height="16.7" fill="#2b8ed5"/>
<rect x="399.5" y="1871.6" width="16.6" height="16.7" fill="#3080be"/>
<rect x="415.8" y="1871.6" width="16.6" height="16.7" fill="#32a4f5"/>
<rect x="432.1" y="1871.6" width="98.1" height="16.7" fill="#2b8ed5"/>
<rect x="529.9" y="1871.6" width="16.6" height="16.7" fill="#3871a3"/>
<rect x="546.2" y="1871.6" width="16.6" height="16.7" fill="#2b8ed5"/>
<rect x="562.5" y="1871.6" width="32.9" height="16.7" fill="#32a4f5"/>
<rect x="595.1" y="1871.6" width="16.6" height="16.7" fill="#3d6083"/>
<rect x="611.4" y="1871.6" width="16.6" height="16.7" fill="#2b9ae8"/>
<rect x="627.7" y="1871.6" width="32.9" height="16.7" fill="#2b8ed5"/>
<rect x="660.3" y="1871.6" width="16.6" height="16.7" fill="#2b9ae8"/>
<rect x="676.6" y="1871.6" width="16.6" height="16.7" fill="#3d6083"/>
<rect x="692.9" y="1871.6" width="16.6" height="16.7" fill="#3871a3"/>
<rect x="709.2" y="1871.6" width="32.9" height="16.7" fill="#3080be"/>
<rect x="741.8" y="1871.6" width="16.6" height="16.7" fill="#3d6083"/>
<rect x="758.1" y="1871.6" width="16.6" height="16.7" fill="#2b9ae8"/>
<rect x="774.4" y="1871.6" width="16.6" height="16.7" fill="#32a4f5"/>
<rect x="790.7" y="1871.6" width="81.8" height="16.7" fill="#3080be"/>
<rect x="872.2" y="1871.6" width="32.9" height="16.7" fill="#3871a3"/>
<rect x="904.8" y="1871.6" width="16.6" height="16.7" fill="#2b9ae8"/>
<rect x="921.1" y="1871.6" width="16.6" height="16.7" fill="#3080be"/>
<rect x="937.4" y="1871.6" width="32.9" height="16.7" fill="#2b8ed5"/>
<rect x="970.0" y="1871.6" width="16.6" height="16.7" fill="#3080be"/>
<rect x="986.3" y="1871.6" width="32.9" height="16.7" fill="#2b8ed5"/>
<rect x="1018.9" y="1871.6" width="16.6" height="16.7" fill="#8cbcf2"/>
<rect x="1035.2" y="1871.6" width="16.6" height="16.7" fill="#32a4f5"/>
<rect x="1051.5" y="1871.6" width="16.6" height="16.7" fill="#3080be"/>
<rect x="1067.8" y="1871.6" width="16.6" height="16.7" fill="#2b9ae8"/>
<rect x="1084.1" y="1871.6" width="16.6" height="16.7" fill="#65b0f5"/>
<rect x="285.4" y="1888.0" width="16.6" height="16.7" fill="#a6c6ef"/>
<rect x="301.7" y="1888.0" width="16.6" height="16.7" fill="#32a4f5"/>
<rect x="318.0" y="1888.0" width="16.6" height="16.7" fill="#65b0f5"/>
<rect x="334.3" y="1888.0" width="16.6" height="16.7" fill="#a6c6ef"/>
<rect x="350.6" y="1888.0" width="16.6" height="16.7" fill="#32a4f5"/>
<rect x="366.9" y="1888.0" width="16.6" height="16.7" fill="#8cbcf2"/>
<rect x="383.2" y="1888.0" width="16.6" height="16.7" fill="#32a4f5"/>
<rect x="399.5" y="1888.0" width="32.9" height="16.7" fill="#2b8ed5"/>
<rect x="432.1" y="1888.0" width="16.6" height="16.7" fill="#32a4f5"/>
<rect x="448.4" y="1888.0" width="16.6" height="16.7" fill="#2b9ae8"/>
<rect x="464.7" y="1888.0" width="16.6" height="16.7" fill="#3871a3"/>
<rect x="481.0" y="1888.0" width="16.6" height="16.7" fill="#32a4f5"/>
<rect x="497.3" y="1888.0" width="16.6" height="16.7" fill="#3871a3"/>
<rect x="513.6" y="1888.0" width="49.2" height="16.7" fill="#2b8ed5"/>
<rect x="562.5" y="1888.0" width="32.9" height="16.7" fill="#3d6083"/>
<rect x="595.1" y="1888.0" width="16.6" height="16.7" fill="#3080be"/>
<rect x="611.4" y="1888.0" width="49.2" height="16.7" fill="#2b8ed5"/>
<rect x="660.3" y="1888.0" width="16.6" height="16.7" fill="#3871a3"/>
<rect x="676.6" y="1888.0" width="16.6" height="16.7" fill="#2b9ae8"/>
<rect x="692.9" y="1888.0" width="16.6" height="16.7" fill="#3d6083"/>
<rect x="709.2" y="1888.0" width="32.9" height="16.7" fill="#3080be"/>
<rect x="741.8" y="1888.0" width="16.6" height="16.7" fill="#2b9ae8"/>
<rect x="758.1" y="1888.0" width="16.6" height="16.7" fill="#32a4f5"/>
<rect x="774.4" y="1888.0" width="16.6" height="16.7" fill="#3871a3"/>
<rect x="790.7" y="1888.0" width="16.6" height="16.7" fill="#2b9ae8"/>
<rect x="807.0" y="1888.0" width="16.6" height="16.7" fill="#3080be"/>
<rect x="823.3" y="1888.0" width="32.9" height="16.7" fill="#2b8ed5"/>
<rect x="855.9" y="1888.0" width="16.6" height="16.7" fill="#3d6083"/>
<rect x="872.2" y="1888.0" width="49.2" height="16.7" fill="#2b9ae8"/>
<rect x="921.1" y="1888.0" width="16.6" height="16.7" fill="#32a4f5"/>
<rect x="937.4" y="1888.0" width="16.6" height="16.7" fill="#2b8ed5"/>
<rect x="953.7" y="1888.0" width="16.6" height="16.7" fill="#3080be"/>
<rect x="970.0" y="1888.0" width="16.6" height="16.7" fill="#32a4f5"/>
<rect x="986.3" y="1888.0" width="16.6" height="16.7" fill="#8cbcf2"/>
<rect x="1002.6" y="1888.0" width="32.9" height="16.7" fill="#2b9ae8"/>
<rect x="1035.2" y="1888.0" width="16.6" height="16.7" fill="#8cbcf2"/>
<rect x="1051.5" y="1888.0" width="16.6" height="16.7" fill="#32a4f5"/>
<rect x="1067.8" y="1888.0" width="16.6" height="16.7" fill="#2b9ae8"/>
<rect x="1084.1" y="1888.0" width="16.6" height="16.7" fill="#65b0f5"/>
<rect x="285.4" y="1904.4" width="16.6" height="16.6" fill="#a6c6ef"/>
<rect x="301.7" y="1904.4" width="16.6" height="16.6" fill="#32a4f5"/>
<rect x="318.0" y="1904.4" width="16.6" height="16.6" fill="#65b0f5"/>
<rect x="334.3" y="1904.4" width="32.9" height="16.6" fill="#2b8ed5"/>
<rect x="366.9" y="1904.4" width="16.6" height="16.6" fill="#8cbcf2"/>
<rect x="383.2" y="1904.4" width="49.2" height="16.6" fill="#2b9ae8"/>
<rect x="432.1" y="1904.4" width="32.9" height="16.6" fill="#3080be"/>
<rect x="464.7" y="1904.4" width="16.6" height="16.6" fill="#8cbcf2"/>
<rect x="481.0" y="1904.4" width="32.9" height="16.6" fill="#32a4f5"/>
<rect x="513.6" y="1904.4" width="16.6" height="16.6" fill="#8cbcf2"/>
<rect x="529.9" y="1904.4" width="16.6" height="16.6" fill="#3871a3"/>
<rect x="546.2" y="1904.4" width="16.6" height="16.6" fill="#3d546e"/>
<rect x="562.5" y="1904.4" width="16.6" height="16.6" fill="#2b8ed5"/>
<rect x="578.8" y="1904.4" width="16.6" height="16.6" fill="#32a4f5"/>
<rect x="595.1" y="1904.4" width="32.9" height="16.6" fill="#3080be"/>
<rect x="627.7" y="1904.4" width="16.6" height="16.6" fill="#32a4f5"/>
<rect x="644.0" y="1904.4" width="16.6" height="16.6" fill="#2b9ae8"/>
<rect x="660.3" y="1904.4" width="16.6" height="16.6" fill="#3871a3"/>
<rect x="676.6" y="1904.4" width="16.6" height="16.6" fill="#3080be"/>
<rect x="692.9" y="1904.4" width="16.6" height="16.6" fill="#32a4f5"/>
<rect x="709.2" y="1904.4" width="32.9" height="16.6" fill="#3080be"/>
<rect x="741.8" y="1904.4" width="16.6" height="16.6" fill="#2b9ae8"/>
<rect x="758.1" y="1904.4" width="16.6" height="16.6" fill="#32a4f5"/>
<rect x="774.4" y="1904.4" width="16.6" height="16.6" fill="#2b8ed5"/>
<rect x="790.7" y="1904.4" width="16.6" height="16.6" fill="#3d6083"/>
<rect x="807.0" y="1904.4" width="32.9" height="16.6" fill="#2b9ae8"/>
<rect x="839.6" y="1904.4" width="32.9" height="16.6" fill="#2b8ed5"/>
<rect x="872.2" y="1904.4" width="16.6" height="16.6" fill="#32a4f5"/>
<rect x="888.5" y="1904.4" width="16.6" height="16.6" fill="#2b8ed5"/>
<rect x="904.8" y="1904.4" width="32.9" height="16.6" fill="#32a4f5"/>
<rect x="937.4" y="1904.4" width="16.6" height="16.6" fill="#2b8ed5"/>
<rect x="953.7" y="1904.4" width="16.6" height="16.6" fill="#2b9ae8"/>
<rect x="970.0" y="1904.4" width="16.6" height="16.6" fill="#3080be"/>
<rect x="986.3" y="1904.4" width="32.9" height="16.6" fill="#32a4f5"/>
<rect x="1018.9" y="1904.4" width="16.6" height="16.6" fill="#8cbcf2"/>
<rect x="1035.2" y="1904.4" width="16.6" height="16.6" fill="#3080be"/>
<rect x="1051.5" y="1904.4" width="16.6" height="16.6" fill="#32a4f5"/>
<rect x="1067.8" y="1904.4" width="16.6" height="16.6" fill="#2b9ae8"/>
<rect x="1084.1" y="1904.4" width="16.6" height="16.6" fill="#a6c6ef"/>
<rect x="285.4" y="1920.7" width="16.6" height="16.7" fill="#a6c6ef"/>
<rect x="301.7" y="1920.7" width="32.9" height="16.7" fill="#32a4f5"/>
<rect x="334.3" y="1920.7" width="32.9" height="16.7" fill="#2b9ae8"/>
<rect x="366.9" y="1920.7" width="16.6" height="16.7" fill="#32a4f5"/>
<rect x="383.2" y="1920.7" width="16.6" height="16.7" fill="#2b9ae8"/>
<rect x="399.5" y="1920.7" width="32.9" height="16.7" fill="#8cbcf2"/>
<rect x="432.1" y="1920.7" width="32.9" height="16.7" fill="#32a4f5"/>
<rect x="464.7" y="1920.7" width="49.2" height="16.7" fill="#3080be"/>
<rect x="513.6" y="1920.7" width="49.2" height="16.7" fill="#2b9ae8"/>
<rect x="562.5" y="1920.7" width="32.9" height="16.7" fill="#32a4f5"/>
<rect x="595.1" y="1920.7" width="32.9" height="16.7" fill="#2b8ed5"/>
<rect x="627.7" y="1920.7" width="16.6" height="16.7" fill="#32a4f5"/>
<rect x="644.0" y="1920.7" width="16.6" height="16.7" fill="#3d6083"/>
<rect x="660.3" y="1920.7" width="16.6" height="16.7" fill="#3080be"/>
<rect x="676.6" y="1920.7" width="16.6" height="16.7" fill="#2b9ae8"/>
<rect x="692.9" y="1920.7" width="49.2" height="16.7" fill="#3080be"/>
<rect x="741.8" y="1920.7" width="16.6" height="16.7" fill="#32a4f5"/>
<rect x="758.1" y="1920.7" width="32.9" height="16.7" fill="#3d6083"/>
<rect x="790.7" y="1920.7" width="16.6" height="16.7" fill="#2b9ae8"/>
<rect x="807.0" y="1920.7" width="16.6" height="16.7" fill="#3080be"/>
<rect x="823.3" y="1920.7" width="16.6" height="16.7" fill="#32a4f5"/>
<rect x="839.6" y="1920.7" width="16.6" height="16.7" fill="#2b8ed5"/>
<rect x="855.9" y="1920.7" width="16.6" height="16.7" fill="#32a4f5"/>
<rect x="872.2" y="1920.7" width="16.6" height="16.7" fill="#3080be"/>
<rect x="888.5" y="1920.7" width="32.9" height="16.7" fill="#32a4f5"/>
<rect x="921.1" y="1920.7" width="16.6" height="16.7" fill="#3871a3"/>
<rect x="937.4" y="1920.7" width="16.6" height="16.7" fill="#2b9ae8"/>
<rect x="953.7" y="1920.7" width="16.6" height="16.7" fill="#3080be"/>
<rect x="970.0" y="1920.7" width="16.6" height="16.7" fill="#2b9ae8"/>
<rect x="986.3" y="1920.7" width="16.6" height="16.7" fill="#32a4f5"/>
<rect x="1002.6" y="1920.7" width="16.6" height="16.7" fill="#2b9ae8"/>
<rect x="1018.9" y="1920.7" width="16.6" height="16.7" fill="#32a4f5"/>
<rect x="1035.2" y="1920.7" width="49.2" height="16.7" fill="#2b9ae8"/>
<rect x="1084.1" y="1920.7" width="16.6" height="16.7" fill="#8cbcf2"/>
<rect x="285.4" y="1937.1" width="16.6" height="16.7" fill="#a6c6ef"/>
<rect x="301.7" y="1937.1" width="65.5" height="16.7" fill="#32a4f5"/>
<rect x="366.9" y="1937.1" width="32.9" height="16.7" fill="#8cbcf2"/>
<rect x="399.5" y="1937.1" width="98.1" height="16.7" fill="#2b9ae8"/>
<rect x="497.3" y="1937.1" width="16.6" height="16.7" fill="#2b8ed5"/>
<rect x="513.6" y="1937.1" width="16.6" height="16.7" fill="#2b9ae8"/>
<rect x="529.9" y="1937.1" width="32.9" height="16.7" fill="#32a4f5"/>
<rect x="562.5" y="1937.1" width="16.6" height="16.7" fill="#3080be"/>
<rect x="578.8" y="1937.1" width="32.9" height="16.7" fill="#2b9ae8"/>
<rect x="611.4" y="1937.1" width="16.6" height="16.7" fill="#2b8ed5"/>
<rect x="627.7" y="1937.1" width="16.6" height="16.7" fill="#3080be"/>
<rect x="644.0" y="1937.1" width="16.6" height="16.7" fill="#3d6083"/>
<rect x="660.3" y="1937.1" width="16.6" height="16.7" fill="#32a4f5"/>
<rect x="676.6" y="1937.1" width="16.6" height="16.7" fill="#2b9ae8"/>
<rect x="692.9" y="1937.1" width="16.6" height="16.7" fill="#2b8ed5"/>
<rect x="709.2" y="1937.1" width="32.9" height="16.7" fill="#3d6083"/>
<rect x="741.8" y="1937.1" width="16.6" height="16.7" fill="#2b9ae8"/>
<rect x="758.1" y="1937.1" width="16.6" height="16.7" fill="#3080be"/>
<rect x="774.4" y="1937.1" width="16.6" height="16.7" fill="#2b8ed5"/>
<rect x="790.7" y="1937.1" width="16.6" height="16.7" fill="#3871a3"/>
<rect x="807.0" y="1937.1" width="16.6" height="16.7" fill="#2b8ed5"/>
<rect x="823.3" y="1937.1" width="16.6" height="16.7" fill="#3080be"/>
<rect x="839.6" y="1937.1" width="16.6" height="16.7" fill="#3871a3"/>
<rect x="855.9" y="1937.1" width="16.6" height="16.7" fill="#32a4f5"/>
<rect x="872.2" y="1937.1" width="16.6" height="16.7" fill="#3080be"/>
<rect x="888.5" y="1937.1" width="16.6" height="16.7" fill="#65b0f5"/>
<rect x="904.8" y="1937.1" width="16.6" height="16.7" fill="#2b8ed5"/>
<rect x="921.1" y="1937.1" width="16.6" height="16.7" fill="#32a4f5"/>
<rect x="937.4" y="1937.1" width="16.6" height="16.7" fill="#2b9ae8"/>
<rect x="953.7" y="1937.1" width="16.6" height="16.7" fill="#8cbcf2"/>
<rect x="970.0" y="1937.1" width="32.9" height="16.7" fill="#32a4f5"/>
<rect x="1002.6" y="1937.1" width="16.6" height="16.7" fill="#65b0f5"/>
<rect x="1018.9" y="1937.1" width="16.6" height="16.7" fill="#32a4f5"/>
<rect x="1035.2" y="1937.1" width="32.9" height="16.7" fill="#2b8ed5"/>
<rect x="1067.8" y="1937.1" width="32.9" height="16.7" fill="#8cbcf2"/>
<rect x="285.4" y="1953.5" width="16.6" height="16.7" fill="#a6c6ef"/>
<rect x="301.7" y="1953.5" width="16.6" height="16.7" fill="#8cbcf2"/>
<rect x="318.0" y="1953.5" width="32.9" height="16.7" fill="#65b0f5"/>
<rect x="350.6" y="1953.5" width="16.6" height="16.7" fill="#32a4f5"/>
<rect x="366.9" y="1953.5" width="81.8" height="16.7" fill="#8cbcf2"/>
<rect x="448.4" y="1953.5" width="16.6" height="16.7" fill="#32a4f5"/>
<rect x="464.7" y="1953.5" width="32.9" height="16.7" fill="#2b9ae8"/>
<rect x="497.3" y="1953.5" width="16.6" height="16.7" fill="#32a4f5"/>
<rect x="513.6" y="1953.5" width="16.6" height="16.7" fill="#3080be"/>
<rect x="529.9" y="1953.5" width="32.9" height="16.7" fill="#2b9ae8"/>
<rect x="562.5" y="1953.5" width="16.6" height="16.7" fill="#32a4f5"/>
<rect x="578.8" y="1953.5" width="16.6" height="16.7" fill="#3d6083"/>
<rect x="595.1" y="1953.5" width="16.6" height="16.7" fill="#2b8ed5"/>
<rect x="611.4" y="1953.5" width="16.6" height="16.7" fill="#32a4f5"/>
<rect x="627.7" y="1953.5" width="16.6" height="16.7" fill="#3d6083"/>
<rect x="644.0" y="1953.5" width="65.5" height="16.7" fill="#3080be"/>
<rect x="709.2" y="1953.5" width="49.2" height="16.7" fill="#2b8ed5"/>
<rect x="758.1" y="1953.5" width="16.6" height="16.7" fill="#3080be"/>
<rect x="774.4" y="1953.5" width="16.6" height="16.7" fill="#3d6083"/>
<rect x="790.7" y="1953.5" width="49.2" height="16.7" fill="#2b9ae8"/>
<rect x="839.6" y="1953.5" width="16.6" height="16.7" fill="#3080be"/>
<rect x="855.9" y="1953.5" width="16.6" height="16.7" fill="#2b9ae8"/>
<rect x="872.2" y="1953.5" width="98.1" height="16.7" fill="#32a4f5"/>
<rect x="970.0" y="1953.5" width="32.9" height="16.7" fill="#3080be"/>
<rect x="1002.6" y="1953.5" width="16.6" height="16.7" fill="#a6c6ef"/>
<rect x="1018.9" y="1953.5" width="65.5" height="16.7" fill="#8cbcf2"/>
<rect x="1084.1" y="1953.5" width="16.6" height="16.7" fill="#a6c6ef"/>
<rect x="285.4" y="1969.9" width="16.6" height="16.6" fill="#a6c6ef"/>
<rect x="301.7" y="1969.9" width="16.6" height="16.6" fill="#8cbcf2"/>
<rect x="318.0" y="1969.9" width="16.6" height="16.6" fill="#a6c6ef"/>
<rect x="334.3" y="1969.9" width="16.6" height="16.6" fill="#8cbcf2"/>
<rect x="350.6" y="1969.9" width="16.6" height="16.6" fill="#2b9ae8"/>
<rect x="366.9" y="1969.9" width="32.9" height="16.6" fill="#65b0f5"/>
<rect x="399.5" y="1969.9" width="32.9" height="16.6" fill="#2b9ae8"/>
<rect x="432.1" y="1969.9" width="16.6" height="16.6" fill="#8cbcf2"/>
<rect x="448.4" y="1969.9" width="16.6" height="16.6" fill="#32a4f5"/>
<rect x="464.7" y="1969.9" width="16.6" height="16.6" fill="#a6c6ef"/>
<rect x="481.0" y="1969.9" width="16.6" height="16.6" fill="#2b9ae8"/>
<rect x="497.3" y="1969.9" width="49.2" height="16.6" fill="#32a4f5"/>
<rect x="546.2" y="1969.9" width="16.6" height="16.6" fill="#2b8ed5"/>
<rect x="562.5" y="1969.9" width="16.6" height="16.6" fill="#32a4f5"/>
<rect x="578.8" y="1969.9" width="32.9" height="16.6" fill="#2b9ae8"/>
<rect x="611.4" y="1969.9" width="16.6" height="16.6" fill="#3080be"/>
<rect x="627.7" y="1969.9" width="49.2" height="16.6" fill="#65b0f5"/>
<rect x="676.6" y="1969.9" width="32.9" height="16.6" fill="#2b8ed5"/>
<rect x="709.2" y="1969.9" width="16.6" height="16.6" fill="#2b9ae8"/>
<rect x="725.5" y="1969.9" width="32.9" height="16.6" fill="#3871a3"/>
<rect x="758.1" y="1969.9" width="16.6" height="16.6" fill="#32a4f5"/>
<rect x="774.4" y="1969.9" width="49.2" height="16.6" fill="#2b8ed5"/>
<rect x="823.3" y="1969.9" width="16.6" height="16.6" fill="#3871a3"/>
<rect x="839.6" y="1969.9" width="16.6" height="16.6" fill="#32a4f5"/>
<rect x="855.9" y="1969.9" width="16.6" height="16.6" fill="#2b8ed5"/>
<rect x="872.2" y="1969.9" width="16.6" height="16.6" fill="#3080be"/>
<rect x="888.5" y="1969.9" width="16.6" height="16.6" fill="#2b8ed5"/>
<rect x="904.8" y="1969.9" width="49.2" height="16.6" fill="#32a4f5"/>
<rect x="953.7" y="1969.9" width="16.6" height="16.6" fill="#65b0f5"/>
<rect x="970.0" y="1969.9" width="16.6" height="16.6" fill="#32a4f5"/>
<rect x="986.3" y="1969.9" width="16.6" height="16.6" fill="#8cbcf2"/>
<rect x="1002.6" y="1969.9" width="32.9" height="16.6" fill="#32a4f5"/>
<rect x="1035.2" y="1969.9" width="49.2" height="16.6" fill="#8cbcf2"/>
<rect x="1084.1" y="1969.9" width="16.6" height="16.6" fill="#a6c6ef"/>
<rect x="301.7" y="1986.2" width="32.9" height="16.7" fill="#32a4f5"/>
<rect x="334.3" y="1986.2" width="16.6" height="16.7" fill="#65b0f5"/>
<rect x="350.6" y="1986.2" width="16.6" height="16.7" fill="#8cbcf2"/>
<rect x="366.9" y="1986.2" width="16.6" height="16.7" fill="#32a4f5"/>
<rect x="383.2" y="1986.2" width="16.6" height="16.7" fill="#8cbcf2"/>
<rect x="399.5" y="1986.2" width="16.6" height="16.7" fill="#32a4f5"/>
<rect x="415.8" y="1986.2" width="32.9" height="16.7" fill="#8cbcf2"/>
<rect x="448.4" y="1986.2" width="16.6" height="16.7" fill="#32a4f5"/>
<rect x="464.7" y="1986.2" width="16.6" height="16.7" fill="#2b9ae8"/>
<rect x="481.0" y="1986.2" width="16.6" height="16.7" fill="#65b0f5"/>
<rect x="497.3" y="1986.2" width="49.2" height="16.7" fill="#32a4f5"/>
<rect x="546.2" y="1986.2" width="16.6" height="16.7" fill="#2b9ae8"/>
<rect x="562.5" y="1986.2" width="16.6" height="16.7" fill="#2b8ed5"/>
<rect x="578.8" y="1986.2" width="16.6" height="16.7" fill="#65b0f5"/>
<rect x="595.1" y="1986.2" width="32.9" height="16.7" fill="#3080be"/>
<rect x="627.7" y="1986.2" width="16.6" height="16.7" fill="#2b9ae8"/>
<rect x="644.0" y="1986.2" width="16.6" height="16.7" fill="#3871a3"/>
<rect x="660.3" y="1986.2" width="32.9" height="16.7" fill="#2b8ed5"/>
<rect x="692.9" y="1986.2" width="32.9" height="16.7" fill="#32a4f5"/>
<rect x="725.5" y="1986.2" width="16.6" height="16.7" fill="#2b8ed5"/>
<rect x="741.8" y="1986.2" width="32.9" height="16.7" fill="#2b9ae8"/>
<rect x="774.4" y="1986.2" width="16.6" height="16.7" fill="#3871a3"/>
<rect x="790.7" y="1986.2" width="32.9" height="16.7" fill="#32a4f5"/>
<rect x="823.3" y="1986.2" width="16.6" height="16.7" fill="#2b9ae8"/>
<rect x="839.6" y="1986.2" width="16.6" height="16.7" fill="#2b8ed5"/>
<rect x="855.9" y="1986.2" width="32.9" height="16.7" fill="#2b9ae8"/>
<rect x="888.5" y="1986.2" width="16.6" height="16.7" fill="#2b8ed5"/>
<rect x="904.8" y="1986.2" width="16.6" height="16.7" fill="#32a4f5"/>
<rect x="921.1" y="1986.2" width="16.6" height="16.7" fill="#2b8ed5"/>
<rect x="937.4" y="1986.2" width="32.9" height="16.7" fill="#32a4f5"/>
<rect x="970.0" y="1986.2" width="49.2" height="16.7" fill="#8cbcf2"/>
<rect x="1018.9" y="1986.2" width="16.6" height="16.7" fill="#a6c6ef"/>
<rect x="1035.2" y="1986.2" width="32.9" height="16.7" fill="#32a4f5"/>
<rect x="1067.8" y="1986.2" width="16.6" height="16.7" fill="#8cbcf2"/>
<rect x="1084.1" y="1986.2" width="16.6" height="16.7" fill="#a6c6ef"/>
<rect x="285.4" y="2002.6" width="16.6" height="16.7" fill="#a6c6ef"/>
<rect x="301.7" y="2002.6" width="32.9" height="16.7" fill="#8cbcf2"/>
<rect x="334.3" y="2002.6" width="49.2" height="16.7" fill="#a6c6ef"/>
<rect x="383.2" y="2002.6" width="16.6" height="16.7" fill="#65b0f5"/>
<rect x="399.5" y="2002.6" width="16.6" height="16.7" fill="#32a4f5"/>
<rect x="415.8" y="2002.6" width="32.9" height="16.7" fill="#a6c6ef"/>
<rect x="448.4" y="2002.6" width="16.6" height="16.7" fill="#3871a3"/>
<rect x="464.7" y="2002.6" width="16.6" height="16.7" fill="#65b0f5"/>
<rect x="481.0" y="2002.6" width="16.6" height="16.7" fill="#a6c6ef"/>
<rect x="497.3" y="2002.6" width="49.2" height="16.7" fill="#2b9ae8"/>
<rect x="546.2" y="2002.6" width="32.9" height="16.7" fill="#32a4f5"/>
<rect x="578.8" y="2002.6" width="16.6" height="16.7" fill="#3871a3"/>
<rect x="595.1" y="2002.6" width="16.6" height="16.7" fill="#32a4f5"/>
<rect x="611.4" y="2002.6" width="32.9" height="16.7" fill="#2b9ae8"/>
<rect x="644.0" y="2002.6" width="16.6" height="16.7" fill="#32a4f5"/>
<rect x="660.3" y="2002.6" width="16.6" height="16.7" fill="#3871a3"/>
<rect x="676.6" y="2002.6" width="16.6" height="16.7" fill="#32a4f5"/>
<rect x="692.9" y="2002.6" width="32.9" height="16.7" fill="#3d6083"/>
<rect x="725.5" y="2002.6" width="16.6" height="16.7" fill="#32a4f5"/>
<rect x="741.8" y="2002.6" width="32.9" height="16.7" fill="#2b9ae8"/>
<rect x="774.4" y="2002.6" width="16.6" height="16.7" fill="#32a4f5"/>
<rect x="790.7" y="2002.6" width="16.6" height="16.7" fill="#3080be"/>
<rect x="807.0" y="2002.6" width="32.9" height="16.7" fill="#2b9ae8"/>
<rect x="839.6" y="2002.6" width="16.6" height="16.7" fill="#32a4f5"/>
<rect x="855.9" y="2002.6" width="16.6" height="16.7" fill="#3871a3"/>
<rect x="872.2" y="2002.6" width="32.9" height="16.7" fill="#32a4f5"/>
<rect x="904.8" y="2002.6" width="16.6" height="16.7" fill="#3871a3"/>
<rect x="921.1" y="2002.6" width="49.2" height="16.7" fill="#2b9ae8"/>
<rect x="970.0" y="2002.6" width="16.6" height="16.7" fill="#32a4f5"/>
<rect x="986.3" y="2002.6" width="16.6" height="16.7" fill="#65b0f5"/>
<rect x="1002.6" y="2002.6" width="49.2" height="16.7" fill="#32a4f5"/>
<rect x="1051.5" y="2002.6" width="16.6" height="16.7" fill="#8cbcf2"/>
<rect x="1067.8" y="2002.6" width="16.6" height="16.7" fill="#32a4f5"/>
<rect x="1084.1" y="2002.6" width="16.6" height="16.7" fill="#a6c6ef"/>
<rect x="285.4" y="2019.0" width="32.9" height="16.7" fill="#a6c6ef"/>
<rect x="318.0" y="2019.0" width="16.6" height="16.7" fill="#8cbcf2"/>
<rect x="334.3" y="2019.0" width="16.6" height="16.7" fill="#a6c6ef"/>
<rect x="350.6" y="2019.0" width="65.5" height="16.7" fill="#65b0f5"/>
<rect x="415.8" y="2019.0" width="16.6" height="16.7" fill="#8cbcf2"/>
<rect x="432.1" y="2019.0" width="81.8" height="16.7" fill="#32a4f5"/>
<rect x="513.6" y="2019.0" width="16.6" height="16.7" fill="#a6c6ef"/>
<rect x="529.9" y="2019.0" width="32.9" height="16.7" fill="#32a4f5"/>
<rect x="562.5" y="2019.0" width="16.6" height="16.7" fill="#3080be"/>
<rect x="578.8" y="2019.0" width="16.6" height="16.7" fill="#2b9ae8"/>
<rect x="595.1" y="2019.0" width="16.6" height="16.7" fill="#3871a3"/>
<rect x="611.4" y="2019.0" width="16.6" height="16.7" fill="#32a4f5"/>
<rect x="627.7" y="2019.0" width="16.6" height="16.7" fill="#2b8ed5"/>
<rect x="644.0" y="2019.0" width="16.6" height="16.7" fill="#3d6083"/>
<rect x="660.3" y="2019.0" width="16.6" height="16.7" fill="#32a4f5"/>
<rect x="676.6" y="2019.0" width="16.6" height="16.7" fill="#2b8ed5"/>
<rect x="692.9" y="2019.0" width="16.6" height="16.7" fill="#32a4f5"/>
<rect x="709.2" y="2019.0" width="16.6" height="16.7" fill="#2b9ae8"/>
<rect x="725.5" y="2019.0" width="16.6" height="16.7" fill="#32a4f5"/>
<rect x="741.8" y="2019.0" width="16.6" height="16.7" fill="#3d6083"/>
<rect x="758.1" y="2019.0" width="32.9" height="16.7" fill="#3080be"/>
<rect x="790.7" y="2019.0" width="65.5" height="16.7" fill="#2b8ed5"/>
<rect x="855.9" y="2019.0" width="16.6" height="16.7" fill="#3d6083"/>
<rect x="872.2" y="2019.0" width="16.6" height="16.7" fill="#65b0f5"/>
<rect x="888.5" y="2019.0" width="49.2" height="16.7" fill="#2b8ed5"/>
<rect x="937.4" y="2019.0" width="16.6" height="16.7" fill="#32a4f5"/>
<rect x="953.7" y="2019.0" width="16.6" height="16.7" fill="#65b0f5"/>
<rect x="970.0" y="2019.0" width="16.6" height="16.7" fill="#2b9ae8"/>
<rect x="986.3" y="2019.0" width="16.6" height="16.7" fill="#8cbcf2"/>
<rect x="1002.6" y="2019.0" width="16.6" height="16.7" fill="#32a4f5"/>
<rect x="1018.9" y="2019.0" width="16.6" height="16.7" fill="#8cbcf2"/>
<rect x="1035.2" y="2019.0" width="32.9" height="16.7" fill="#32a4f5"/>
<rect x="1067.8" y="2019.0" width="16.6" height="16.7" fill="#8cbcf2"/>
<rect x="1084.1" y="2019.0" width="16.6" height="16.7" fill="#a6c6ef"/>
<rect x="285.4" y="2035.4" width="65.5" height="16.6" fill="#8cbcf2"/>
<rect x="350.6" y="2035.4" width="16.6" height="16.6" fill="#65b0f5"/>
<rect x="366.9" y="2035.4" width="16.6" height="16.6" fill="#8cbcf2"/>
<rect x="383.2" y="2035.4" width="16.6" height="16.6" fill="#2b9ae8"/>
<rect x="399.5" y="2035.4" width="16.6" height="16.6" fill="#65b0f5"/>
<rect x="415.8" y="2035.4" width="16.6" height="16.6" fill="#8cbcf2"/>
<rect x="432.1" y="2035.4" width="16.6" height="16.6" fill="#a6c6ef"/>
<rect x="448.4" y="2035.4" width="32.9" height="16.6" fill="#32a4f5"/>
<rect x="481.0" y="2035.4" width="81.8" height="16.6" fill="#2b8ed5"/>
<rect x="562.5" y="2035.4" width="16.6" height="16.6" fill="#32a4f5"/>
<rect x="578.8" y="2035.4" width="16.6" height="16.6" fill="#2b9ae8"/>
<rect x="595.1" y="2035.4" width="32.9" height="16.6" fill="#32a4f5"/>
<rect x="627.7" y="2035.4" width="32.9" height="16.6" fill="#3080be"/>
<rect x="660.3" y="2035.4" width="32.9" height="16.6" fill="#2b8ed5"/>
<rect x="692.9" y="2035.4" width="16.6" height="16.6" fill="#32a4f5"/>
<rect x="709.2" y="2035.4" width="32.9" height="16.6" fill="#3080be"/>
<rect x="741.8" y="2035.4" width="16.6" height="16.6" fill="#2b8ed5"/>
<rect x="758.1" y="2035.4" width="32.9" height="16.6" fill="#3080be"/>
<rect x="790.7" y="2035.4" width="16.6" height="16.6" fill="#65b0f5"/>
<rect x="807.0" y="2035.4" width="16.6" height="16.6" fill="#32a4f5"/>
<rect x="823.3" y="2035.4" width="16.6" height="16.6" fill="#2b8ed5"/>
<rect x="839.6" y="2035.4" width="16.6" height="16.6" fill="#32a4f5"/>
<rect x="855.9" y="2035.4" width="16.6" height="16.6" fill="#8cbcf2"/>
<rect x="872.2" y="2035.4" width="32.9" height="16.6" fill="#3080be"/>
<rect x="904.8" y="2035.4" width="32.9" height="16.6" fill="#32a4f5"/>
<rect x="937.4" y="2035.4" width="65.5" height="16.6" fill="#2b9ae8"/>
<rect x="1002.6" y="2035.4" width="16.6" height="16.6" fill="#32a4f5"/>
<rect x="1018.9" y="2035.4" width="16.6" height="16.6" fill="#8cbcf2"/>
<rect x="1035.2" y="2035.4" width="32.9" height="16.6" fill="#32a4f5"/>
<rect x="1067.8" y="2035.4" width="16.6" height="16.6" fill="#2b9ae8"/>
<rect x="1084.1" y="2035.4" width="16.6" height="16.6" fill="#a6c6ef"/>
<rect x="301.7" y="2051.7" width="16.6" height="16.7" fill="#65b0f5"/>
<rect x="318.0" y="2051.7" width="32.9" height="16.7" fill="#8cbcf2"/>
<rect x="350.6" y="2051.7" width="32.9" height="16.7" fill="#65b0f5"/>
<rect x="383.2" y="2051.7" width="49.2" height="16.7" fill="#8cbcf2"/>
<rect x="432.1" y="2051.7" width="32.9" height="16.7" fill="#32a4f5"/>
<rect x="464.7" y="2051.7" width="32.9" height="16.7" fill="#8cbcf2"/>
<rect x="497.3" y="2051.7" width="16.6" height="16.7" fill="#a6c6ef"/>
<rect x="513.6" y="2051.7" width="16.6" height="16.7" fill="#65b0f5"/>
<rect x="529.9" y="2051.7" width="16.6" height="16.7" fill="#2b9ae8"/>
<rect x="546.2" y="2051.7" width="32.9" height="16.7" fill="#a6c6ef"/>
<rect x="578.8" y="2051.7" width="16.6" height="16.7" fill="#2b9ae8"/>
<rect x="595.1" y="2051.7" width="16.6" height="16.7" fill="#3871a3"/>
<rect x="611.4" y="2051.7" width="32.9" height="16.7" fill="#2b9ae8"/>
<rect x="644.0" y="2051.7" width="16.6" height="16.7" fill="#32a4f5"/>
<rect x="660.3" y="2051.7" width="16.6" height="16.7" fill="#2b9ae8"/>
<rect x="676.6" y="2051.7" width="16.6" height="16.7" fill="#32a4f5"/>
<rect x="692.9" y="2051.7" width="16.6" height="16.7" fill="#3871a3"/>
<rect x="709.2" y="2051.7" width="16.6" height="16.7" fill="#65b0f5"/>
<rect x="725.5" y="2051.7" width="16.6" height="16.7" fill="#2b9ae8"/>
<rect x="741.8" y="2051.7" width="32.9" height="16.7" fill="#32a4f5"/>
<rect x="774.4" y="2051.7" width="16.6" height="16.7" fill="#2b8ed5"/>
<rect x="790.7" y="2051.7" width="16.6" height="16.7" fill="#32a4f5"/>
<rect x="807.0" y="2051.7" width="32.9" height="16.7" fill="#65b0f5"/>
<rect x="839.6" y="2051.7" width="16.6" height="16.7" fill="#3080be"/>
<rect x="855.9" y="2051.7" width="49.2" height="16.7" fill="#32a4f5"/>
<rect x="904.8" y="2051.7" width="16.6" height="16.7" fill="#65b0f5"/>
<rect x="921.1" y="2051.7" width="32.9" height="16.7" fill="#8cbcf2"/>
<rect x="953.7" y="2051.7" width="16.6" height="16.7" fill="#32a4f5"/>
<rect x="970.0" y="2051.7" width="32.9" height="16.7" fill="#8cbcf2"/>
<rect x="1002.6" y="2051.7" width="32.9" height="16.7" fill="#65b0f5"/>
<rect x="1035.2" y="2051.7" width="16.6" height="16.7" fill="#a6c6ef"/>
<rect x="1051.5" y="2051.7" width="16.6" height="16.7" fill="#65b0f5"/>
<rect x="1067.8" y="2051.7" width="16.6" height="16.7" fill="#8cbcf2"/>
<rect x="1084.1" y="2051.7" width="16.6" height="16.7" fill="#a6c6ef"/>
<rect x="318.0" y="2068.1" width="16.6" height="16.7" fill="#a6c6ef"/>
<rect x="366.9" y="2068.1" width="16.6" height="16.7" fill="#65b0f5"/>
<rect x="383.2" y="2068.1" width="49.2" height="16.7" fill="#a6c6ef"/>
<rect x="432.1" y="2068.1" width="16.6" height="16.7" fill="#8cbcf2"/>
<rect x="448.4" y="2068.1" width="81.8" height="16.7" fill="#a6c6ef"/>
<rect x="529.9" y="2068.1" width="16.6" height="16.7" fill="#65b0f5"/>
<rect x="546.2" y="2068.1" width="16.6" height="16.7" fill="#8cbcf2"/>
<rect x="562.5" y="2068.1" width="32.9" height="16.7" fill="#a6c6ef"/>
<rect x="595.1" y="2068.1" width="32.9" height="16.7" fill="#8cbcf2"/>
<rect x="627.7" y="2068.1" width="16.6" height="16.7" fill="#a6c6ef"/>
<rect x="644.0" y="2068.1" width="49.2" height="16.7" fill="#8cbcf2"/>
<rect x="692.9" y="2068.1" width="16.6" height="16.7" fill="#32a4f5"/>
<rect x="709.2" y="2068.1" width="49.2" height="16.7" fill="#a6c6ef"/>
<rect x="758.1" y="2068.1" width="16.6" height="16.7" fill="#32a4f5"/>
<rect x="774.4" y="2068.1" width="65.5" height="16.7" fill="#a6c6ef"/>
<rect x="839.6" y="2068.1" width="16.6" height="16.7" fill="#8cbcf2"/>
<rect x="855.9" y="2068.1" width="32.9" height="16.7" fill="#a6c6ef"/>
<rect x="888.5" y="2068.1" width="16.6" height="16.7" fill="#8cbcf2"/>
<rect x="904.8" y="2068.1" width="32.9" height="16.7" fill="#a6c6ef"/>
<rect x="937.4" y="2068.1" width="32.9" height="16.7" fill="#8cbcf2"/>
<rect x="986.3" y="2068.1" width="65.5" height="16.7" fill="#a6c6ef"/>
</g>
<rect x="229.5" y="2091.0" width="15.0" height="3" fill="#000"/>
<text transform="translate(214.6 2108.3) scale(1.025 1)" font-size="43" text-anchor="end">0.0</text>
<rect x="229.5" y="1924.0" width="15.0" height="3" fill="#000"/>
<text transform="translate(214.6 1941.3) scale(1.025 1)" font-size="43" text-anchor="end">0.2</text>
<rect x="229.5" y="1758.5" width="15.0" height="3" fill="#000"/>
<text transform="translate(214.6 1774.8) scale(1.025 1)" font-size="43" text-anchor="end">0.4</text>
<rect x="229.5" y="1588.9" width="15.0" height="3" fill="#000"/>
<text transform="translate(214.6 1608.2) scale(1.025 1)" font-size="43" text-anchor="end">0.6</text>
<rect x="229.5" y="1423.5" width="15.0" height="3" fill="#000"/>
<text transform="translate(214.6 1440.8) scale(1.025 1)" font-size="43" text-anchor="end">0.8</text>
<rect x="229.5" y="1256.8" width="15.0" height="3" fill="#000"/>
<text transform="translate(214.6 1274.1) scale(1.025 1)" font-size="43" text-anchor="end">1.0</text>
<rect x="278.7" y="2126.3" width="3" height="14.699999999999818" fill="#000"/>
<text transform="translate(279.9 2189.0) scale(1.025 1)" font-size="43" text-anchor="middle">0.0</text>
<rect x="443.9" y="2126.3" width="3" height="14.699999999999818" fill="#000"/>
<text transform="translate(445.09999999999997 2189.0) scale(1.025 1)" font-size="43" text-anchor="middle">0.2</text>
<rect x="610.8" y="2126.3" width="3" height="14.699999999999818" fill="#000"/>
<text transform="translate(612.0 2189.0) scale(1.025 1)" font-size="43" text-anchor="middle">0.4</text>
<rect x="775.6" y="2126.3" width="3" height="14.699999999999818" fill="#000"/>
<text transform="translate(776.8000000000001 2189.0) scale(1.025 1)" font-size="43" text-anchor="middle">0.6</text>
<rect x="940.8" y="2126.3" width="3" height="14.699999999999818" fill="#000"/>
<text transform="translate(942.0 2189.0) scale(1.025 1)" font-size="43" text-anchor="middle">0.8</text>
<rect x="1105.9" y="2126.3" width="3" height="14.699999999999818" fill="#000"/>
<text transform="translate(1107.1000000000001 2189.0) scale(1.025 1)" font-size="43" text-anchor="middle">1.0</text>
<text transform="translate(694.3 2248) scale(1.025 1)" font-size="42" text-anchor="middle">x</text>
<text transform="translate(118 1677) rotate(-90) scale(1.025 1)" font-size="42" text-anchor="middle">y</text>
<g shape-rendering="crispEdges">
<rect x="2179.1" y="1266.0" width="32.9" height="16.7" fill="#aac8ee"/>
<rect x="2179.1" y="1282.4" width="32.9" height="16.7" fill="#aac8ee"/>
<rect x="1657.2" y="1298.8" width="16.6" height="16.6" fill="#aac8ee"/>
<rect x="1950.7" y="1298.8" width="16.6" height="16.6" fill="#aac8ee"/>
<rect x="2162.8" y="1298.8" width="49.2" height="16.6" fill="#aac8ee"/>
<rect x="2146.5" y="1315.1" width="16.6" height="16.7" fill="#aac8ee"/>
<rect x="2179.1" y="1315.1" width="16.6" height="16.7" fill="#aac8ee"/>
<rect x="2146.5" y="1331.5" width="32.9" height="16.7" fill="#aac8ee"/>
<rect x="2130.2" y="1347.9" width="16.6" height="16.7" fill="#aac8ee"/>
<rect x="1934.4" y="1364.3" width="16.6" height="16.7" fill="#aac8ee"/>
<rect x="2179.1" y="1364.3" width="32.9" height="16.7" fill="#aac8ee"/>
<rect x="1575.6" y="1380.7" width="16.6" height="16.6" fill="#aac8ee"/>
<rect x="1804.0" y="1380.7" width="16.6" height="16.6" fill="#aac8ee"/>
<rect x="2016.0" y="1380.7" width="16.6" height="16.6" fill="#aac8ee"/>
<rect x="2081.2" y="1380.7" width="16.6" height="16.6" fill="#aac8ee"/>
<rect x="2179.1" y="1380.7" width="16.6" height="16.6" fill="#aac8ee"/>
<rect x="1657.2" y="1397.0" width="16.6" height="16.7" fill="#aac8ee"/>
<rect x="1689.8" y="1397.0" width="16.6" height="16.7" fill="#aac8ee"/>
<rect x="1901.8" y="1397.0" width="16.6" height="16.7" fill="#aac8ee"/>
<rect x="1575.6" y="1413.4" width="16.6" height="16.7" fill="#aac8ee"/>
<rect x="1624.5" y="1413.4" width="16.6" height="16.7" fill="#aac8ee"/>
<rect x="1787.6" y="1413.4" width="16.7" height="16.7" fill="#aac8ee"/>
<rect x="1852.9" y="1413.4" width="16.6" height="16.7" fill="#aac8ee"/>
<rect x="1934.4" y="1413.4" width="16.6" height="16.7" fill="#aac8ee"/>
<rect x="2097.5" y="1413.4" width="16.6" height="16.7" fill="#aac8ee"/>
<rect x="1657.2" y="1429.8" width="16.6" height="16.7" fill="#aac8ee"/>
<rect x="1494.1" y="1446.2" width="16.6" height="16.7" fill="#aac8ee"/>
<rect x="1591.9" y="1446.2" width="16.6" height="16.7" fill="#aac8ee"/>
<rect x="1983.4" y="1446.2" width="16.6" height="16.7" fill="#aac8ee"/>
<rect x="1543.0" y="1462.6" width="16.6" height="16.6" fill="#aac8ee"/>
<rect x="1950.7" y="1462.6" width="16.6" height="16.6" fill="#aac8ee"/>
<rect x="2130.2" y="1462.6" width="16.6" height="16.6" fill="#aac8ee"/>
<rect x="1624.5" y="1478.9" width="49.3" height="16.7" fill="#aac8ee"/>
<rect x="1689.8" y="1478.9" width="16.6" height="16.7" fill="#aac8ee"/>
<rect x="1755.0" y="1478.9" width="16.6" height="16.7" fill="#aac8ee"/>
<rect x="1804.0" y="1478.9" width="16.6" height="16.7" fill="#aac8ee"/>
<rect x="1869.2" y="1478.9" width="16.6" height="16.7" fill="#aac8ee"/>
<rect x="1918.1" y="1478.9" width="16.6" height="16.7" fill="#aac8ee"/>
<rect x="2130.2" y="1478.9" width="16.6" height="16.7" fill="#aac8ee"/>
<rect x="1706.1" y="1495.3" width="16.6" height="16.7" fill="#aac8ee"/>
<rect x="1738.7" y="1495.3" width="16.6" height="16.7" fill="#aac8ee"/>
<rect x="1869.2" y="1495.3" width="32.9" height="16.7" fill="#aac8ee"/>
<rect x="2195.4" y="1495.3" width="16.6" height="16.7" fill="#aac8ee"/>
<rect x="1559.3" y="1511.7" width="16.6" height="16.7" fill="#aac8ee"/>
<rect x="1689.8" y="1511.7" width="16.6" height="16.7" fill="#aac8ee"/>
<rect x="1804.0" y="1511.7" width="16.6" height="16.7" fill="#aac8ee"/>
<rect x="2032.3" y="1511.7" width="16.6" height="16.7" fill="#aac8ee"/>
<rect x="1575.6" y="1528.1" width="32.9" height="16.7" fill="#aac8ee"/>
<rect x="2032.3" y="1528.1" width="16.6" height="16.7" fill="#aac8ee"/>
<rect x="1575.6" y="1544.5" width="16.6" height="16.6" fill="#aac8ee"/>
<rect x="1608.2" y="1544.5" width="16.6" height="16.6" fill="#aac8ee"/>
<rect x="1640.8" y="1544.5" width="16.7" height="16.6" fill="#aac8ee"/>
<rect x="1673.5" y="1544.5" width="32.9" height="16.6" fill="#aac8ee"/>
<rect x="1722.4" y="1544.5" width="16.6" height="16.6" fill="#aac8ee"/>
<rect x="1901.8" y="1544.5" width="16.6" height="16.6" fill="#aac8ee"/>
<rect x="2048.6" y="1544.5" width="16.6" height="16.6" fill="#aac8ee"/>
<rect x="1526.7" y="1560.8" width="16.6" height="16.7" fill="#aac8ee"/>
<rect x="1689.8" y="1560.8" width="49.2" height="16.7" fill="#aac8ee"/>
<rect x="1787.6" y="1560.8" width="16.7" height="16.7" fill="#aac8ee"/>
<rect x="1918.1" y="1560.8" width="16.6" height="16.7" fill="#aac8ee"/>
<rect x="2064.9" y="1560.8" width="16.6" height="16.7" fill="#aac8ee"/>
<rect x="2146.5" y="1560.8" width="16.6" height="16.7" fill="#aac8ee"/>
<rect x="1624.5" y="1577.2" width="16.6" height="16.7" fill="#aac8ee"/>
<rect x="1673.5" y="1577.2" width="16.6" height="16.7" fill="#aac8ee"/>
<rect x="1755.0" y="1577.2" width="16.6" height="16.7" fill="#aac8ee"/>
<rect x="1869.2" y="1577.2" width="16.6" height="16.7" fill="#aac8ee"/>
<rect x="1950.7" y="1577.2" width="16.6" height="16.7" fill="#aac8ee"/>
<rect x="2032.3" y="1577.2" width="16.6" height="16.7" fill="#aac8ee"/>
<rect x="1591.9" y="1593.6" width="16.6" height="16.7" fill="#aac8ee"/>
<rect x="1640.8" y="1593.6" width="16.7" height="16.7" fill="#aac8ee"/>
<rect x="1706.1" y="1593.6" width="16.6" height="16.7" fill="#aac8ee"/>
<rect x="1869.2" y="1593.6" width="16.6" height="16.7" fill="#aac8ee"/>
<rect x="2032.3" y="1593.6" width="16.6" height="16.7" fill="#aac8ee"/>
<rect x="1526.7" y="1610.0" width="16.6" height="16.7" fill="#aac8ee"/>
<rect x="1559.3" y="1610.0" width="49.2" height="16.7" fill="#aac8ee"/>
<rect x="1657.2" y="1610.0" width="16.6" height="16.7" fill="#aac8ee"/>
<rect x="1689.8" y="1610.0" width="32.9" height="16.7" fill="#aac8ee"/>
<rect x="1738.7" y="1610.0" width="32.9" height="16.7" fill="#aac8ee"/>
<rect x="1820.3" y="1610.0" width="16.6" height="16.7" fill="#aac8ee"/>
<rect x="1885.5" y="1610.0" width="16.6" height="16.7" fill="#aac8ee"/>
<rect x="1918.1" y="1610.0" width="16.6" height="16.7" fill="#aac8ee"/>
<rect x="1510.4" y="1626.4" width="16.6" height="16.6" fill="#aac8ee"/>
<rect x="1624.5" y="1626.4" width="49.3" height="16.6" fill="#aac8ee"/>
<rect x="1755.0" y="1626.4" width="16.6" height="16.6" fill="#aac8ee"/>
<rect x="1820.3" y="1626.4" width="16.6" height="16.6" fill="#aac8ee"/>
<rect x="1950.7" y="1626.4" width="49.3" height="16.6" fill="#aac8ee"/>
<rect x="2064.9" y="1626.4" width="16.6" height="16.6" fill="#aac8ee"/>
<rect x="2097.5" y="1626.4" width="16.6" height="16.6" fill="#aac8ee"/>
<rect x="1510.4" y="1642.7" width="32.9" height="16.7" fill="#aac8ee"/>
<rect x="1559.3" y="1642.7" width="16.6" height="16.7" fill="#aac8ee"/>
<rect x="1624.5" y="1642.7" width="33.0" height="16.7" fill="#aac8ee"/>
<rect x="1689.8" y="1642.7" width="16.6" height="16.7" fill="#aac8ee"/>
<rect x="1722.4" y="1642.7" width="16.6" height="16.7" fill="#aac8ee"/>
<rect x="1755.0" y="1642.7" width="16.6" height="16.7" fill="#aac8ee"/>
<rect x="1787.6" y="1642.7" width="16.7" height="16.7" fill="#aac8ee"/>
<rect x="1836.6" y="1642.7" width="16.6" height="16.7" fill="#aac8ee"/>
<rect x="1885.5" y="1642.7" width="16.6" height="16.7" fill="#aac8ee"/>
<rect x="1918.1" y="1642.7" width="16.6" height="16.7" fill="#aac8ee"/>
<rect x="1983.4" y="1642.7" width="32.9" height="16.7" fill="#aac8ee"/>
<rect x="2064.9" y="1642.7" width="16.6" height="16.7" fill="#aac8ee"/>
<rect x="1494.1" y="1659.1" width="49.2" height="16.7" fill="#aac8ee"/>
<rect x="1559.3" y="1659.1" width="130.8" height="16.7" fill="#aac8ee"/>
<rect x="1804.0" y="1659.1" width="32.9" height="16.7" fill="#aac8ee"/>
<rect x="1494.1" y="1675.5" width="32.9" height="16.7" fill="#aac8ee"/>
<rect x="1543.0" y="1675.5" width="49.2" height="16.7" fill="#aac8ee"/>
<rect x="1608.2" y="1675.5" width="49.3" height="16.7" fill="#aac8ee"/>
<rect x="1755.0" y="1675.5" width="32.9" height="16.7" fill="#aac8ee"/>
<rect x="1852.9" y="1675.5" width="16.6" height="16.7" fill="#aac8ee"/>
<rect x="1901.8" y="1675.5" width="49.2" height="16.7" fill="#aac8ee"/>
<rect x="1983.4" y="1675.5" width="16.6" height="16.7" fill="#aac8ee"/>
<rect x="2048.6" y="1675.5" width="32.9" height="16.7" fill="#aac8ee"/>
<rect x="2113.8" y="1675.5" width="16.7" height="16.7" fill="#aac8ee"/>
<rect x="1494.1" y="1691.9" width="49.2" height="16.7" fill="#aac8ee"/>
<rect x="1575.6" y="1691.9" width="16.6" height="16.7" fill="#aac8ee"/>
<rect x="1624.5" y="1691.9" width="114.5" height="16.7" fill="#aac8ee"/>
<rect x="1755.0" y="1691.9" width="49.3" height="16.7" fill="#aac8ee"/>
<rect x="1820.3" y="1691.9" width="16.6" height="16.7" fill="#aac8ee"/>
<rect x="1852.9" y="1691.9" width="16.6" height="16.7" fill="#aac8ee"/>
<rect x="1999.7" y="1691.9" width="65.5" height="16.7" fill="#aac8ee"/>
<rect x="1461.4" y="1708.3" width="98.2" height="16.6" fill="#aac8ee"/>
<rect x="1575.6" y="1708.3" width="98.2" height="16.6" fill="#aac8ee"/>
<rect x="1706.1" y="1708.3" width="32.9" height="16.6" fill="#aac8ee"/>
<rect x="1771.3" y="1708.3" width="33.0" height="16.6" fill="#aac8ee"/>
<rect x="1820.3" y="1708.3" width="16.6" height="16.6" fill="#aac8ee"/>
<rect x="1869.2" y="1708.3" width="65.5" height="16.6" fill="#aac8ee"/>
<rect x="1445.1" y="1724.6" width="212.4" height="16.7" fill="#aac8ee"/>
<rect x="1689.8" y="1724.6" width="16.6" height="16.7" fill="#aac8ee"/>
<rect x="1722.4" y="1724.6" width="49.2" height="16.7" fill="#aac8ee"/>
<rect x="1787.6" y="1724.6" width="33.0" height="16.7" fill="#aac8ee"/>
<rect x="1869.2" y="1724.6" width="16.6" height="16.7" fill="#aac8ee"/>
<rect x="1999.7" y="1724.6" width="16.6" height="16.7" fill="#aac8ee"/>
<rect x="1445.1" y="1741.0" width="245.0" height="16.7" fill="#aac8ee"/>
<rect x="1706.1" y="1741.0" width="16.6" height="16.7" fill="#aac8ee"/>
<rect x="1738.7" y="1741.0" width="32.9" height="16.7" fill="#aac8ee"/>
<rect x="1787.6" y="1741.0" width="65.6" height="16.7" fill="#aac8ee"/>
<rect x="1869.2" y="1741.0" width="16.6" height="16.7" fill="#aac8ee"/>
<rect x="1934.4" y="1741.0" width="49.3" height="16.7" fill="#aac8ee"/>
<rect x="1428.8" y="1757.4" width="16.6" height="16.7" fill="#aac8ee"/>
<rect x="1461.4" y="1757.4" width="293.9" height="16.7" fill="#aac8ee"/>
<rect x="1771.3" y="1757.4" width="65.6" height="16.7" fill="#aac8ee"/>
<rect x="1852.9" y="1757.4" width="16.6" height="16.7" fill="#aac8ee"/>
<rect x="1918.1" y="1757.4" width="32.9" height="16.7" fill="#aac8ee"/>
<rect x="1445.1" y="1773.8" width="326.5" height="16.7" fill="#aac8ee"/>
<rect x="1787.6" y="1773.8" width="49.3" height="16.7" fill="#aac8ee"/>
<rect x="1852.9" y="1773.8" width="32.9" height="16.7" fill="#aac8ee"/>
<rect x="1934.4" y="1773.8" width="32.9" height="16.7" fill="#aac8ee"/>
<rect x="1999.7" y="1773.8" width="32.9" height="16.7" fill="#aac8ee"/>
<rect x="1428.8" y="1790.2" width="277.6" height="16.6" fill="#aac8ee"/>
<rect x="1722.4" y="1790.2" width="98.2" height="16.6" fill="#aac8ee"/>
<rect x="1885.5" y="1790.2" width="16.6" height="16.6" fill="#aac8ee"/>
<rect x="1428.8" y="1806.5" width="277.6" height="16.7" fill="#aac8ee"/>
<rect x="1738.7" y="1806.5" width="16.6" height="16.7" fill="#aac8ee"/>
<rect x="1771.3" y="1806.5" width="98.2" height="16.7" fill="#aac8ee"/>
<rect x="1885.5" y="1806.5" width="16.6" height="16.7" fill="#aac8ee"/>
<rect x="1967.0" y="1806.5" width="16.7" height="16.7" fill="#aac8ee"/>
<rect x="1428.8" y="1822.9" width="179.7" height="16.7" fill="#aac8ee"/>
<rect x="1624.5" y="1822.9" width="98.2" height="16.7" fill="#aac8ee"/>
<rect x="1755.0" y="1822.9" width="65.6" height="16.7" fill="#aac8ee"/>
<rect x="2048.6" y="1822.9" width="16.6" height="16.7" fill="#aac8ee"/>
<rect x="1428.8" y="1839.3" width="310.2" height="16.7" fill="#aac8ee"/>
<rect x="1755.0" y="1839.3" width="16.6" height="16.7" fill="#aac8ee"/>
<rect x="1412.5" y="1855.7" width="228.6" height="16.7" fill="#aac8ee"/>
<rect x="1657.2" y="1855.7" width="16.6" height="16.7" fill="#aac8ee"/>
<rect x="1689.8" y="1855.7" width="32.9" height="16.7" fill="#aac8ee"/>
<rect x="1738.7" y="1855.7" width="32.9" height="16.7" fill="#aac8ee"/>
<rect x="1804.0" y="1855.7" width="32.9" height="16.7" fill="#aac8ee"/>
<rect x="1852.9" y="1855.7" width="16.6" height="16.7" fill="#aac8ee"/>
<rect x="1918.1" y="1855.7" width="16.6" height="16.7" fill="#aac8ee"/>
<rect x="1412.5" y="1872.1" width="293.9" height="16.6" fill="#aac8ee"/>
<rect x="1738.7" y="1872.1" width="32.9" height="16.6" fill="#aac8ee"/>
<rect x="1787.6" y="1872.1" width="16.7" height="16.6" fill="#aac8ee"/>
<rect x="1412.5" y="1888.4" width="293.9" height="16.7" fill="#aac8ee"/>
<rect x="1722.4" y="1888.4" width="16.6" height="16.7" fill="#aac8ee"/>
<rect x="1771.3" y="1888.4" width="16.6" height="16.7" fill="#aac8ee"/>
<rect x="1412.5" y="1904.8" width="310.2" height="16.7" fill="#aac8ee"/>
<rect x="1738.7" y="1904.8" width="16.6" height="16.7" fill="#aac8ee"/>
<rect x="1820.3" y="1904.8" width="16.6" height="16.7" fill="#aac8ee"/>
<rect x="1412.5" y="1921.2" width="49.2" height="16.7" fill="#aac8ee"/>
<rect x="1461.4" y="1921.2" width="33.0" height="16.7" fill="#9ec3f0"/>
<rect x="1494.1" y="1921.2" width="179.7" height="16.7" fill="#aac8ee"/>
<rect x="1689.8" y="1921.2" width="16.6" height="16.7" fill="#aac8ee"/>
<rect x="1412.5" y="1937.6" width="32.9" height="16.7" fill="#aac8ee"/>
<rect x="1445.1" y="1937.6" width="16.6" height="16.7" fill="#a0c4ef"/>
<rect x="1461.4" y="1937.6" width="16.7" height="16.7" fill="#8cbcf2"/>
<rect x="1477.8" y="1937.6" width="16.6" height="16.7" fill="#9cc2f0"/>
<rect x="1494.1" y="1937.6" width="163.4" height="16.7" fill="#aac8ee"/>
<rect x="1673.5" y="1937.6" width="16.6" height="16.7" fill="#aac8ee"/>
<rect x="1755.0" y="1937.6" width="16.6" height="16.7" fill="#aac8ee"/>
<rect x="1396.2" y="1954.0" width="32.9" height="16.6" fill="#aac8ee"/>
<rect x="1428.8" y="1954.0" width="16.6" height="16.6" fill="#a4c5ef"/>
<rect x="1445.1" y="1954.0" width="16.6" height="16.6" fill="#79b5f4"/>
<rect x="1461.4" y="1954.0" width="16.7" height="16.6" fill="#65b0f5"/>
<rect x="1477.8" y="1954.0" width="16.6" height="16.6" fill="#9ec3f0"/>
<rect x="1494.1" y="1954.0" width="163.4" height="16.6" fill="#aac8ee"/>
<rect x="1412.5" y="1970.3" width="16.6" height="16.7" fill="#aac8ee"/>
<rect x="1428.8" y="1970.3" width="16.6" height="16.7" fill="#a0c4ef"/>
<rect x="1445.1" y="1970.3" width="16.6" height="16.7" fill="#2d9dec"/>
<rect x="1461.4" y="1970.3" width="16.7" height="16.7" fill="#5faef6"/>
<rect x="1477.8" y="1970.3" width="16.6" height="16.7" fill="#a2c4ef"/>
<rect x="1494.1" y="1970.3" width="163.4" height="16.7" fill="#aac8ee"/>
<rect x="1396.2" y="1986.7" width="16.6" height="16.7" fill="#aac8ee"/>
<rect x="1412.5" y="1986.7" width="16.6" height="16.7" fill="#a6c6ef"/>
<rect x="1428.8" y="1986.7" width="16.6" height="16.7" fill="#2e9fee"/>
<rect x="1445.1" y="1986.7" width="16.6" height="16.7" fill="#2e85c6"/>
<rect x="1461.4" y="1986.7" width="16.7" height="16.7" fill="#79b5f4"/>
<rect x="1477.8" y="1986.7" width="16.6" height="16.7" fill="#a4c5ef"/>
<rect x="1494.1" y="1986.7" width="163.4" height="16.7" fill="#aac8ee"/>
<rect x="1396.2" y="2003.1" width="16.6" height="16.7" fill="#aac8ee"/>
<rect x="1412.5" y="2003.1" width="16.6" height="16.7" fill="#8cbcf2"/>
<rect x="1428.8" y="2003.1" width="16.6" height="16.7" fill="#3b6994"/>
<rect x="1445.1" y="2003.1" width="16.6" height="16.7" fill="#2a94de"/>
<rect x="1461.4" y="2003.1" width="16.7" height="16.7" fill="#89bbf2"/>
<rect x="1477.8" y="2003.1" width="114.4" height="16.7" fill="#aac8ee"/>
<rect x="1608.2" y="2003.1" width="16.6" height="16.7" fill="#aac8ee"/>
<rect x="1396.2" y="2019.5" width="16.6" height="16.7" fill="#a4c5ef"/>
<rect x="1412.5" y="2019.5" width="16.6" height="16.7" fill="#3080be"/>
<rect x="1428.8" y="2019.5" width="16.6" height="16.7" fill="#3d6287"/>
<rect x="1445.1" y="2019.5" width="16.6" height="16.7" fill="#72b3f4"/>
<rect x="1461.4" y="2019.5" width="16.7" height="16.7" fill="#a2c4ef"/>
<rect x="1477.8" y="2019.5" width="81.8" height="16.7" fill="#aac8ee"/>
<rect x="1608.2" y="2019.5" width="16.6" height="16.7" fill="#aac8ee"/>
<rect x="1396.2" y="2035.9" width="16.6" height="16.6" fill="#97c0f0"/>
<rect x="1412.5" y="2035.9" width="16.6" height="16.6" fill="#3d5672"/>
<rect x="1428.8" y="2035.9" width="16.6" height="16.6" fill="#2a99e5"/>
<rect x="1445.1" y="2035.9" width="16.6" height="16.6" fill="#97c0f0"/>
<rect x="1461.4" y="2035.9" width="65.6" height="16.6" fill="#aac8ee"/>
<rect x="1559.3" y="2035.9" width="16.6" height="16.6" fill="#aac8ee"/>
<rect x="1396.2" y="2052.2" width="16.6" height="16.7" fill="#84b9f2"/>
<rect x="1412.5" y="2052.2" width="16.6" height="16.7" fill="#2e9fee"/>
<rect x="1428.8" y="2052.2" width="16.6" height="16.7" fill="#97c0f0"/>
<rect x="1445.1" y="2052.2" width="65.6" height="16.7" fill="#aac8ee"/>
<rect x="1396.2" y="2068.6" width="49.2" height="16.7" fill="#aac8ee"/>
</g>
<rect x="1340.2" y="2086.4" width="14.0" height="3" fill="#000"/>
<text transform="translate(1325.0 2103.5) scale(1.025 1)" font-size="43" text-anchor="end">0.0</text>
<rect x="1340.2" y="1916.8" width="14.0" height="3" fill="#000"/>
<text transform="translate(1325.0 1933.8999999999999) scale(1.025 1)" font-size="43" text-anchor="end">0.2</text>
<rect x="1340.2" y="1747.3" width="14.0" height="3" fill="#000"/>
<text transform="translate(1325.0 1764.3999999999999) scale(1.025 1)" font-size="43" text-anchor="end">0.4</text>
<rect x="1340.2" y="1578.6" width="14.0" height="3" fill="#000"/>
<text transform="translate(1325.0 1595.6999999999998) scale(1.025 1)" font-size="43" text-anchor="end">0.6</text>
<rect x="1340.2" y="1410.6" width="14.0" height="3" fill="#000"/>
<text transform="translate(1325.0 1427.6999999999998) scale(1.025 1)" font-size="43" text-anchor="end">0.8</text>
<rect x="1340.2" y="1243.0" width="14.0" height="3" fill="#000"/>
<text transform="translate(1325.0 1260.1) scale(1.025 1)" font-size="43" text-anchor="end">1.0</text>
<rect x="1390.9" y="2126.7" width="3" height="14.0" fill="#000"/>
<text transform="translate(1392.1000000000001 2188.3) scale(1.025 1)" font-size="43" text-anchor="middle">0.0</text>
<rect x="1556.4" y="2126.7" width="3" height="14.0" fill="#000"/>
<text transform="translate(1557.6000000000001 2188.3) scale(1.025 1)" font-size="43" text-anchor="middle">0.2</text>
<rect x="1723.5" y="2126.7" width="3" height="14.0" fill="#000"/>
<text transform="translate(1724.7 2188.3) scale(1.025 1)" font-size="43" text-anchor="middle">0.4</text>
<rect x="1888.5" y="2126.7" width="3" height="14.0" fill="#000"/>
<text transform="translate(1889.7 2188.3) scale(1.025 1)" font-size="43" text-anchor="middle">0.6</text>
<rect x="2055.8" y="2126.7" width="3" height="14.0" fill="#000"/>
<text transform="translate(2057.0 2188.3) scale(1.025 1)" font-size="43" text-anchor="middle">0.8</text>
<rect x="2221.9" y="2126.7" width="3" height="14.0" fill="#000"/>
<text transform="translate(2223.1 2188.3) scale(1.025 1)" font-size="43" text-anchor="middle">1.0</text>
<text transform="translate(1803 2246.8) scale(1.025 1)" font-size="42" text-anchor="middle">width</text>
<text transform="translate(1231.3 1680) rotate(-90) scale(1.025 1)" font-size="42" text-anchor="middle">height</text>
</svg>
</body></html>
